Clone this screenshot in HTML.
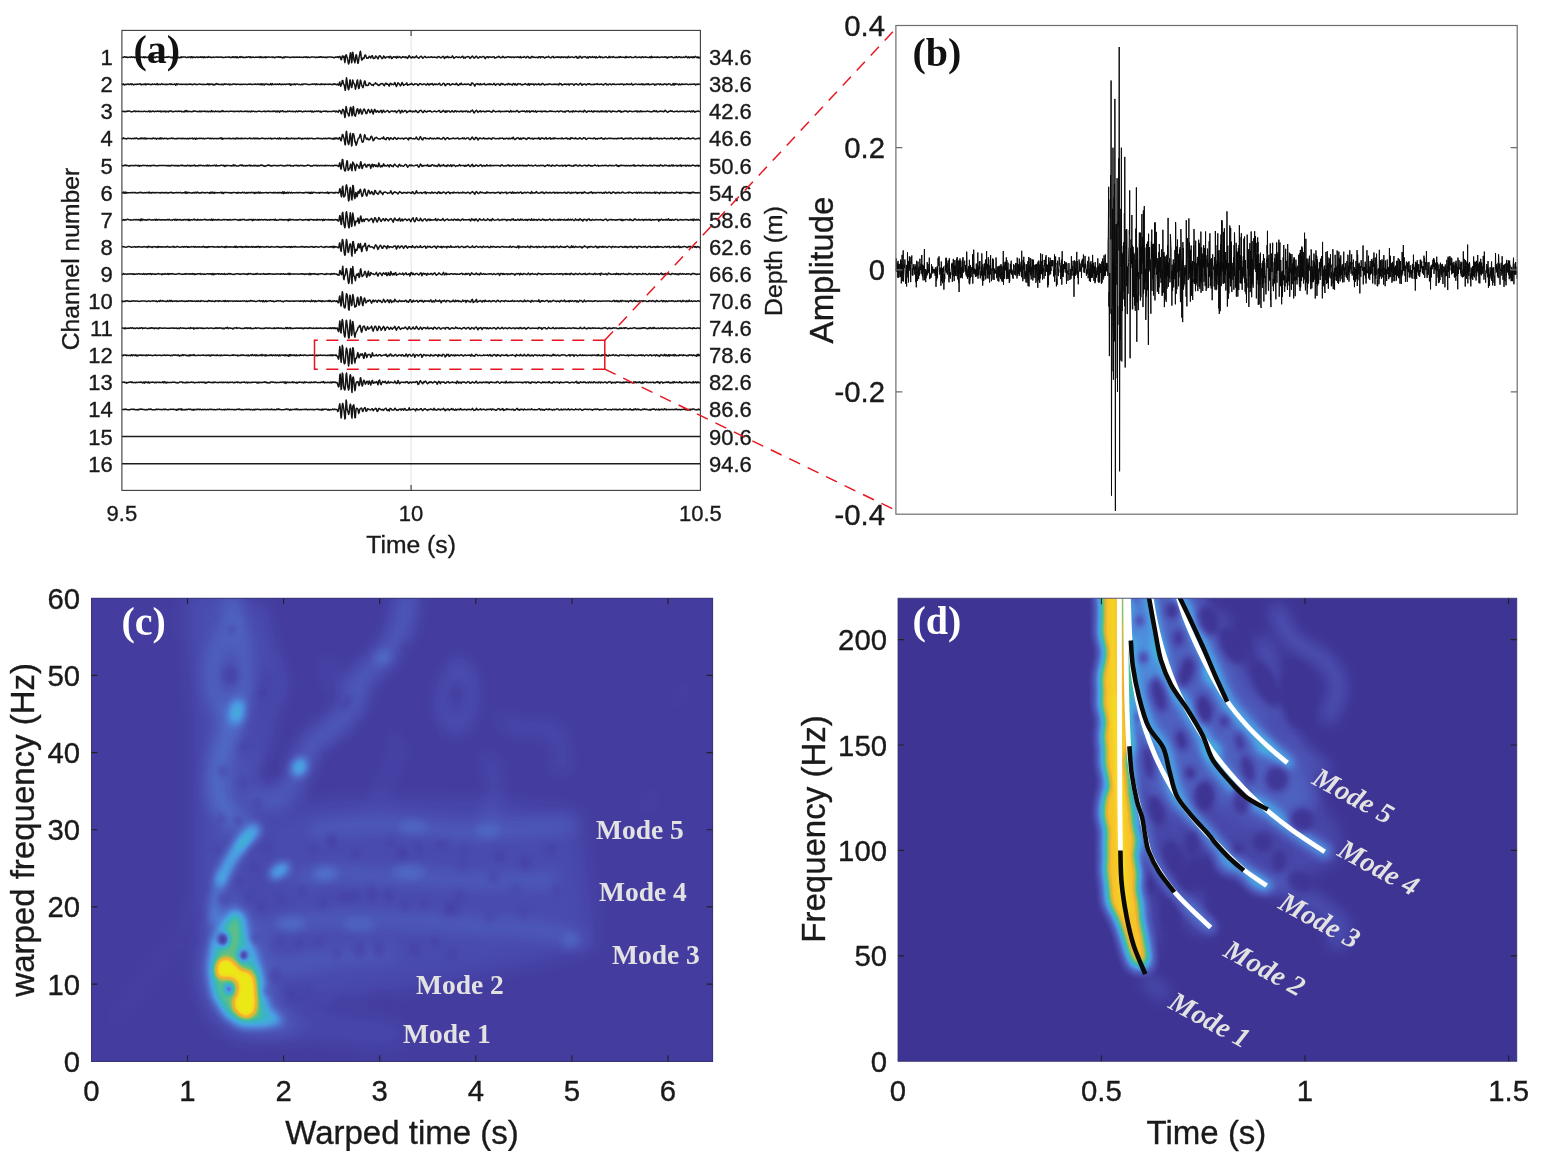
<!DOCTYPE html>
<html lang="en"><head><meta charset="utf-8"><title>Figure</title>
<style>html,body{margin:0;padding:0;background:#fff}body{width:1543px;height:1166px;overflow:hidden}svg{display:block}</style>
</head><body>
<svg width="1543" height="1166" viewBox="0 0 1543 1166">
<rect width="1543" height="1166" fill="#fff"/>
<defs>
<filter id="cmC" filterUnits="userSpaceOnUse" x="60" y="570" width="700" height="520" color-interpolation-filters="sRGB"><feComponentTransfer><feFuncR type="table" tableValues="0.267 0.29 0.306 0.31 0.302 0.29 0.259 0.227 0.243 0.333 0.451 0.627 0.804 0.941 0.973 0.961 0.925"/><feFuncG type="table" tableValues="0.239 0.302 0.376 0.463 0.553 0.627 0.675 0.706 0.729 0.745 0.753 0.753 0.737 0.686 0.706 0.843 0.914"/><feFuncB type="table" tableValues="0.627 0.686 0.745 0.808 0.859 0.882 0.843 0.776 0.686 0.569 0.451 0.333 0.235 0.196 0.176 0.137 0.086"/></feComponentTransfer></filter>
<filter id="bC2" filterUnits="userSpaceOnUse" x="30" y="540" width="760" height="580" color-interpolation-filters="sRGB"><feGaussianBlur stdDeviation="2.6"/></filter>
<filter id="bC3" filterUnits="userSpaceOnUse" x="30" y="540" width="760" height="580" color-interpolation-filters="sRGB"><feGaussianBlur stdDeviation="3"/></filter>
<filter id="bC5" filterUnits="userSpaceOnUse" x="30" y="540" width="760" height="580" color-interpolation-filters="sRGB"><feGaussianBlur stdDeviation="5"/></filter>
<filter id="bC8" filterUnits="userSpaceOnUse" x="30" y="540" width="760" height="580" color-interpolation-filters="sRGB"><feGaussianBlur stdDeviation="8"/></filter>
<filter id="bC12" filterUnits="userSpaceOnUse" x="30" y="540" width="760" height="580" color-interpolation-filters="sRGB"><feGaussianBlur stdDeviation="12"/></filter>
<clipPath id="clipC"><rect x="91.4" y="598.2" width="621.3" height="463.1"/></clipPath>
</defs>
<g id="panelC">
<g clip-path="url(#clipC)"><g filter="url(#cmC)">
<rect x="60" y="570" width="700" height="520" fill="#000"/>
<g filter="url(#bC12)">
<path d="M263.6 807.9 372.6 799.9 493.7 803.9 578.5 812 586.6 880.6 594.6 945.2 534.1 961.3 413 985.6 316.1 1001.7 267.6 985.6 259.6 921 251.5 860.4Z" fill="#fff" fill-opacity="0.055"/>
<path d="M267.6 1019.9C278.4 1021.2 310.7 1025.6 332.2 1028C353.8 1030.3 386.1 1033 396.8 1034" fill="none" stroke="#fff" stroke-width="16" stroke-opacity="0.07" stroke-linecap="round" stroke-linejoin="round"/>
<path d="M114.2 1021.9C121.6 1011.8 145.2 979.5 158.6 961.3C172.1 943.2 188.9 921 195 912.9" fill="none" stroke="#fff" stroke-width="10" stroke-opacity="0.035" stroke-linecap="round" stroke-linejoin="round"/>
<path d="M211.1 610.1C213.1 628.3 221.2 683.5 223.2 719.1C225.2 754.8 223.2 793.1 223.2 824.1C223.2 855 223.2 891.4 223.2 904.8" fill="none" stroke="#fff" stroke-width="50" stroke-opacity="0.07" stroke-linecap="round" stroke-linejoin="round"/>
<path d="M229.7 905.6 211.8 929.5 203.9 969.2 213.8 1009 239.7 1030.9 269.5 1028.9 303.3 1026.9 271.5 1009 265.5 969.2 251.6 919.5Z" fill="#fff" fill-opacity="0.2"/>
</g>
<g filter="url(#bC8)">
<path d="M233.7 600C234.7 604.6 237.5 618.9 239.7 627.8C241.8 636.8 245.5 643.8 246.6 653.7C247.8 663.6 248.1 677.9 246.6 687.5C245.1 697.1 240.5 703.8 237.7 711.4C234.9 719 232.4 726.3 229.7 733.3C227.1 740.2 223.9 745.9 221.8 753.2C219.6 760.5 217.1 769.1 216.8 777C216.5 785 217.3 794.3 219.8 800.9C222.3 807.5 226.7 812.2 231.7 816.8C236.7 821.5 246.6 826.8 249.6 828.8" fill="none" stroke="#fff" stroke-width="21" stroke-opacity="0.1" stroke-linecap="round" stroke-linejoin="round"/>
<path d="M229.7 627.8C227.1 632.8 216.8 647.7 213.8 657.7C210.8 667.6 210.8 679.6 211.8 687.5C212.8 695.5 216.1 700.4 219.8 705.4C223.4 710.4 231.4 715.4 233.7 717.4" fill="none" stroke="#fff" stroke-width="17" stroke-opacity="0.07" stroke-linecap="round" stroke-linejoin="round"/>
<path d="M259.6 609.9C260.4 614.6 262.2 628.8 264.5 637.8C266.9 646.7 271 655.4 273.5 663.6C276 671.9 280.1 679.9 279.5 687.5C278.8 695.1 272.2 701.1 269.5 709.4C266.9 717.7 265.7 728.6 263.5 737.2C261.4 745.9 259.6 754.5 256.6 761.1C253.6 767.8 247.5 774.4 245.6 777" fill="none" stroke="#fff" stroke-width="17" stroke-opacity="0.055" stroke-linecap="round" stroke-linejoin="round"/>
<path d="M406.8 600C405.8 604.6 404.8 618.2 400.8 627.8C396.8 637.5 389.9 648.7 382.9 657.7C375.9 666.6 363.7 674.3 359 681.5C354.4 688.8 359 694.1 355.1 701.4C351.1 708.7 341.8 718.7 335.2 725.3C328.5 731.9 321.2 734.3 315.3 741.2C309.3 748.2 303.3 759.5 299.4 767.1C295.4 774.7 295.7 781.7 291.4 787C287.1 792.3 279.1 797.3 273.5 798.9C267.9 800.6 260.2 797.3 257.6 796.9" fill="none" stroke="#fff" stroke-width="23" stroke-opacity="0.1" stroke-linecap="round" stroke-linejoin="round"/>
<path d="M458.5 663.6C456.2 667.6 446.9 678.6 444.6 687.5C442.3 696.5 442.3 710.7 444.6 717.4C446.9 724 454.4 728.6 458.5 727.3C462.6 726 467.6 717.7 469.4 709.4C471.3 701.1 471.3 685.2 469.4 677.6C467.6 669.9 460.3 666 458.5 663.6" fill="none" stroke="#fff" stroke-width="13" stroke-opacity="0.07" stroke-linecap="round" stroke-linejoin="round"/>
<path d="M398.8 737.2C398.2 741.2 398.2 751.2 394.8 761.1C391.5 771.1 381.6 791 378.9 796.9" fill="none" stroke="#fff" stroke-width="18" stroke-opacity="0.028" stroke-linecap="round" stroke-linejoin="round"/>
<path d="M327.2 663.6C327.9 666.6 327.9 677.6 331.2 681.5C334.5 685.5 344.4 686.5 347.1 687.5" fill="none" stroke="#fff" stroke-width="18" stroke-opacity="0.028" stroke-linecap="round" stroke-linejoin="round"/>
<path d="M505.6 721.3C508.6 722.7 517.2 728.3 523.5 729.3C529.8 730.3 537.5 726 543.4 727.3C549.4 728.6 556.4 730.6 559.4 737.2C562.3 743.9 561 762.1 561.3 767.1" fill="none" stroke="#fff" stroke-width="20" stroke-opacity="0.035" stroke-linecap="round" stroke-linejoin="round"/>
<path d="M489.7 761.1C490.7 765.4 495.7 777.7 495.7 787C495.7 796.3 490.7 811.8 489.7 816.8" fill="none" stroke="#fff" stroke-width="20" stroke-opacity="0.035" stroke-linecap="round" stroke-linejoin="round"/>
<ellipse cx="680.7" cy="695.5" rx="5" ry="13" fill="#fff" fill-opacity="0.03" transform="rotate(20 680.7 695.5)"/>
<ellipse cx="648.9" cy="800.9" rx="6" ry="12" fill="#fff" fill-opacity="0.03" transform="rotate(20 648.9 800.9)"/>
<path d="M316.1 830.1C325.5 829.1 356.5 824.8 372.6 824.1C388.7 823.4 399.5 824.8 413 826.1C426.4 827.4 439.9 831.5 453.3 832.2C466.8 832.8 474.2 831.5 493.7 830.1C513.2 828.8 557.6 825.1 570.4 824.1" fill="none" stroke="#fff" stroke-width="19" stroke-opacity="0.055" stroke-linecap="round" stroke-linejoin="round"/>
<path d="M299.9 880.6C305.3 879.3 320.1 873.2 332.2 872.5C344.3 871.9 359.1 875.9 372.6 876.6C386.1 877.2 396.1 875.9 413 876.6C429.8 877.2 450.7 879.9 473.5 880.6C496.4 881.3 537.4 880.6 550.2 880.6" fill="none" stroke="#fff" stroke-width="19" stroke-opacity="0.055" stroke-linecap="round" stroke-linejoin="round"/>
<path d="M271.7 925C283.1 924 316.8 919.6 340.3 919C363.9 918.3 390.8 920 413 921C435.2 922 453.3 923.7 473.5 925C493.7 926.4 515.9 926.4 534.1 929C552.3 931.7 574.5 939.1 582.5 941.2" fill="none" stroke="#fff" stroke-width="19" stroke-opacity="0.055" stroke-linecap="round" stroke-linejoin="round"/>
<path d="M279.7 967.4C288.5 965.7 314.1 959.7 332.2 957.3C350.4 955 379.3 953.9 388.7 953.3" fill="none" stroke="#fff" stroke-width="19" stroke-opacity="0.05" stroke-linecap="round" stroke-linejoin="round"/>
</g>
<g filter="url(#bC5)">
<ellipse cx="237.3" cy="711.4" rx="5.5" ry="12" fill="#fff" fill-opacity="0.32" transform="rotate(10 237.3 711.4)"/>
<ellipse cx="299.4" cy="767.1" rx="6.5" ry="9" fill="#fff" fill-opacity="0.36" transform="rotate(25 299.4 767.1)"/>
<ellipse cx="382.9" cy="657.7" rx="9" ry="8" fill="#fff" fill-opacity="0.08"/>
<path d="M254.6 830C252.4 832.3 246 838.3 241.7 843.9C237.4 849.6 232.2 857.8 228.7 863.8C225.3 869.8 222.1 877.1 220.8 879.7" fill="none" stroke="#fff" stroke-width="10" stroke-opacity="0.34" stroke-linecap="round" stroke-linejoin="round"/>
<path d="M220.8 879.7C219.9 883 216.6 893 215.4 899.6C214.2 906.3 214.1 916.2 213.8 919.5" fill="none" stroke="#fff" stroke-width="10" stroke-opacity="0.14" stroke-linecap="round" stroke-linejoin="round"/>
<ellipse cx="242.7" cy="842.9" rx="4" ry="11" fill="#fff" fill-opacity="0.25" transform="rotate(40 242.7 842.9)"/>
<ellipse cx="279.5" cy="870.8" rx="11" ry="5.5" fill="#fff" fill-opacity="0.36" transform="rotate(-35 279.5 870.8)"/>
<ellipse cx="325.2" cy="873.8" rx="12" ry="7" fill="#fff" fill-opacity="0.1"/>
<ellipse cx="408.8" cy="871.8" rx="16" ry="8" fill="#fff" fill-opacity="0.07"/>
<ellipse cx="291.4" cy="923.5" rx="14" ry="7" fill="#fff" fill-opacity="0.07"/>
<ellipse cx="359" cy="925.5" rx="16" ry="7" fill="#fff" fill-opacity="0.06"/>
<ellipse cx="487.7" cy="831.3" rx="12" ry="7" fill="#fff" fill-opacity="0.06"/>
<ellipse cx="413" cy="826.9" rx="14" ry="7" fill="#fff" fill-opacity="0.06"/>
<ellipse cx="570.4" cy="941.2" rx="9" ry="9" fill="#fff" fill-opacity="0.06"/>
<path d="M233.7 909.6 222.8 923.5 212.8 941.4 208.8 969.2 212.8 995.1 224.8 1015 239.7 1025.9 259.6 1025.9 283.4 1022 267.5 1009 262.6 981.2 255.6 957.3 245.6 933.4 243.7 915.5Z" fill="#fff" fill-opacity="0.34"/>
</g>
<g filter="url(#bC3)">
<path d="M233.7 914.5 226.7 925.5 227.7 941.4 216.8 953.3 212.8 973.2 217.8 997.1 229.7 1015 245.6 1022 261.6 1018 259.6 989.1 257.6 967.3 247.6 965.3 237.7 949.4 241.7 933.4 239.7 917.5Z" fill="#fff" fill-opacity="0.22"/>
<ellipse cx="230.7" cy="675.6" rx="8" ry="10" fill="#000" fill-opacity="0.6"/>
<ellipse cx="261.6" cy="693.5" rx="4" ry="5" fill="#000" fill-opacity="0.6"/>
<ellipse cx="231.7" cy="629.8" rx="4" ry="5" fill="#000" fill-opacity="0.6"/>
<ellipse cx="243.7" cy="746.2" rx="4" ry="5" fill="#000" fill-opacity="0.6"/>
<ellipse cx="222.8" cy="771.1" rx="4" ry="5" fill="#000" fill-opacity="0.6"/>
<ellipse cx="242.7" cy="782" rx="4" ry="5" fill="#000" fill-opacity="0.6"/>
<ellipse cx="257.6" cy="802.9" rx="4" ry="5" fill="#000" fill-opacity="0.6"/>
<ellipse cx="220.8" cy="818.8" rx="4" ry="5" fill="#000" fill-opacity="0.6"/>
<ellipse cx="237.7" cy="820.8" rx="4" ry="5" fill="#000" fill-opacity="0.6"/>
<ellipse cx="273.5" cy="769.1" rx="7" ry="8.8" fill="#000" fill-opacity="0.6"/>
<ellipse cx="345.1" cy="705.4" rx="4" ry="5" fill="#000" fill-opacity="0.6"/>
<ellipse cx="404.8" cy="647.7" rx="4" ry="5" fill="#000" fill-opacity="0.6"/>
<ellipse cx="455.5" cy="693.5" rx="5" ry="6.2" fill="#000" fill-opacity="0.6"/>
<ellipse cx="406.8" cy="735.3" rx="5" ry="6.2" fill="#000" fill-opacity="0.6"/>
<ellipse cx="426.7" cy="735.3" rx="5" ry="6.2" fill="#000" fill-opacity="0.6"/>
<ellipse cx="325.2" cy="753.2" rx="3" ry="3.8" fill="#000" fill-opacity="0.6"/>
<ellipse cx="222.8" cy="899.6" rx="4.5" ry="5.9" fill="#000" fill-opacity="0.55"/>
<ellipse cx="248.6" cy="898.6" rx="4" ry="5.2" fill="#000" fill-opacity="0.55"/>
<ellipse cx="260.6" cy="906.6" rx="4" ry="5.2" fill="#000" fill-opacity="0.55"/>
<ellipse cx="239.7" cy="881.7" rx="4" ry="5.2" fill="#000" fill-opacity="0.55"/>
<ellipse cx="254.6" cy="867.8" rx="4" ry="5.2" fill="#000" fill-opacity="0.55"/>
<ellipse cx="216.8" cy="848.9" rx="3.5" ry="4.5" fill="#000" fill-opacity="0.55"/>
<ellipse cx="268.5" cy="848.9" rx="4" ry="5.2" fill="#000" fill-opacity="0.55"/>
<ellipse cx="199.9" cy="916.5" rx="3.5" ry="4.5" fill="#000" fill-opacity="0.55"/>
<ellipse cx="194.9" cy="938.4" rx="3.5" ry="4.5" fill="#000" fill-opacity="0.55"/>
<ellipse cx="254.6" cy="938.4" rx="4" ry="5.2" fill="#000" fill-opacity="0.55"/>
<ellipse cx="281.5" cy="899.6" rx="4" ry="5.2" fill="#000" fill-opacity="0.55"/>
<ellipse cx="280.5" cy="941.4" rx="4" ry="5.2" fill="#000" fill-opacity="0.55"/>
<ellipse cx="265.5" cy="991.1" rx="4" ry="5.2" fill="#000" fill-opacity="0.55"/>
<ellipse cx="302.3" cy="889.7" rx="5" ry="6.5" fill="#000" fill-opacity="0.55"/>
<ellipse cx="314.3" cy="848.9" rx="4" ry="5.2" fill="#000" fill-opacity="0.55"/>
<ellipse cx="323.2" cy="903.6" rx="4" ry="5.2" fill="#000" fill-opacity="0.55"/>
<ellipse cx="342.1" cy="897.6" rx="4.5" ry="5.9" fill="#000" fill-opacity="0.55"/>
<ellipse cx="354.1" cy="895.6" rx="4.5" ry="5.9" fill="#000" fill-opacity="0.55"/>
<ellipse cx="299.4" cy="943.4" rx="4" ry="5.2" fill="#000" fill-opacity="0.55"/>
<ellipse cx="307.3" cy="989.1" rx="4" ry="5.2" fill="#000" fill-opacity="0.55"/>
<ellipse cx="275.5" cy="975.2" rx="6" ry="7.8" fill="#000" fill-opacity="0.55"/>
<ellipse cx="291.4" cy="995.1" rx="4" ry="5.2" fill="#000" fill-opacity="0.55"/>
<ellipse cx="319.2" cy="941.4" rx="4" ry="5.2" fill="#000" fill-opacity="0.55"/>
<ellipse cx="337.2" cy="953.3" rx="4" ry="5.2" fill="#000" fill-opacity="0.55"/>
<ellipse cx="359" cy="949.4" rx="6" ry="7.8" fill="#000" fill-opacity="0.55"/>
<ellipse cx="378.9" cy="949.4" rx="6" ry="7.8" fill="#000" fill-opacity="0.55"/>
<ellipse cx="390.9" cy="841.9" rx="4" ry="5.2" fill="#000" fill-opacity="0.55"/>
<ellipse cx="404.8" cy="853.9" rx="4" ry="5.2" fill="#000" fill-opacity="0.55"/>
<ellipse cx="418.7" cy="847.9" rx="4" ry="5.2" fill="#000" fill-opacity="0.55"/>
<ellipse cx="438.6" cy="843.9" rx="4" ry="5.2" fill="#000" fill-opacity="0.55"/>
<ellipse cx="388.9" cy="895.6" rx="5" ry="6.5" fill="#000" fill-opacity="0.55"/>
<ellipse cx="404.8" cy="905.6" rx="4" ry="5.2" fill="#000" fill-opacity="0.55"/>
<ellipse cx="424.7" cy="903.6" rx="4" ry="5.2" fill="#000" fill-opacity="0.55"/>
<ellipse cx="448.5" cy="909.6" rx="5" ry="6.5" fill="#000" fill-opacity="0.55"/>
<ellipse cx="371" cy="889.7" rx="4" ry="5.2" fill="#000" fill-opacity="0.55"/>
<ellipse cx="414.7" cy="949.4" rx="5" ry="6.5" fill="#000" fill-opacity="0.55"/>
<ellipse cx="434.6" cy="941.4" rx="4" ry="5.2" fill="#000" fill-opacity="0.55"/>
<ellipse cx="331.2" cy="841.9" rx="4" ry="5.2" fill="#000" fill-opacity="0.55"/>
<ellipse cx="355.1" cy="853.9" rx="4" ry="5.2" fill="#000" fill-opacity="0.55"/>
<ellipse cx="462.5" cy="865.8" rx="4" ry="5.2" fill="#000" fill-opacity="0.55"/>
<ellipse cx="452.5" cy="953.3" rx="5" ry="6.5" fill="#000" fill-opacity="0.55"/>
<ellipse cx="378.9" cy="999.1" rx="5" ry="6.5" fill="#000" fill-opacity="0.55"/>
<ellipse cx="343.1" cy="1001.1" rx="4" ry="5.2" fill="#000" fill-opacity="0.55"/>
<ellipse cx="463.9" cy="849.9" rx="4" ry="5.2" fill="#000" fill-opacity="0.5"/>
<ellipse cx="499.7" cy="855.9" rx="5" ry="6.5" fill="#000" fill-opacity="0.5"/>
<ellipse cx="523.5" cy="861.8" rx="4" ry="5.2" fill="#000" fill-opacity="0.5"/>
<ellipse cx="551.4" cy="849.9" rx="5" ry="6.5" fill="#000" fill-opacity="0.5"/>
<ellipse cx="459.9" cy="895.6" rx="5" ry="6.5" fill="#000" fill-opacity="0.5"/>
<ellipse cx="489.7" cy="917.5" rx="4" ry="5.2" fill="#000" fill-opacity="0.5"/>
<ellipse cx="523.5" cy="913.5" rx="4" ry="5.2" fill="#000" fill-opacity="0.5"/>
<ellipse cx="557.4" cy="889.7" rx="4" ry="5.2" fill="#000" fill-opacity="0.5"/>
<ellipse cx="515.6" cy="889.7" rx="4" ry="5.2" fill="#000" fill-opacity="0.5"/>
<ellipse cx="332.2" cy="840.2" rx="6" ry="7.5" fill="#000" fill-opacity="0.5"/>
<ellipse cx="400.9" cy="852.3" rx="5" ry="6.2" fill="#000" fill-opacity="0.5"/>
<ellipse cx="445.3" cy="844.3" rx="4" ry="5" fill="#000" fill-opacity="0.5"/>
<ellipse cx="493.7" cy="876.6" rx="5" ry="6.2" fill="#000" fill-opacity="0.5"/>
<ellipse cx="526" cy="864.5" rx="5" ry="6.2" fill="#000" fill-opacity="0.5"/>
<ellipse cx="348.4" cy="896.7" rx="4" ry="5" fill="#000" fill-opacity="0.5"/>
<ellipse cx="372.6" cy="896.7" rx="5" ry="6.2" fill="#000" fill-opacity="0.5"/>
<ellipse cx="453.3" cy="908.9" rx="6" ry="7.5" fill="#000" fill-opacity="0.5"/>
<ellipse cx="348.4" cy="698.9" rx="4" ry="5" fill="#000" fill-opacity="0.5"/>
<ellipse cx="455.4" cy="692.9" rx="5" ry="6.2" fill="#000" fill-opacity="0.5"/>
</g>
<g filter="url(#bC2)">
<path d="M215.8 965.3 219.8 959.3 227.7 957.3 234.7 962.3 240.7 969.2 249.6 971.2 254.6 977.2 256 989.1 256.8 1005.1 254.6 1014 247.6 1018 239.7 1016 233.7 1009 232.7 1001.1 236.7 993.1 237.7 985.2 233.7 979.2 226.7 978.2 219.8 979.2 215.8 973.2Z" fill="#fff" fill-opacity="1.0"/>
<ellipse cx="222.8" cy="939.4" rx="5.8" ry="6.8" fill="#000" fill-opacity="1"/>
<ellipse cx="243.7" cy="955.3" rx="4.8" ry="5.8" fill="#000" fill-opacity="1"/>
<ellipse cx="228.7" cy="989.1" rx="3.4" ry="4.4" fill="#000" fill-opacity="0.95"/>
</g>
</g></g>
<rect x="91.4" y="598.2" width="621.3" height="463.1" fill="none" stroke="#35326e" stroke-width="0.8"/>
<path d="M187.5 1061.3 v-6 M187.5 598.2 v6 M283.6 1061.3 v-6 M283.6 598.2 v6 M379.7 1061.3 v-6 M379.7 598.2 v6 M475.8 1061.3 v-6 M475.8 598.2 v6 M571.9 1061.3 v-6 M571.9 598.2 v6 M668 1061.3 v-6 M668 598.2 v6 M91.4 984.1 h6 M712.7 984.1 h-6 M91.4 906.9 h6 M712.7 906.9 h-6 M91.4 829.8 h6 M712.7 829.8 h-6 M91.4 752.6 h6 M712.7 752.6 h-6 M91.4 675.4 h6 M712.7 675.4 h-6" stroke="#222" stroke-width="1.1"/>
<text x="91.4" y="1100.6" font-size="29.3" text-anchor="middle" font-family='"Liberation Sans", Arial, sans-serif' fill="#1a1a1a"  stroke="#1a1a1a" stroke-width="0.35">0</text>
<text x="187.5" y="1100.6" font-size="29.3" text-anchor="middle" font-family='"Liberation Sans", Arial, sans-serif' fill="#1a1a1a"  stroke="#1a1a1a" stroke-width="0.35">1</text>
<text x="283.6" y="1100.6" font-size="29.3" text-anchor="middle" font-family='"Liberation Sans", Arial, sans-serif' fill="#1a1a1a"  stroke="#1a1a1a" stroke-width="0.35">2</text>
<text x="379.7" y="1100.6" font-size="29.3" text-anchor="middle" font-family='"Liberation Sans", Arial, sans-serif' fill="#1a1a1a"  stroke="#1a1a1a" stroke-width="0.35">3</text>
<text x="475.8" y="1100.6" font-size="29.3" text-anchor="middle" font-family='"Liberation Sans", Arial, sans-serif' fill="#1a1a1a"  stroke="#1a1a1a" stroke-width="0.35">4</text>
<text x="571.9" y="1100.6" font-size="29.3" text-anchor="middle" font-family='"Liberation Sans", Arial, sans-serif' fill="#1a1a1a"  stroke="#1a1a1a" stroke-width="0.35">5</text>
<text x="668" y="1100.6" font-size="29.3" text-anchor="middle" font-family='"Liberation Sans", Arial, sans-serif' fill="#1a1a1a"  stroke="#1a1a1a" stroke-width="0.35">6</text>
<text x="80" y="1071.8" font-size="29.3" text-anchor="end" font-family='"Liberation Sans", Arial, sans-serif' fill="#1a1a1a"  stroke="#1a1a1a" stroke-width="0.35">0</text>
<text x="80" y="994.6" font-size="29.3" text-anchor="end" font-family='"Liberation Sans", Arial, sans-serif' fill="#1a1a1a"  stroke="#1a1a1a" stroke-width="0.35">10</text>
<text x="80" y="917.4" font-size="29.3" text-anchor="end" font-family='"Liberation Sans", Arial, sans-serif' fill="#1a1a1a"  stroke="#1a1a1a" stroke-width="0.35">20</text>
<text x="80" y="840.3" font-size="29.3" text-anchor="end" font-family='"Liberation Sans", Arial, sans-serif' fill="#1a1a1a"  stroke="#1a1a1a" stroke-width="0.35">30</text>
<text x="80" y="763.1" font-size="29.3" text-anchor="end" font-family='"Liberation Sans", Arial, sans-serif' fill="#1a1a1a"  stroke="#1a1a1a" stroke-width="0.35">40</text>
<text x="80" y="685.9" font-size="29.3" text-anchor="end" font-family='"Liberation Sans", Arial, sans-serif' fill="#1a1a1a"  stroke="#1a1a1a" stroke-width="0.35">50</text>
<text x="80" y="608.7" font-size="29.3" text-anchor="end" font-family='"Liberation Sans", Arial, sans-serif' fill="#1a1a1a"  stroke="#1a1a1a" stroke-width="0.35">60</text>
<text x="402" y="1143.5" font-size="33.0" text-anchor="middle" font-family='"Liberation Sans", Arial, sans-serif' fill="#1a1a1a"  stroke="#1a1a1a" stroke-width="0.35">Warped time (s)</text>
<text transform="translate(34.2,829.8) rotate(-90)" font-size="33.0" text-anchor="middle" font-family='"Liberation Sans", Arial, sans-serif' fill="#1a1a1a" stroke="#1a1a1a" stroke-width="0.35">warped frequency (Hz)</text>
<text x="121.5" y="635" font-size="40" text-anchor="start" font-family='"Liberation Serif", "Times New Roman", serif' fill="#fff" font-weight="bold">(c)</text>
<text x="596" y="838.5" font-size="27.5" text-anchor="start" font-family='"Liberation Serif", "Times New Roman", serif' fill="#e2e2e2" font-weight="bold">Mode 5</text>
<text x="599" y="901" font-size="27.5" text-anchor="start" font-family='"Liberation Serif", "Times New Roman", serif' fill="#e2e2e2" font-weight="bold">Mode 4</text>
<text x="612" y="964" font-size="27.5" text-anchor="start" font-family='"Liberation Serif", "Times New Roman", serif' fill="#e2e2e2" font-weight="bold">Mode 3</text>
<text x="416" y="994" font-size="27.5" text-anchor="start" font-family='"Liberation Serif", "Times New Roman", serif' fill="#e2e2e2" font-weight="bold">Mode 2</text>
<text x="403" y="1042.5" font-size="27.5" text-anchor="start" font-family='"Liberation Serif", "Times New Roman", serif' fill="#e2e2e2" font-weight="bold">Mode 1</text>
</g>
<defs>
<filter id="cmD" filterUnits="userSpaceOnUse" x="870" y="570" width="680" height="520" color-interpolation-filters="sRGB"><feComponentTransfer><feFuncR type="table" tableValues="0.243 0.29 0.306 0.31 0.302 0.29 0.259 0.227 0.243 0.333 0.451 0.627 0.804 0.941 0.973 0.961 0.925"/><feFuncG type="table" tableValues="0.204 0.302 0.376 0.463 0.553 0.627 0.675 0.706 0.729 0.745 0.753 0.753 0.737 0.686 0.706 0.843 0.914"/><feFuncB type="table" tableValues="0.58 0.686 0.745 0.808 0.859 0.882 0.843 0.776 0.686 0.569 0.451 0.333 0.235 0.196 0.176 0.137 0.086"/></feComponentTransfer></filter>
<filter id="bD2" filterUnits="userSpaceOnUse" x="840" y="540" width="740" height="580" color-interpolation-filters="sRGB"><feGaussianBlur stdDeviation="2"/></filter>
<filter id="bD3" filterUnits="userSpaceOnUse" x="840" y="540" width="740" height="580" color-interpolation-filters="sRGB"><feGaussianBlur stdDeviation="3"/></filter>
<filter id="bD5" filterUnits="userSpaceOnUse" x="840" y="540" width="740" height="580" color-interpolation-filters="sRGB"><feGaussianBlur stdDeviation="5"/></filter>
<filter id="bD8" filterUnits="userSpaceOnUse" x="840" y="540" width="740" height="580" color-interpolation-filters="sRGB"><feGaussianBlur stdDeviation="8"/></filter>
<filter id="bD12" filterUnits="userSpaceOnUse" x="840" y="540" width="740" height="580" color-interpolation-filters="sRGB"><feGaussianBlur stdDeviation="12"/></filter>
<filter id="hotD" filterUnits="userSpaceOnUse" x="840" y="540" width="740" height="580" color-interpolation-filters="sRGB"><feGaussianBlur stdDeviation="6.5"/><feComponentTransfer><feFuncA type="linear" slope="1.4"/></feComponentTransfer></filter>
<clipPath id="clipD"><rect x="898.0" y="598.2" width="618.8" height="463.1"/></clipPath>
</defs>
<g id="panelD">
<g clip-path="url(#clipD)"><g filter="url(#cmD)">
<rect x="870" y="570" width="680" height="520" fill="#000"/>
<g filter="url(#bD8)">
<path d="M1122 590 1200 590 1218 640 1242 690 1275 735 1308 772 1318 800 1290 822 1255 822 1225 805 1200 800 1172 815 1150 800 1136 770 1128 700Z" fill="#fff" fill-opacity="0.13"/>
<path d="M1150 800 1172 815 1200 800 1225 805 1255 822 1290 822 1318 800 1340 830 1340 860 1300 880 1270 895 1240 880 1215 860 1190 850 1170 880 1150 860 1140 820Z" fill="#fff" fill-opacity="0.05"/>
<path d="M1276.7 610.3C1279.1 615.2 1285.3 632.3 1291.1 639.2C1297 646 1305.2 647 1311.7 651.5C1318.2 656 1325.8 659.7 1330.2 665.9C1334.7 672.1 1338.8 680 1338.5 688.6C1338.1 697.1 1329.9 712.6 1328.2 717.4" fill="none" stroke="#fff" stroke-width="12" stroke-opacity="0.1" stroke-linecap="round" stroke-linejoin="round"/>
<path d="M1262.3 643.3C1263.7 647 1268.8 657 1270.6 665.9C1272.3 674.8 1269.9 686.2 1272.6 696.8C1275.4 707.4 1281.9 720.1 1287 729.7C1292.2 739.3 1297.3 747.9 1303.5 754.4C1309.7 760.9 1320.6 766.4 1324.1 768.8" fill="none" stroke="#fff" stroke-width="12" stroke-opacity="0.1" stroke-linecap="round" stroke-linejoin="round"/>
<path d="M1221.2 616.5C1222.2 622 1222.9 638.1 1227.3 649.5C1231.8 660.8 1241.4 673.8 1247.9 684.4C1254.4 695.1 1263.4 708.4 1266.4 713.3" fill="none" stroke="#fff" stroke-width="12" stroke-opacity="0.08" stroke-linecap="round" stroke-linejoin="round"/>
<path d="M1277 881.8C1282.2 884.6 1297.8 891.5 1308.1 898.4C1318.5 905.3 1334.4 916.1 1339.2 923.3C1344.1 930.6 1337.5 938.9 1337.2 942" fill="none" stroke="#fff" stroke-width="16" stroke-opacity="0.08" stroke-linecap="round" stroke-linejoin="round"/>
<path d="M1196.1 898.4C1195.4 901.5 1190.6 912.3 1192 917.1C1193.4 921.9 1202.4 925.7 1204.4 927.5" fill="none" stroke="#fff" stroke-width="12" stroke-opacity="0.1" stroke-linecap="round" stroke-linejoin="round"/>
<path d="M1148.4 898.4C1148.8 902.2 1150.5 913.3 1150.5 921.2C1150.5 929.2 1148.8 942 1148.4 946.1" fill="none" stroke="#fff" stroke-width="12" stroke-opacity="0.08" stroke-linecap="round" stroke-linejoin="round"/>
<path d="M1148.4 981.4C1150.9 983.5 1160.5 991.8 1163 993.8" fill="none" stroke="#fff" stroke-width="12" stroke-opacity="0.08" stroke-linecap="round" stroke-linejoin="round"/>
</g>
<g filter="url(#bD5)">
<path d="M1130.8 640.5C1131.2 644.8 1131.5 656.9 1132.9 666.4C1134.3 675.9 1136.5 687.5 1139.1 697.5C1141.7 707.5 1144.4 718.3 1148.4 726.6C1152.4 734.9 1159.5 740 1163 747.3C1166.5 754.5 1167 762.1 1169.2 770.1C1171.4 778.1 1173 787.7 1176.4 795C1179.9 802.3 1184.5 807.1 1189.9 813.7C1195.3 820.3 1204.4 829.6 1208.6 834.4C1212.8 839.2 1211.3 838.5 1214.8 842.4C1218.2 846.3 1224.5 853.3 1229.3 858C1234.1 862.7 1237.6 865.8 1243.8 870.4C1250 875 1262.8 883.1 1266.6 885.6" fill="none" stroke="#fff" stroke-width="12" stroke-opacity="0.27" stroke-linecap="round" stroke-linejoin="round"/>
<path d="M1148.3 594C1149.4 599.9 1152.6 618.1 1154.7 629.1C1156.8 640.1 1158.2 650.9 1160.9 660.2C1163.7 669.5 1166.7 676.8 1171.2 685.1C1175.7 693.4 1182.6 701.7 1187.8 710C1193 718.3 1198.2 726.6 1202.4 734.9C1206.6 743.2 1208.2 752.2 1212.7 759.8C1217.2 767.4 1223.8 774.3 1229.3 780.5C1234.8 786.7 1239.5 792.3 1245.9 797.1C1252.3 801.9 1260 804 1267.7 809.5C1275.4 815 1282.5 823 1292 830C1301.5 837 1319.2 848.2 1324.7 851.8" fill="none" stroke="#fff" stroke-width="12" stroke-opacity="0.27" stroke-linecap="round" stroke-linejoin="round"/>
<path d="M1177 592C1179.2 596.5 1185.7 609.8 1189.9 618.7C1194.1 627.7 1198.2 636.4 1202.4 645.7C1206.6 655 1210.7 665.4 1214.8 674.7C1218.9 684 1222 693.4 1227.2 701.7C1232.4 710 1239.3 717.2 1245.9 724.5C1252.5 731.8 1259.7 738.8 1266.6 745.2C1273.5 751.6 1283.9 760 1287.4 762.9" fill="none" stroke="#fff" stroke-width="12" stroke-opacity="0.27" stroke-linecap="round" stroke-linejoin="round"/>
<path d="M1129.4 746.3C1129.8 751 1130.5 765.1 1131.8 774.3C1133.1 783.4 1135.3 794 1137 801.2C1138.7 808.5 1140.8 811.9 1142.2 817.8C1143.6 823.7 1144.3 831 1145.3 836.5C1146.3 842 1146.2 844.9 1148.4 850.7C1150.7 856.5 1154.5 864.6 1158.8 871.5C1163.1 878.4 1168.9 885.8 1174.4 892.2C1179.9 898.6 1186 904.1 1192 910C1198 915.9 1207.6 924.6 1210.7 927.5" fill="none" stroke="#fff" stroke-width="10" stroke-opacity="0.18" stroke-linecap="round" stroke-linejoin="round"/>
<path d="M1132.1 604.2C1133.8 610 1139.6 628.9 1142.4 639.2C1145.1 649.5 1147.2 659.1 1148.6 666C1149.9 672.8 1150.3 678 1150.6 680.4" fill="none" stroke="#fff" stroke-width="8" stroke-opacity="0.2" stroke-linecap="round" stroke-linejoin="round"/>
<ellipse cx="1212.9" cy="750.3" rx="9" ry="8" fill="#fff" fill-opacity="0.25" transform="rotate(30 1212.9 750.3)"/>
<ellipse cx="1208.8" cy="676.2" rx="6" ry="10" fill="#fff" fill-opacity="0.22" transform="rotate(-20 1208.8 676.2)"/>
<ellipse cx="1262.3" cy="748.2" rx="8" ry="6" fill="#fff" fill-opacity="0.2" transform="rotate(35 1262.3 748.2)"/>
<ellipse cx="1158.8" cy="649.5" rx="6" ry="12" fill="#fff" fill-opacity="0.2" transform="rotate(-15 1158.8 649.5)"/>
<ellipse cx="1128" cy="684.5" rx="5" ry="14" fill="#fff" fill-opacity="0.25"/>
<ellipse cx="1225.2" cy="865.3" rx="12" ry="7" fill="#fff" fill-opacity="0.15" transform="rotate(35 1225.2 865.3)"/>
<ellipse cx="1256.3" cy="883.9" rx="12" ry="7" fill="#fff" fill-opacity="0.15" transform="rotate(30 1256.3 883.9)"/>
</g>
<g filter="url(#bD3)">
<ellipse cx="1139.3" cy="620.7" rx="3.9" ry="5.2" fill="#000" fill-opacity="0.92"/>
<ellipse cx="1143.4" cy="657.7" rx="4.5" ry="5.9" fill="#000" fill-opacity="0.92"/>
<ellipse cx="1178.4" cy="638.2" rx="5.9" ry="9.1" fill="#000" fill-opacity="0.92"/>
<ellipse cx="1185.6" cy="674.2" rx="8.5" ry="14.3" fill="#000" fill-opacity="0.92" transform="rotate(20 1185.6 674.2)"/>
<ellipse cx="1158.8" cy="694.8" rx="7.8" ry="18.2" fill="#000" fill-opacity="0.92" transform="rotate(-15 1158.8 694.8)"/>
<ellipse cx="1204.2" cy="709.2" rx="8.5" ry="15.6" fill="#000" fill-opacity="0.92" transform="rotate(-10 1204.2 709.2)"/>
<ellipse cx="1135.2" cy="717.4" rx="3.9" ry="5.2" fill="#000" fill-opacity="0.92"/>
<ellipse cx="1181.5" cy="740.1" rx="6.5" ry="11.7" fill="#000" fill-opacity="0.92" transform="rotate(-15 1181.5 740.1)"/>
<ellipse cx="1148.6" cy="762.7" rx="5.9" ry="18.2" fill="#000" fill-opacity="0.92" transform="rotate(-8 1148.6 762.7)"/>
<ellipse cx="1189.7" cy="773" rx="5.2" ry="6.5" fill="#000" fill-opacity="0.92"/>
<ellipse cx="1106.3" cy="787.5" rx="3.2" ry="4.5" fill="#000" fill-opacity="0.92"/>
<ellipse cx="1204.2" cy="795.7" rx="10.4" ry="13" fill="#000" fill-opacity="0.92"/>
<ellipse cx="1156.8" cy="810.1" rx="8.5" ry="15.6" fill="#000" fill-opacity="0.92" transform="rotate(-15 1156.8 810.1)"/>
<ellipse cx="1138.3" cy="830.7" rx="3.2" ry="5.2" fill="#000" fill-opacity="0.92"/>
<ellipse cx="1172.2" cy="610.4" rx="7.8" ry="9.1" fill="#000" fill-opacity="0.92"/>
<ellipse cx="1208.3" cy="620.7" rx="10.4" ry="15.6" fill="#000" fill-opacity="0.92" transform="rotate(-20 1208.3 620.7)"/>
<ellipse cx="1188.2" cy="665.9" rx="7.5" ry="10" fill="#000" fill-opacity="0.9"/>
<ellipse cx="1204.7" cy="709.1" rx="8.8" ry="11.2" fill="#000" fill-opacity="0.9" transform="rotate(-20 1204.7 709.1)"/>
<ellipse cx="1224.2" cy="721.5" rx="5.6" ry="6.2" fill="#000" fill-opacity="0.9"/>
<ellipse cx="1239.7" cy="742.1" rx="5" ry="10" fill="#000" fill-opacity="0.9" transform="rotate(-10 1239.7 742.1)"/>
<ellipse cx="1247.9" cy="768.8" rx="7.5" ry="15" fill="#000" fill-opacity="0.9" transform="rotate(-15 1247.9 768.8)"/>
<ellipse cx="1276.7" cy="779.1" rx="12.5" ry="13.8" fill="#000" fill-opacity="0.9"/>
<ellipse cx="1190.3" cy="772.9" rx="6.2" ry="7.5" fill="#000" fill-opacity="0.9"/>
<ellipse cx="1204.7" cy="795.6" rx="11.2" ry="16.2" fill="#000" fill-opacity="0.9"/>
<ellipse cx="1241.7" cy="799.7" rx="10" ry="15" fill="#000" fill-opacity="0.9"/>
<ellipse cx="1231.5" cy="645.3" rx="11.2" ry="20" fill="#000" fill-opacity="0.9" transform="rotate(-25 1231.5 645.3)"/>
<ellipse cx="1266.4" cy="684.4" rx="11.2" ry="25" fill="#000" fill-opacity="0.9" transform="rotate(-25 1266.4 684.4)"/>
<ellipse cx="1295.3" cy="696.8" rx="13.8" ry="31.2" fill="#000" fill-opacity="0.9" transform="rotate(-5 1295.3 696.8)"/>
<ellipse cx="1301.4" cy="820.3" rx="12.5" ry="12.5" fill="#000" fill-opacity="0.9"/>
<ellipse cx="1180" cy="740" rx="3.8" ry="7.5" fill="#000" fill-opacity="0.9"/>
<ellipse cx="1140.1" cy="867.3" rx="3.9" ry="5.2" fill="#000" fill-opacity="0.85"/>
<ellipse cx="1145.3" cy="881.8" rx="3.9" ry="5.2" fill="#000" fill-opacity="0.85"/>
<ellipse cx="1206.5" cy="869.4" rx="6.5" ry="10.4" fill="#000" fill-opacity="0.85"/>
<ellipse cx="1187.8" cy="881.8" rx="6.5" ry="6.5" fill="#000" fill-opacity="0.85"/>
<ellipse cx="1279.1" cy="861.1" rx="7.8" ry="11.7" fill="#000" fill-opacity="0.85"/>
<ellipse cx="1237.6" cy="848.7" rx="6.5" ry="6.5" fill="#000" fill-opacity="0.85"/>
<ellipse cx="1173.3" cy="857" rx="10.4" ry="18.2" fill="#000" fill-opacity="0.85" transform="rotate(-20 1173.3 857)"/>
<ellipse cx="1192" cy="842.4" rx="7.8" ry="13" fill="#000" fill-opacity="0.85"/>
<ellipse cx="1262.5" cy="842.4" rx="10.4" ry="10.4" fill="#000" fill-opacity="0.85"/>
<ellipse cx="1225.2" cy="898.4" rx="13" ry="10.4" fill="#000" fill-opacity="0.85"/>
<ellipse cx="1167.1" cy="913" rx="7.8" ry="13" fill="#000" fill-opacity="0.85"/>
<ellipse cx="1299.8" cy="881.8" rx="13" ry="10.4" fill="#000" fill-opacity="0.85" transform="rotate(30 1299.8 881.8)"/>
</g>
<g filter="url(#hotD)" opacity="0.9">
<path d="M1103.5 580C1103.2 581.2 1101.9 584.7 1101.8 587C1101.6 589.3 1102.2 591.7 1102.6 594C1102.9 596.3 1103.5 598.7 1103.7 601C1103.9 603.3 1103.7 605.7 1103.7 608C1103.6 610.3 1103.5 612.7 1103.5 615C1103.5 617.3 1103.8 619.7 1103.7 622C1103.6 624.3 1103.1 626.7 1103 629C1102.9 631.3 1102.7 633.7 1103.1 636C1103.5 638.3 1104.7 640.7 1105.4 643C1106.1 645.3 1107.1 647.7 1107.4 650C1107.7 652.3 1107.5 654.7 1107.2 657C1106.8 659.3 1105.8 661.7 1105.2 664C1104.6 666.3 1103.9 668.7 1103.4 671C1103 673.3 1102.5 675.7 1102.4 678C1102.2 680.3 1102.4 682.7 1102.6 685C1102.9 687.3 1103.9 689.7 1104 692C1104 694.3 1103.1 696.7 1102.9 699C1102.6 701.3 1102 703.7 1102.3 706C1102.6 708.3 1104.1 710.7 1104.9 713C1105.7 715.3 1107 717.7 1107.2 720C1107.4 722.3 1106.6 724.7 1106.1 727C1105.6 729.3 1104.3 731.7 1104.1 734C1103.8 736.3 1104.4 738.7 1104.7 741C1105.1 743.3 1106.2 745.7 1106.4 748C1106.6 750.3 1106.2 752.7 1106.1 755C1105.9 757.3 1105.3 759.7 1105.3 762C1105.4 764.3 1105.9 766.7 1106.5 769C1107.1 771.3 1108.6 773.7 1109.1 776C1109.7 778.3 1110.1 780.7 1109.9 783C1109.7 785.3 1108.5 787.7 1107.9 790C1107.4 792.3 1106.8 794.7 1106.4 797C1106 799.3 1105.8 801.7 1105.4 804C1105 806.3 1104.2 808.7 1104.1 811C1103.9 813.3 1104.3 815.7 1104.8 818C1105.2 820.3 1106.2 822.7 1106.9 825C1107.6 827.3 1108.6 829.7 1108.8 832C1108.9 834.3 1108.2 836.7 1107.8 839C1107.5 841.3 1106.7 843.7 1106.8 846C1106.9 848.3 1108.2 850.7 1108.4 853C1108.6 855.3 1108.2 857.7 1107.9 860C1107.6 862.3 1106.6 864.7 1106.6 867C1106.5 869.3 1107.3 871.7 1107.6 874C1108 876.3 1108.4 878.7 1108.7 881C1109 883.3 1109.2 885.7 1109.4 888C1109.6 890.3 1109.7 892.7 1109.8 895C1109.9 897.3 1109.4 899.7 1110 902C1110.6 904.3 1112.1 906.7 1113.5 909C1114.8 911.3 1116.7 913.7 1117.9 916C1119.1 918.3 1119.9 920.7 1120.7 923C1121.6 925.3 1122.2 927.7 1123 930C1123.8 932.3 1124.8 934.7 1125.6 937C1126.3 939.3 1126.9 941.7 1127.5 944C1128.1 946.3 1128.5 948.7 1129.3 951C1130.1 953.3 1131.4 955.7 1132.3 958C1133.2 960.3 1132.4 963.8 1134.8 965C1137.2 966.2 1144.7 966.2 1146.7 965C1148.7 963.8 1147 960.3 1146.8 958C1146.5 955.7 1145.6 953.3 1145.1 951C1144.6 948.7 1144.1 946.3 1143.7 944C1143.4 941.7 1143.4 939.3 1143 937C1142.6 934.7 1141.9 932.3 1141.3 930C1140.8 927.7 1140.1 925.3 1139.6 923C1139.2 920.7 1138.8 918.3 1138.7 916C1138.6 913.7 1139 911.3 1138.9 909C1138.8 906.7 1138.7 904.3 1138.3 902C1137.8 899.7 1136.6 897.3 1136.1 895C1135.5 892.7 1135 890.3 1135 888C1134.9 885.7 1135.7 883.3 1135.9 881C1136.2 878.7 1136.7 876.3 1136.7 874C1136.6 871.7 1136.2 869.3 1135.7 867C1135.2 864.7 1134.1 862.3 1133.6 860C1133.2 857.7 1132.6 855.3 1132.9 853C1133.1 850.7 1134.5 848.3 1135 846C1135.6 843.7 1136.3 841.3 1136 839C1135.8 836.7 1134.2 834.3 1133.5 832C1132.7 829.7 1132 827.3 1131.7 825C1131.5 822.7 1132.1 820.3 1131.9 818C1131.8 815.7 1131.3 813.3 1130.9 811C1130.5 808.7 1130 806.3 1129.7 804C1129.4 801.7 1129.4 799.3 1129 797C1128.6 794.7 1127.8 792.3 1127.5 790C1127.3 787.7 1127.6 785.3 1127.6 783C1127.6 780.7 1127.9 778.3 1127.6 776C1127.3 773.7 1126.3 771.3 1125.8 769C1125.3 766.7 1124.4 764.3 1124.4 762C1124.4 759.7 1125.1 757.3 1125.8 755C1126.4 752.7 1127.7 750.3 1128.3 748C1128.9 745.7 1129.3 743.3 1129.3 741C1129.2 738.7 1128.4 736.3 1128.1 734C1127.7 731.7 1127.1 729.3 1127 727C1126.9 724.7 1127.6 722.3 1127.6 720C1127.6 717.7 1127.1 715.3 1126.8 713C1126.6 710.7 1126.1 708.3 1126.1 706C1126 703.7 1126.5 701.3 1126.4 699C1126.2 696.7 1125.4 694.3 1125.2 692C1125 689.7 1125 687.3 1125.1 685C1125.3 682.7 1125.9 680.3 1126 678C1126 675.7 1125.6 673.3 1125.6 671C1125.5 668.7 1125.6 666.3 1125.5 664C1125.5 661.7 1125.6 659.3 1125.4 657C1125.2 654.7 1124.6 652.3 1124.3 650C1123.9 647.7 1123.4 645.3 1123.3 643C1123.1 640.7 1123.1 638.3 1123.3 636C1123.6 633.7 1124.6 631.3 1124.7 629C1124.8 626.7 1124.3 624.3 1123.8 622C1123.4 619.7 1122.2 617.3 1122 615C1121.8 612.7 1122.4 610.3 1122.5 608C1122.6 605.7 1122.6 603.3 1122.7 601C1122.8 598.7 1122.8 596.3 1123.1 594C1123.3 591.7 1124 589.3 1124.2 587C1124.4 584.7 1124.2 581.2 1124.2 580Z" fill="#fff"/>
</g>
<g filter="url(#bD3)">
<path d="M1112.5 580C1112.6 593.3 1112.8 640 1113 660C1113.2 680 1113.8 693.3 1114 700" fill="none" stroke="#fff" stroke-width="4" stroke-opacity="0.6" stroke-linecap="round" stroke-linejoin="round"/>
<path d="M1114 700C1114.4 706.7 1115.8 726.7 1116.6 740C1117.3 753.3 1117.8 765 1118.5 780C1119.2 795 1120 816.7 1120.5 830C1121 843.3 1121.1 850 1121.5 860C1121.9 870 1122.2 881.7 1123 890C1123.8 898.3 1125.5 906.7 1126 910" fill="none" stroke="#fff" stroke-width="7" stroke-opacity="0.6" stroke-linecap="round" stroke-linejoin="round"/>
<ellipse cx="1106.3" cy="787.5" rx="2.5" ry="3.5" fill="#000" fill-opacity="0.5"/>
</g>
</g>
<path d="M1119.4 590C1119.4 608.3 1119.4 665 1119.5 700C1119.6 735 1119.6 774.8 1119.8 800C1120 825.2 1120.3 842.5 1120.4 851" fill="none" stroke="#fff" stroke-width="4.8" stroke-opacity="1" stroke-linecap="butt" stroke-linejoin="round"/>
<path d="M1125.6 590C1125.7 605 1125.9 654.2 1126.4 680C1126.9 705.8 1127.6 728.3 1128.6 745C1129.6 761.7 1130.4 768.3 1132.5 780C1134.6 791.7 1138.2 803.2 1141 815C1143.8 826.8 1145.8 841.5 1149 851C1152.2 860.5 1155.7 865.1 1160 872C1164.3 878.9 1169.7 886.2 1175 892.5C1180.3 898.8 1186 904.2 1192 910C1198 915.8 1207.6 924.6 1210.7 927.5" fill="none" stroke="#fff" stroke-width="4.8" stroke-opacity="1" stroke-linecap="butt" stroke-linejoin="round"/>
<path d="M1128.2 590C1128.5 598.3 1129 625 1130 640C1131 655 1132.2 667.5 1134 680C1135.8 692.5 1138 703.7 1141 715C1144 726.3 1148 737.8 1152 748C1156 758.2 1160.3 767.2 1165 776C1169.7 784.8 1174.5 793 1180 801C1185.5 809 1191.5 816.5 1198 824C1204.5 831.5 1211.5 838.5 1219 846C1226.5 853.5 1235.1 862.4 1243 869C1250.9 875.6 1262.7 882.8 1266.6 885.6" fill="none" stroke="#fff" stroke-width="4.8" stroke-opacity="1" stroke-linecap="butt" stroke-linejoin="round"/>
<path d="M1150 590C1150.8 595 1152.7 609.2 1155 620C1157.3 630.8 1160.3 643.3 1164 655C1167.7 666.7 1172 678.8 1177 690C1182 701.2 1188 711.7 1194 722C1200 732.3 1206 742.3 1213 752C1220 761.7 1227.8 771 1236 780C1244.2 789 1252.7 797.7 1262 806C1271.3 814.3 1281.5 822.4 1292 830C1302.5 837.6 1319.2 848.2 1324.7 851.8" fill="none" stroke="#fff" stroke-width="4.8" stroke-opacity="1" stroke-linecap="butt" stroke-linejoin="round"/>
<path d="M1176 590C1177.5 594.7 1181.5 608.7 1185 618C1188.5 627.3 1192.7 636.7 1197 646C1201.3 655.3 1206 664.8 1211 674C1216 683.2 1221.2 692.6 1227 701C1232.8 709.4 1239.3 717.1 1245.9 724.5C1252.5 731.9 1259.7 738.8 1266.6 745.2C1273.5 751.6 1283.9 760 1287.4 762.9" fill="none" stroke="#fff" stroke-width="4.8" stroke-opacity="1" stroke-linecap="butt" stroke-linejoin="round"/>
<path d="M1120.4 850.5C1120.6 855.7 1120.5 870.7 1121.5 881.8C1122.5 892.9 1124.6 906.4 1126.7 917.1C1128.8 927.8 1130.8 936.6 1133.9 946.1C1137 955.6 1143.4 969.4 1145.3 974.1" fill="none" stroke="#0a0a0a" stroke-width="4.6" stroke-opacity="1" stroke-linecap="butt" stroke-linejoin="round"/>
<path d="M1129.4 746.3C1129.8 751 1130.5 765.1 1131.8 774.3C1133.1 783.4 1135.3 794 1137 801.2C1138.7 808.5 1140.8 811.9 1142.2 817.8C1143.6 823.7 1144.3 831 1145.3 836.5C1146.3 842 1146.2 844.9 1148.4 850.7C1150.7 856.5 1154.5 864.6 1158.8 871.5C1163.1 878.4 1171.8 888.8 1174.4 892.2" fill="none" stroke="#0a0a0a" stroke-width="4.6" stroke-opacity="1" stroke-linecap="butt" stroke-linejoin="round"/>
<path d="M1130.8 640.5C1131.2 644.8 1131.5 656.9 1132.9 666.4C1134.3 675.9 1136.5 687.5 1139.1 697.5C1141.7 707.5 1144.4 718.3 1148.4 726.6C1152.4 734.9 1159.5 740 1163 747.3C1166.5 754.5 1167 762.1 1169.2 770.1C1171.4 778.1 1173 787.7 1176.4 795C1179.9 802.3 1184.5 807.1 1189.9 813.7C1195.3 820.3 1204.4 829.6 1208.6 834.4C1212.8 839.2 1211.3 838.5 1214.8 842.4C1218.2 846.3 1224.5 853.3 1229.3 858C1234.1 862.7 1241.4 868.3 1243.8 870.4" fill="none" stroke="#0a0a0a" stroke-width="4.6" stroke-opacity="1" stroke-linecap="butt" stroke-linejoin="round"/>
<path d="M1148.3 594C1149.4 599.9 1152.6 618.1 1154.7 629.1C1156.8 640.1 1158.2 650.9 1160.9 660.2C1163.7 669.5 1166.7 676.8 1171.2 685.1C1175.7 693.4 1182.6 701.7 1187.8 710C1193 718.3 1198.2 726.6 1202.4 734.9C1206.6 743.2 1208.2 752.2 1212.7 759.8C1217.2 767.4 1223.8 774.3 1229.3 780.5C1234.8 786.7 1239.5 792.3 1245.9 797.1C1252.3 801.9 1264.1 807.4 1267.7 809.5" fill="none" stroke="#0a0a0a" stroke-width="4.6" stroke-opacity="1" stroke-linecap="butt" stroke-linejoin="round"/>
<path d="M1177 592C1179.2 596.5 1185.7 609.8 1189.9 618.7C1194.1 627.7 1198.2 636.4 1202.4 645.7C1206.6 655 1210.7 665.4 1214.8 674.7C1218.9 684 1225.1 697.2 1227.2 701.7" fill="none" stroke="#0a0a0a" stroke-width="4.6" stroke-opacity="1" stroke-linecap="butt" stroke-linejoin="round"/>
</g>
<rect x="898.0" y="598.2" width="618.8" height="463.1" fill="none" stroke="#35326e" stroke-width="0.8"/>
<path d="M1101.4 1061.3 v-6 M1101.4 598.2 v6 M1305 1061.3 v-6 M1305 598.2 v6 M1508.6 1061.3 v-6 M1508.6 598.2 v6 M898.0 955.9 h6 M1516.8 955.9 h-6 M898.0 850.4 h6 M1516.8 850.4 h-6 M898.0 745 h6 M1516.8 745 h-6 M898.0 639.6 h6 M1516.8 639.6 h-6" stroke="#222" stroke-width="1.1"/>
<text x="897.8" y="1101.2" font-size="29.3" text-anchor="middle" font-family='"Liberation Sans", Arial, sans-serif' fill="#1a1a1a"  stroke="#1a1a1a" stroke-width="0.35">0</text>
<text x="1101.4" y="1101.2" font-size="29.3" text-anchor="middle" font-family='"Liberation Sans", Arial, sans-serif' fill="#1a1a1a"  stroke="#1a1a1a" stroke-width="0.35">0.5</text>
<text x="1305" y="1101.2" font-size="29.3" text-anchor="middle" font-family='"Liberation Sans", Arial, sans-serif' fill="#1a1a1a"  stroke="#1a1a1a" stroke-width="0.35">1</text>
<text x="1508.6" y="1101.2" font-size="29.3" text-anchor="middle" font-family='"Liberation Sans", Arial, sans-serif' fill="#1a1a1a"  stroke="#1a1a1a" stroke-width="0.35">1.5</text>
<text x="887" y="1071.8" font-size="29.3" text-anchor="end" font-family='"Liberation Sans", Arial, sans-serif' fill="#1a1a1a"  stroke="#1a1a1a" stroke-width="0.35">0</text>
<text x="887" y="966.4" font-size="29.3" text-anchor="end" font-family='"Liberation Sans", Arial, sans-serif' fill="#1a1a1a"  stroke="#1a1a1a" stroke-width="0.35">50</text>
<text x="887" y="860.9" font-size="29.3" text-anchor="end" font-family='"Liberation Sans", Arial, sans-serif' fill="#1a1a1a"  stroke="#1a1a1a" stroke-width="0.35">100</text>
<text x="887" y="755.5" font-size="29.3" text-anchor="end" font-family='"Liberation Sans", Arial, sans-serif' fill="#1a1a1a"  stroke="#1a1a1a" stroke-width="0.35">150</text>
<text x="887" y="650.1" font-size="29.3" text-anchor="end" font-family='"Liberation Sans", Arial, sans-serif' fill="#1a1a1a"  stroke="#1a1a1a" stroke-width="0.35">200</text>
<text x="1206.5" y="1143.5" font-size="33.0" text-anchor="middle" font-family='"Liberation Sans", Arial, sans-serif' fill="#1a1a1a"  stroke="#1a1a1a" stroke-width="0.35">Time (s)</text>
<text transform="translate(824.8,829) rotate(-90)" font-size="33.0" text-anchor="middle" font-family='"Liberation Sans", Arial, sans-serif' fill="#1a1a1a" stroke="#1a1a1a" stroke-width="0.35">Frequency (Hz)</text>
<text x="912.5" y="634.3" font-size="40" text-anchor="start" font-family='"Liberation Serif", "Times New Roman", serif' fill="#fff" font-weight="bold">(d)</text>
<text transform="translate(1167.1,1007.3) rotate(28.5)" font-size="28.2" font-family='"Liberation Serif", "Times New Roman", serif' font-weight="bold" font-style="italic" fill="#e2e2e2">Mode 1</text>
<text transform="translate(1222.1,955.5) rotate(28.5)" font-size="28.2" font-family='"Liberation Serif", "Times New Roman", serif' font-weight="bold" font-style="italic" fill="#e2e2e2">Mode 2</text>
<text transform="translate(1277,907.8) rotate(28.5)" font-size="28.2" font-family='"Liberation Serif", "Times New Roman", serif' font-weight="bold" font-style="italic" fill="#e2e2e2">Mode 3</text>
<text transform="translate(1336,855) rotate(28.5)" font-size="28.2" font-family='"Liberation Serif", "Times New Roman", serif' font-weight="bold" font-style="italic" fill="#e2e2e2">Mode 4</text>
<text transform="translate(1310.7,783.2) rotate(28.5)" font-size="28.2" font-family='"Liberation Serif", "Times New Roman", serif' font-weight="bold" font-style="italic" fill="#e2e2e2">Mode 5</text>
</g>
<g id="panelA">
<line x1="411.1" y1="30.4" x2="411.1" y2="490.4" stroke="#e2e2e2" stroke-width="1"/>
<path d="M121.9 57.3l.8 .2 .8-.2 .8-.5 .8 0 .8 .5 .8-.3 .8 .5 .8-.1 .8-.3 .8 0 .8 .4 .8-.8 .8 .5 .8 .1 .8-.4 .8 .8 .8-.4 .8-.3 .8 .1 .8 .1 .8-.3 .8 .5 .8-.1 .8-.4 .8 .4 .8 .3 .8-.9 .8 1.1 .8-1.1 .8 .8 .8-.2 .8 .1 .8-.5 .8 .1 .8 .1 .8-.3 .8 .9 .8-.6 .8 .2 .8 .5 .8-.8 .8 .6 .8-.8 .8 .3 .8-.2 .8 .4 .8-.1 .8-.1 .8 .4 .8-.6 .8 .8 .8-.5 .8 .1 .8 0 .8-.1 .8-.1 .8 .2 .8-.7 .8 .5 .8-.2 .8 .7 .8-.4 .8 .8 .8-1.1 .8 .8 .8-.9 .8 .2 .8-.4 .8 .5 .8-.2 .8 .8 .8 .1 .8-.7 .8 .6 .8-.9 .8 .4 .8-.3 .8 .2 .8-.2 .8 .6 .8 .1 .8-.5 .8 .4 .8-.6 .8 0 .8 .8 .8-1 .8 .9 .8-.7 .8 .6 .8-.4 .8 .4 .8-.4 .8-.2 .8 .7 .8-.6 .8 .3 .8 0 .8-.6 .8 .8 .8-.6 .8 .7 .8-.7 .8 .7 .8-.5 .8 .2 .8 .1 .8-.8 .8 .7 .8-.4 .8 .6 .8-.3 .8 .2 .8-.3 .8 .1 .8 .2 .8-.3 .8 0 .8 .2 .8-.2 .8 .2 .8-.1 .8-.3 .8 .1 .8 .4 .8-.2 .8 .3 .8-.1 .8-.3 .8 .1 .8 0 .8-.3 .8 0 .8 .5 .8-.4 .8 .6 .8 0 .8-.8 .8 .7 .8-.8 .8 .7 .8-.6 .8 .8 .8-.7 .8 .8 .8-.2 .8-.7 .8 .6 .8-.8 .8 .4 .8 .5 .8-.3 .8 .3 .8-.2 .8 .2 .8-.5 .8 .3 .8-.5 .8-.1 .8 .9 .8-.8 .8 .8 .8-.4 .8-.1 .8 .2 .8 .1 .8-.3 .8 .1 .8 0 .8-.1 .8 .1 .8 .2 .8-.9 .8 1.1 .8-.7 .8 .6 .8-.2 .8 .1 .8-.6 .8 .9 .8-.8 .8 .4 .8-.3 .8 .1 .8 0 .8 .3 .8-.3 .8-.2 .8 .7 .8-.6 .8 .8 .8-.5 .8-.2 .8 0 .8 .1 .8-.5 .8 .6 .8-.5 .8 .6 .8-.1 .8 .7 .8-1 .8 .6 .8-.8 .8 .2 .8 .2 .8-.3 .8 .2 .8 .3 .8-.1 .8 .2 .8-.3 .8 0 .8-.3 .8 .6 .8-.4 .8 .2 .8 0 .8-.3 .8 .3 .8-.1 .8-.2 .8 .2 .8 0 .8 .1 .8 .3 .8-.5 .8 .1 .8-.4 .8 .6 .8-.7 .8 .9 .8-.6 .8 .4 .8 .1 .8-.2 .8-.2 .8-.2 .8 .1 .8 .1 .8 .1 .8 .3 .8-.4 .8 .4 .8-.2 .8-.2 .8 .2 .8-.6 .8 .5 .8-.2 .8 .4 .8-.3 .8 .1 .8 .4 .8-.6 .8 .8 .8-.9 .8 .2 .8-.1 .8 .1 .8-.2 .3 .1 .4 .2 .4 .1 .5-.1 .4 0 .4 0 .4 .3 .4 .3 .5-.1 .4-.4 .4-.2 .4 0 .4 .1 .5 0 .4-.1 .4-.3 .4 0 .4 .5 .5 .3 .4-.5 .4-.6 .4-.1 .4 .8 .5 1.4 .4 1.2 .4-.3 .4-2 .4-1.6 .5 .5 .4 .9 .4-1.1 .4 0 .4 3.9 .5 2.5 .4-3.2 .4-3.8 .4-.9 .4 .8 .5 1.5 .4 1.1 .4 2.2 .4 2.2 .4 1.5 .5-1.2 .4-3 .4-3.7 .4-2.9 .4-.5 .5 4.2 .4 5.8 .4-1.4 .4-6.3 .4-2.8 .5 3 .4 2.8 .4 2.2 .4 1.2 .4 1.3 .5-3.2 .4-3.6 .4-1.3 .4 1 .4 2.9 .5 2.9 .4 1.9 .4-.4 .4-2.9 .4-2.8 .5-2.3 .4-2.4 .4-1.3 .4 2 .4 4.1 .5 2.8 .4-.1 .4-1.4 .4-.6 .4 .5 .5 .1 .4-1 .4-1.4 .4-1 .4-.2 .5 .8 .1 .4 .8 2.1 .8-.3 .8 .1 .8-1.8 .8 .6 .8 1.1 .8-2 .8-.2 .8 2.6 .8-.2 .8 0 .8-2.3 .8 .6 .8 1.1 .8 1.3 .8-1.9 .8-1.3 .8 .4 .8 1.3 .8 1.3 .8-.5 .8-2.2 .8 .6 .8 1.5 .8-.7 .8-.4 .8 .1 .8-.4 .8 1.2 .8-1.7 .8 .2 .8 2.1 .8-.5 .8-1.1 .8-.2 .8 .5 .8-.3 .8 1.3 .8-1.8 .8 1.2 .8-.5 .8-.6 .8 .9 .8 .6 .8-.6 .8-.8 .8 .4 .8 .4 .8-.7 .8 1 .8-.6 .8 1.3 .8-1.2 .8-1.6 .8 1.2 .8 1 .8 .1 .8-1.2 .8 .8 .8-.4 .8 .7 .8-.9 .8-1 .8 1.6 .8 0 .8 .8 .8-.9 .8-1 .8-.1 .8 .8 .8 1.1 .8-.6 .8-1 .8 0 .8 .9 .8 0 .8-.1 .8-.5 .8 .4 .8 .2 .8-.6 .8-.2 .8 .7 .8-.1 .8 0 .8-.2 .8 .3 .8-.1 .8 .5 .8-1.1 .8-.1 .8 .4 .8 .8 .8-.1 .8-.6 .8-.7 .8 .1 .8 2 .8-.8 .8-1 .8 .7 .8-1 .8 1.3 .8-.6 .8 .4 .8-.1 .8-.1 .8-1.4 .8 1 .8 1.5 .8-1 .8-.2 .8-.5 .8 .4 .8 .4 .8-.4 .8-.1 .8 .7 .8-.4 .8-.7 .8-.4 .8 1.9 .8-.9 .8 .9 .8-1.1 .8 .1 .8-.5 .8 .1 .8 .3 .8 1.5 .8-.7 .8-1.2 .8-.5 .8 .9 .8 1.1 .8-.2 .8-1.4 .8-.2 .8 1 .8 .8 .8-.2 .8-1.2 .8 0 .8 .8 .8-.4 .8-.5 .8-.1 .8 .8 .8 1.4 .8-1.4 .8-.3 .8-.3 .8 1 .8-.9 .8 .3 .8 0 .8 .3 .8-.4 .8-.1 .8-.3 .8 1.6 .8-.5 .8-.2 .8-.5 .8 0 .8-.8 .8 .9 .8 .7 .8-.5 .8 .3 .8-1.2 .8 .5 .8 .8 .8-.1 .8-.5 .8 .4 .8-.7 .8 0 .8 .2 .8 .4 .8-.4 .8 .5 .8-.4 .8-.1 .8 .8 .8-.7 .8 0 .8 .3 .8-.4 .8-.2 .8 .6 .8 0 .8-.8 .8 1.3 .8-.7 .8 0 .8 .1 .8-.8 .8 .8 .8 .6 .8-1 .8-.4 .8 .5 .8 .9 .8-.4 .8 .5 .8-1.6 .8 .1 .8 .9 .8-.4 .8 .4 .8 0 .8-.2 .8 .1 .8 .6 .8-1.2 .8 .1 .8 1.1 .8-1.1 .8 .1 .8-.1 .8 .2 .8 .9 .8 0 .8-1 .8 .3 .8-.1 .8-.7 .8 .8 .8 .4 .8 .3 .8-.9 .8-.1 .8-.5 .8 1.4 .8-.2 .8-.3 .8-.2 .8 .2 .8-.6 .8 .7 .8-.4 .8 .7 .8-.9 .8 .6 .8-.5 .8 .6 .8-.6 .8 .1 .8 .8 .8-.8 .8 .8 .8-1.4 .8 .9 .8 .3 .8-.6 .8 .1 .8-.1 .8 .4 .8 .2 .8-.3 .8-.8 .8 0 .8 1.8 .8-1 .8 .7 .8-1.7 .8 .2 .8 1 .8 .5 .8-1 .8 0 .8-.1 .8-.3 .8 .7 .8 .7 .8-1 .8 1 .8-1.3 .8 0 .8 .8 .8-.2 .8-.8 .8 .9 .8-.1 .8-.6 .8 1.2 .8-1 .8 .9 .8-.4 .8-.3 .8-.8 .8 1.4 .8-.8 .8 0 .8 .9 .8-.4 .8-.2 .8-.3 .8-.2 .8 .7 .8 .4 .8-.3 .8-1.1 .8 1.3 .8-.8 .8 .2 .8 .3 .8-.9 .8 .8 .8 0 .8 .4 .8-.5 .8 .2 .8 0 .8-.7 .8 .8 .8-1 .8 .8 .8 0 .8 0 .8-.1 .8 .1 .8 .5 .8-1.3 .8 1 .8-.4 .8 .2 .8 .2 .8-.8 .8 0 .8 .8 .8 .1 .8-.2 .8 .1 .8-.6 .8-.4 .8 1 .8-.1 .8-.2 .8 0 .8-.1 .8 .1 .8 .6 .8-.8 .8-.3 .8 .7 .8-.2 .8-.4 .8 .6 .8-.3 .8 .3 .8 0 .8 0 .8-.7 .8 1.1 .8-1.4 .8 1.1 .8-.3 .8 0 .8-.1 .8 .1 .8 .3 .8-.7 .8 .6 .8-.3 .8 .6 .8-.4 .8-.4 .8 0 .8 .4 .8 0 .8-.3 .8-.3 .8 .9 .8-.6 .8 1.1 .8-1 .8 .2 .8-.4 .8 .1 .8-.2 .8 .2 .8 .7 .8-.2 .8-.3 .8 .2 .8-.9 .8 1.2 .8-.3 .8-.6 .8 0 .8 .8 .8-.5 .8 .4 .8-.1 .8-.5 .8 .6 .8-.4 .8-.7 .8 .8 .8 .6 .8-1 .8 1.1 .8-.9 .8 .2 .8-.3 .8 .8 .8-.9 .8 .9 .8-.8 .8-.5 .8 .9 .8 .4 .8-.8 .8 1.1 .8-.5 .8-.3" fill="none" stroke="#141414" stroke-width="1.5" stroke-linejoin="round"/>
<path d="M121.9 83.7l.8 .8 .8-.6 .8 1.1 .8-.4 .8-.4 .8 .3 .8-.4 .8-.1 .8 .7 .8-.5 .8-.4 .8 .8 .8-.7 .8 .6 .8 .4 .8-.7 .8 .1 .8 .2 .8-.4 .8 .1 .8 .1 .8-.2 .8-.3 .8 1.1 .8-.6 .8 .3 .8-.3 .8 .2 .8-.8 .8 1.2 .8-.9 .8 .2 .8-.1 .8 .2 .8-.1 .8 .6 .8-.2 .8-.7 .8 .5 .8-.1 .8-.2 .8 .4 .8 0 .8-.9 .8 1.2 .8-.5 .8-.1 .8 .5 .8-.6 .8-.3 .8 .7 .8-.3 .8 .1 .8 .4 .8-.5 .8 .3 .8-.3 .8 .2 .8-.3 .8-.1 .8 .5 .8-.5 .8 .4 .8 0 .8-.1 .8-.2 .8 1 .8-1.4 .8 1.2 .8-1 .8 .2 .8 .1 .8 .2 .8-.3 .8 .5 .8-.3 .8 0 .8 .1 .8-.3 .8 .4 .8-.3 .8 .3 .8-.3 .8 0 .8-.2 .8 .3 .8-.1 .8 .6 .8-.5 .8 0 .8-.4 .8 .5 .8-.1 .8 .4 .8-.3 .8-.3 .8-.1 .8 .2 .8 0 .8 .2 .8 .1 .8-.3 .8 .4 .8-.2 .8 0 .8-.1 .8-.5 .8 .8 .8-.7 .8 .8 .8-.6 .8 .1 .8-.1 .8 .9 .8-.8 .8 .8 .8-.9 .8-.5 .8 .7 .8-.5 .8 .7 .8-.1 .8 0 .8-.2 .8 .5 .8-.5 .8 .6 .8-.9 .8 .5 .8-.4 .8 .1 .8 .3 .8-.2 .8-.1 .8 .8 .8-.7 .8 .4 .8-.2 .8-.5 .8 .2 .8 .2 .8-.2 .8 .5 .8-.3 .8-.1 .8 0 .8 .2 .8-.2 .8 .2 .8-.1 .8 .1 .8-.3 .8 .3 .8-.2 .8 .1 .8 .2 .8-.1 .8-.2 .8-.1 .8 .2 .8-.2 .8 .4 .8 .1 .8-.4 .8 .1 .8 .1 .8-.4 .8 .4 .8-.1 .8-.3 .8 .3 .8 .3 .8-.7 .8 1 .8-1.2 .8 1 .8-.7 .8 .9 .8-.9 .8 .2 .8-.3 .8 .5 .8-.2 .8 .6 .8-.2 .8-1.1 .8 1.4 .8-1.3 .8 1 .8 0 .8-.4 .8-.2 .8 .6 .8-.6 .8 .3 .8 .3 .8-.9 .8 .8 .8-.3 .8 .5 .8-.6 .8 .4 .8-.2 .8-.2 .8 .6 .8-.5 .8-.2 .8-.1 .8 .6 .8-.8 .8 1.6 .8-1.1 .8 .3 .8-.3 .8 .4 .8-.8 .8 .9 .8-.7 .8-.1 .8 .4 .8 .1 .8-.1 .8 .4 .8 0 .8-.7 .8 .8 .8-.8 .8 .1 .8 0 .8 0 .8 0 .8 .4 .8-.1 .8 0 .8 .1 .8-.1 .8-.1 .8-.2 .8 .2 .8-.2 .8 0 .8 .7 .8-1 .8 .8 .8-.3 .8 0 .8 .2 .8 .1 .8-.8 .8 .8 .8-.5 .8 .1 .8 .5 .8-.7 .8 .4 .8-.1 .8-.1 .8 .4 .8-.6 .8 .3 .8 0 .3 .2 .4 .2 .4-.3 .5-.1 .4 .3 .4 0 .4-.6 .4-.3 .5 .4 .4 .3 .4-.2 .4-.2 .4 .3 .5 .4 .4 .1 .4-.5 .4-.2 .4 .4 .5 .6 .4-.5 .4-1.7 .4-.9 .4 2.5 .5 1.7 .4-1 .4-.7 .4-1.6 .4-2.3 .5-.1 .4 2.1 .4 1.5 .4 .4 .4 1.4 .5 2.8 .4 1.6 .4-2.8 .4-6.3 .4-3.4 .5 2.7 .4 3.5 .4 2.9 .4 1.8 .4 1 .5-1.4 .4-4.2 .4-4 .4-.1 .4 3.6 .5 2.6 .4 1.4 .4-.6 .4-4.2 .4-2.7 .5 1.8 .4 1.3 .4 .6 .4 .4 .4 1.7 .5 3.3 .4-1.5 .4-1.9 .4-2.4 .4-2.6 .5-.8 .4 3.1 .4 3.6 .4 1.9 .4-.4 .5-2.3 .4-3.4 .4-2.4 .4 .5 .4 2.4 .5 1.9 .4 1.1 .4 1 .4 .6 .4-1 .5-2.1 .4-2.1 .4-1.5 .4 0 .4 1.9 .5 2.2 .1 .5 .8-.4 .8 .4 .8-.2 .8-2.5 .8 .4 .8 .8 .8 .9 .8-.2 .8 .9 .8-1.4 .8-.3 .8-1.1 .8 1.3 .8-.2 .8 1.1 .8 .5 .8-.5 .8-1 .8-.3 .8-.2 .8 .2 .8 1.4 .8 .6 .8-2 .8-.5 .8 1.1 .8-.3 .8 .8 .8 1.3 .8-2.5 .8-.3 .8 1.3 .8-.4 .8 .5 .8-.3 .8-1.9 .8 1.9 .8 2.1 .8-1.8 .8-1.8 .8 .7 .8 .6 .8 1.7 .8-1 .8-2.5 .8 1.2 .8 1.9 .8-.7 .8-.5 .8-.1 .8-1.3 .8 2.3 .8-.4 .8-.1 .8-.6 .8 .3 .8-1.1 .8 1.1 .8 .5 .8-.1 .8-1 .8 .1 .8 .1 .8 .2 .8 1.3 .8-.7 .8-1.2 .8 .1 .8 .5 .8 .5 .8-.1 .8-.7 .8 0 .8 .3 .8 .8 .8-.4 .8-1.1 .8 1 .8 .5 .8-1.1 .8 .6 .8-.8 .8-.1 .8 1.5 .8-.4 .8-.8 .8 .7 .8-.5 .8 .5 .8 0 .8-1 .8-.3 .8 1.8 .8 .1 .8-.4 .8-1.2 .8-.3 .8 .4 .8 2 .8-.8 .8-.8 .8-.3 .8 .1 .8-.2 .8 1.5 .8-.2 .8-.7 .8-.6 .8 .5 .8 0 .8 .4 .8-.1 .8-1.3 .8 1.1 .8 .9 .8 0 .8-1.3 .8 .6 .8-1.4 .8 1.4 .8-.1 .8 .2 .8-.6 .8 .2 .8 .5 .8-.5 .8 0 .8-.3 .8 .6 .8 .5 .8 .4 .8-2.3 .8 0 .8 .8 .8 .6 .8 1.6 .8-1.8 .8-.2 .8-.4 .8 .8 .8-.5 .8 .8 .8-1.2 .8 1.1 .8-.1 .8-.3 .8-.3 .8-.5 .8 1.3 .8-.1 .8 0 .8-.6 .8 .4 .8-.8 .8 .9 .8-.7 .8 .5 .8 .3 .8-.3 .8-1.1 .8 1.1 .8 .8 .8-.8 .8-.5 .8 .1 .8-.1 .8 1.3 .8-.1 .8-1.7 .8 .1 .8 .9 .8-.4 .8 .8 .8 .2 .8-.6 .8-.3 .8 .6 .8-1.2 .8 .4 .8 .7 .8-.5 .8 .5 .8 .5 .8-1.5 .8 .1 .8 1.2 .8-1.1 .8 1.3 .8-.1 .8-1.5 .8 .6 .8-.1 .8-.3 .8 1 .8 .4 .8-.7 .8 0 .8-.2 .8-.6 .8 .5 .8 .4 .8 .4 .8-1.3 .8 1.7 .8-1.4 .8 .5 .8-.4 .8 .2 .8-.2 .8 1.1 .8-1 .8-.2 .8 .8 .8-.5 .8 .4 .8-1 .8 1.1 .8-.1 .8 .1 .8-1.1 .8 0 .8 .5 .8 .8 .8-.1 .8-.5 .8 .3 .8-.4 .8 .2 .8-.6 .8 .3 .8 .1 .8 .4 .8-.2 .8-.2 .8 .4 .8-.6 .8 .4 .8-.2 .8 .4 .8-.3 .8 .6 .8-1.5 .8 .7 .8-.3 .8 1.2 .8-.3 .8-.2 .8-.5 .8 .2 .8-.2 .8 .7 .8-.5 .8-.2 .8 1.2 .8-1.3 .8 .1 .8 .1 .8-.2 .8 .5 .8 .9 .8-1 .8-.3 .8-.2 .8 .6 .8 .5 .8-.2 .8-.9 .8-.5 .8 .8 .8 1.2 .8-1 .8 .1 .8-.5 .8 .3 .8 .8 .8-.5 .8-.7 .8 .5 .8-.5 .8 .2 .8 .7 .8-.3 .8 0 .8 .3 .8-.7 .8 .5 .8-.2 .8 0 .8-.7 .8 1 .8-.4 .8 .4 .8-.4 .8-.2 .8 .3 .8 .5 .8 .1 .8-.9 .8-.2 .8-.3 .8 1.4 .8-.5 .8 .5 .8-1 .8 .1 .8 .4 .8 .4 .8-.8 .8 .4 .8-.4 .8 .4 .8 0 .8 0 .8-.2 .8 0 .8 .1 .8 .3 .8-.5 .8 .2 .8-.3 .8 0 .8 .9 .8-.6 .8 .2 .8 .1 .8-.9 .8 .6 .8 .3 .8-.5 .8 .4 .8-.4 .8-.7 .8 1.6 .8-.2 .8-.3 .8-.3 .8-.3 .8 .2 .8 .3 .8 0 .8-.3 .8 .4 .8-.2 .8 .1 .8-.6 .8 1 .8-.8 .8 .8 .8-.5 .8 .1 .8-.7 .8 .7 .8-.6 .8 .9 .8-.2 .8 0 .8-.3 .8-.1 .8-.2 .8 .2 .8 1.1 .8-.9 .8 .4 .8-.8 .8 0 .8 .1 .8 .6 .8-.8 .8 .7 .8 .3 .8-.5 .8 .4 .8-.9 .8 .4 .8-.1 .8 .9 .8-.6 .8-.7 .8 .2 .8 .1 .8 .8 .8 .1 .8-.2 .8-1.2 .8 1.7 .8-1.6 .8 .8 .8-.4 .8-.1 .8 .4 .8 .6 .8-1 .8 .9 .8-.2 .8-.8 .8 .6 .8-.2 .8 .1 .8 .1 .8-.4 .8 0 .8 .4 .8 .3 .8-.4 .8-.1 .8 .4 .8-.4 .8 .1 .8-.1 .8-.2 .8 .1 .8 .8 .8-.7 .8 .4 .8-.6 .8 .2 .8 0 .8 .3" fill="none" stroke="#141414" stroke-width="1.5" stroke-linejoin="round"/>
<path d="M121.9 111l.8 .5 .8 .1 .8-.3 .8 .5 .8-.5 .8 .3 .8-.5 .8 .2 .8-.2 .8-.1 .8 .7 .8 .1 .8-.1 .8-.1 .8-.5 .8-.2 .8 .8 .8-.5 .8 .4 .8-.1 .8-.4 .8 .5 .8-.2 .8 .1 .8 0 .8-.1 .8 .1 .8-.4 .8 .3 .8 .1 .8-.1 .8 .3 .8-.4 .8-.3 .8 1 .8-1 .8 .7 .8-.4 .8-.3 .8 .6 .8 .1 .8-.5 .8 .4 .8-.3 .8-.2 .8 .5 .8-.3 .8-.2 .8 .8 .8-.7 .8 .3 .8-.3 .8 .3 .8-.4 .8 .8 .8-.7 .8 .2 .8 .5 .8-.8 .8 .2 .8-.2 .8-.2 .8 .8 .8 .1 .8-.3 .8 .1 .8-.3 .8-.1 .8 .3 .8-.1 .8-.4 .8 .6 .8-.4 .8 0 .8 .6 .8-.3 .8 .3 .8 .1 .8-1.3 .8 1 .8-1 .8 1.1 .8-.4 .8 .1 .8 .2 .8 0 .8 .2 .8-.1 .8-.7 .8 .4 .8-.5 .8 .4 .8 .1 .8 0 .8 .2 .8 .2 .8-.7 .8 .7 .8-.8 .8 .7 .8-.4 .8-.1 .8 .2 .8-.4 .8 .8 .8-.4 .8-.2 .8 .6 .8-.5 .8 .3 .8 .1 .8-1.1 .8 1.1 .8-.5 .8 .2 .8 .4 .8-.8 .8 .4 .8 0 .8-.2 .8 .5 .8-.2 .8 .3 .8-.7 .8 .4 .8-1 .8 1.1 .8-.1 .8 .1 .8 0 .8-.3 .8 0 .8 .4 .8-.3 .8-.2 .8 .1 .8-.1 .8 .1 .8 .4 .8-.5 .8 .5 .8-.2 .8-.2 .8 0 .8 .2 .8-.3 .8 .5 .8-.4 .8-.3 .8 .6 .8-.2 .8 .2 .8 0 .8-.5 .8 .2 .8 .4 .8-.6 .8 .6 .8-.3 .8-.1 .8 .6 .8-.9 .8 .4 .8-.2 .8 .1 .8 .4 .8-.3 .8 .3 .8-.3 .8 0 .8-.3 .8 .1 .8 .1 .8 .4 .8-.1 .8-.2 .8-.1 .8-.2 .8 .7 .8-.5 .8 .2 .8-.2 .8-.2 .8 .5 .8-.3 .8 .3 .8-.1 .8-.2 .8 .2 .8-.5 .8 .2 .8 .6 .8-.8 .8 1 .8-.9 .8 .2 .8 .8 .8-1.1 .8 .5 .8-.4 .8-.4 .8 1 .8-.3 .8 .3 .8-.2 .8 .3 .8-.7 .8 .5 .8-.6 .8 .2 .8 .2 .8 .2 .8-.5 .8 .6 .8-.3 .8 0 .8 .5 .8-.8 .8 .2 .8 .5 .8-.9 .8 .5 .8-.3 .8 .1 .8 .5 .8 .2 .8-.6 .8 .2 .8-.2 .8-.2 .8 .5 .8-.2 .8-.3 .8 .4 .8-.2 .8-.4 .8 1 .8-.8 .8 1 .8-.6 .8-.3 .8 .2 .8-.3 .8 .5 .8-.5 .8-.1 .8 .7 .8-.6 .8 1.3 .8-1 .8 .1 .8-.2 .8-.1 .8-.2 .8 .6 .8-.6 .8 .8 .8-.3 .8 0 .8-.1 .8 .2 .3-.2 .4 .1 .4 .2 .5-.3 .4-.2 .4 .1 .4 0 .4-.2 .5-.1 .4 0 .4 .5 .4 .4 .4-.3 .5-.6 .4 .3 .4 .4 .4 .3 .4 .2 .5-.6 .4-1.1 .4-.3 .4 .4 .4 .3 .5 .9 .4 1.5 .4 .5 .4-1.6 .4-2.1 .5-.7 .4 .3 .4 .5 .4 1.3 .4 3.2 .5 2.9 .4-1.9 .4-5.9 .4-3.3 .4 1.6 .5 3.3 .4 1.2 .4 .6 .4 .7 .4 1.9 .5 .2 .4-2.5 .4-3.7 .4-1.9 .4-.7 .5 1.1 .4 4.4 .4 3.1 .4-1.8 .4-4.8 .5-2.8 .4 1.8 .4 5.5 .4 1.7 .4 0 .5 .7 .4-1.5 .4-1.8 .4-2.3 .4-1.1 .5-.6 .4 .4 .4 2.4 .4 2.1 .4-.4 .5-2 .4-1.6 .4-.6 .4 .8 .4 2.2 .5 1.9 .4 .1 .4-1.2 .4-1.4 .4-1.4 .5-.9 .4-.1 .4 .6 .4 .9 .4 1 .5 1.4 .1 .5 .8 .1 .8-2.7 .8-1.5 .8 1.4 .8 1.9 .8-1 .8-2.2 .8 2.4 .8 2.2 .8-3.5 .8-1.3 .8 2.5 .8 .4 .8-1.5 .8 .5 .8 1 .8-.1 .8-1.4 .8-.4 .8 2.5 .8-1.5 .8-1 .8 1.6 .8 .2 .8-.6 .8-.6 .8-.4 .8 .7 .8 1.3 .8-.6 .8-.6 .8-.4 .8 0 .8 .7 .8-.1 .8-.5 .8 .1 .8 1.6 .8-.9 .8-.8 .8-.7 .8 .3 .8 2.5 .8-1.3 .8-1.5 .8 1.7 .8-.3 .8-.7 .8-.5 .8 .4 .8 1.8 .8-.7 .8-.7 .8 .1 .8-.9 .8 1 .8-.3 .8 .7 .8-.8 .8 .4 .8 .3 .8-1.3 .8 .4 .8 1.3 .8 .3 .8-.5 .8-1.3 .8-.3 .8 0 .8 1.2 .8 .9 .8-.3 .8-1.6 .8 .5 .8 .5 .8 .5 .8-1 .8 .1 .8 .1 .8-.6 .8 .5 .8 .7 .8 0 .8-.3 .8-.4 .8-.2 .8 .6 .8 .2 .8-.3 .8-.4 .8-.5 .8 .2 .8 1.5 .8-.1 .8-.7 .8-.5 .8-.5 .8 1.1 .8 .6 .8-1.4 .8 1.3 .8-1.2 .8 0 .8 .1 .8 1.1 .8 0 .8-1.1 .8-.2 .8 1.1 .8 0 .8-.9 .8-.3 .8 1.2 .8-.7 .8 .1 .8 .4 .8 0 .8-.7 .8 .5 .8-.4 .8 .8 .8-.6 .8-.1 .8 .5 .8-.8 .8 .1 .8 .9 .8-.6 .8 .5 .8 .4 .8-1.2 .8-.1 .8-.9 .8 1.4 .8 1.6 .8-.8 .8-1.2 .8-.8 .8 .9 .8 1.2 .8-.6 .8-.6 .8-.3 .8 1.2 .8-.7 .8-.1 .8 0 .8 .6 .8-.3 .8 .4 .8-1 .8 .3 .8 .1 .8-.3 .8 .5 .8 .2 .8 .5 .8-.3 .8-1.6 .8 .6 .8 .5 .8 .5 .8-.3 .8-.2 .8 .1 .8-.4 .8 0 .8 .8 .8-.6 .8 .1 .8 0 .8 0 .8 .1 .8-.3 .8 .4 .8-.5 .8 .2 .8-.1 .8 .9 .8-.5 .8-1.1 .8 1.4 .8-.5 .8-.1 .8 .4 .8-.4 .8 .4 .8-.7 .8-.5 .8 .8 .8 1 .8-.5 .8-.2 .8-.3 .8-.1 .8-.1 .8 .2 .8-.2 .8 .6 .8 .2 .8-1.2 .8 1.1 .8-.4 .8-.5 .8 1.4 .8-.9 .8-.4 .8 .4 .8-.5 .8 .8 .8-.2 .8-.7 .8 1.5 .8-.8 .8-.2 .8 0 .8 .1 .8 0 .8-.4 .8 .9 .8-.6 .8-.1 .8 .3 .8-.6 .8 .9 .8-.4 .8 .4 .8-.2 .8-.3 .8-.5 .8 .7 .8-.4 .8 .2 .8 .1 .8 .1 .8 .1 .8 .2 .8-.4 .8-.3 .8 .1 .8 .7 .8-.7 .8-.1 .8-.1 .8 .2 .8 .6 .8 0 .8-.5 .8 .8 .8-.9 .8-.3 .8 .2 .8-.3 .8 1 .8 .2 .8-.6 .8-.2 .8 .7 .8-1.1 .8 .9 .8-.1 .8-.7 .8 .4 .8 .1 .8 .1 .8 .3 .8-.8 .8 .3 .8 .3 .8 .1 .8-.5 .8 .8 .8-1.6 .8 .5 .8 1 .8 .4 .8-1.1 .8 .1 .8-.3 .8 .6 .8-.1 .8-.6 .8 .8 .8 .3 .8-1.1 .8 .7 .8-.4 .8 0 .8 .6 .8-.7 .8 .4 .8 .4 .8-.9 .8 .6 .8-.8 .8 .8 .8 .1 .8-.5 .8 .6 .8-1 .8 1.2 .8-.5 .8-.4 .8-.1 .8 .1 .8 .8 .8 .1 .8-1.1 .8 .4 .8 0 .8 .3 .8-.1 .8 .2 .8 0 .8-.6 .8-.6 .8 .9 .8-.4 .8 1.3 .8-.7 .8 .1 .8-.2 .8-.5 .8 .1 .8 .1 .8-.2 .8 1.1 .8-.3 .8-.8 .8 .3 .8 0 .8 .2 .8 .2 .8-.1 .8-.1 .8-.3 .8-.2 .8 0 .8 1 .8-.9 .8 .6 .8 0 .8-.8 .8 .9 .8-.6 .8 .3 .8-.1 .8 0 .8 .1 .8 0 .8-.2 .8-.4 .8 .5 .8 0 .8 0 .8 .5 .8-.2 .8-.2 .8-.1 .8-.9 .8 .8 .8 .3 .8-.8 .8 1.1 .8-.1 .8-.2 .8-.1 .8-.5 .8 .2 .8 .4 .8-.4 .8 .6 .8-.4 .8-1.1 .8 .9 .8 .5 .8 .6 .8-.5 .8-.6 .8 .1 .8-.7 .8 .7 .8-.2 .8 .7 .8 0 .8-.3 .8-.1 .8-.2 .8-.2 .8 .7 .8 0 .8-.4 .8 .2 .8-.3 .8 0 .8 .2 .8-.3 .8 .7 .8-.4 .8 .5 .8-.7 .8 0 .8 .2 .8-.3 .8 .2 .8 .7 .8-.9 .8 .6 .8-.9 .8 .3 .8 1.2 .8-.9 .8 .1 .8-.2 .8-.4 .8 .5 .8 .1 .8-.1" fill="none" stroke="#141414" stroke-width="1.5" stroke-linejoin="round"/>
<path d="M121.9 138.2l.8 .6 .8-.9 .8 .7 .8 0 .8 .1 .8 .2 .8-.6 .8-.1 .8 .2 .8 0 .8 .1 .8 .3 .8-.4 .8 .2 .8 .2 .8-.7 .8 .4 .8-.4 .8 .2 .8 .6 .8 0 .8-.4 .8 .3 .8-.9 .8 .8 .8-.5 .8 .6 .8-.8 .8 1 .8-.9 .8 .8 .8-.5 .8 0 .8 .1 .8 0 .8 .3 .8-.4 .8 .4 .8-.9 .8 .5 .8 .3 .8-.5 .8 .9 .8-.8 .8 .4 .8-.2 .8 .4 .8-1.1 .8 1.2 .8-1 .8 .6 .8 .2 .8-.6 .8 .2 .8 .2 .8-.4 .8 .8 .8-.3 .8-.3 .8 .2 .8-.2 .8-.4 .8 .6 .8-.4 .8 .2 .8 .4 .8-.1 .8-.1 .8 .2 .8-.6 .8 .2 .8 .1 .8 0 .8-.2 .8 .5 .8-.6 .8 .2 .8 .4 .8-.5 .8 .3 .8 .3 .8-.7 .8 .7 .8-.4 .8-.3 .8 .2 .8 0 .8-.3 .8 .9 .8-.5 .8-.2 .8 .8 .8-1 .8 .8 .8-.4 .8-.1 .8-.1 .8 .3 .8-.4 .8 .4 .8 .1 .8-.5 .8 .7 .8-.3 .8 0 .8 0 .8-.3 .8 0 .8 0 .8 .5 .8-.6 .8 .5 .8-.3 .8-.1 .8 .5 .8-.3 .8-.1 .8 .4 .8-.5 .8 .4 .8-.2 .8-.1 .8-.5 .8 1 .8-1 .8 1.4 .8-.9 .8 .1 .8 .1 .8-.2 .8 .1 .8 0 .8 0 .8-.4 .8 .7 .8-.4 .8 .3 .8-.2 .8-.3 .8 .6 .8-.4 .8 .6 .8-1 .8 .7 .8-.7 .8 .8 .8-.4 .8 .4 .8-.7 .8 .7 .8-.5 .8 .4 .8-.1 .8-.4 .8 .4 .8 0 .8 .1 .8-.3 .8 .1 .8-.6 .8 .9 .8-.2 .8 0 .8 .2 .8-.7 .8 .7 .8-.6 .8 .6 .8-.8 .8 .8 .8-.5 .8 .6 .8-.3 .8-.1 .8-.4 .8 .2 .8 .3 .8-.1 .8 .4 .8-.5 .8 0 .8 .3 .8-.4 .8 .1 .8 .2 .8-.5 .8 .8 .8-.2 .8-.2 .8 0 .8-.2 .8 0 .8 .5 .8-.1 .8-.5 .8 .7 .8-1 .8 1 .8-.6 .8 .2 .8-.1 .8 .2 .8 .2 .8-.4 .8 .5 .8-1.1 .8 1 .8-.5 .8 .6 .8-.5 .8 .3 .8-.6 .8 .3 .8 .3 .8-.5 .8 .7 .8-.4 .8 0 .8 .3 .8-.5 .8-.3 .8 .5 .8-.2 .8 .3 .8 .6 .8-.9 .8 .4 .8-.3 .8-.2 .8 .3 .8 .2 .8-.6 .8 .9 .8-.7 .8 .3 .8-.2 .8-.1 .8 0 .8 .5 .8-.1 .8 .1 .8-.1 .8-.3 .8-.3 .8 .4 .8-.3 .8 .4 .8-.1 .8 .2 .8-.2 .8 .4 .8-.6 .8 .1 .8 .3 .8-.5 .8 .6 .8-.3 .8-.4 .8 .5 .8-.5 .8 .5 .3 .1 .4-.1 .4 .2 .5 .1 .4-.4 .4-.2 .4 .4 .4 .4 .5-.5 .4-.7 .4 .3 .4 .6 .4 0 .5-.7 .4-.1 .4 .4 .4 .5 .4 .2 .5-.2 .4-.7 .4-.6 .4 0 .4 1.1 .5 1.6 .4 .5 .4-1.2 .4-2.7 .4-2.4 .5 0 .4 1.6 .4 1.2 .4 .8 .4 2.3 .5 3.8 .4 .7 .4-5.4 .4-6.6 .4-1.6 .5 3.7 .4 4 .4 2.9 .4 1.5 .4 1.1 .5-1.3 .4-3.6 .4-4.6 .4-1.7 .4 2.5 .5 4.9 .4 5.2 .4-.6 .4-6.4 .4-5.1 .5-.1 .4 .6 .4 1.9 .4 2.5 .4 3.3 .5-.7 .4 2.8 .4 1.1 .4-1.1 .4-1.4 .5-1.5 .4-1.8 .4-1.1 .4-.2 .4-.2 .5-1.2 .4-1.7 .4-.8 .4 1.2 .4 2.5 .5 2.5 .4 1.4 .4 .4 .4-.1 .4-.7 .5-2 .4-2.9 .4-1.8 .4 .4 .4 1.6 .5 1.3 .1 .4 .8 .9 .8-1.1 .8 1.6 .8 0 .8-.6 .8-2.4 .8-.6 .8 2.1 .8 2.4 .8-.8 .8-1.8 .8-.2 .8-.6 .8 .7 .8 .7 .8 .4 .8 0 .8-.1 .8-.8 .8 0 .8 .4 .8-1.7 .8 2.1 .8 .1 .8 .6 .8-1.9 .8-.1 .8 .1 .8 2 .8-1.1 .8-1 .8 .8 .8 .6 .8 .2 .8-1.5 .8-.4 .8 .9 .8 1.1 .8-.3 .8-1.2 .8 .6 .8 0 .8 .2 .8-.3 .8-.2 .8 .1 .8 1 .8-.9 .8-.1 .8-.4 .8 .4 .8 .5 .8 1.1 .8-2 .8 .6 .8-.7 .8 .6 .8 .4 .8-.2 .8 .2 .8 .1 .8-.7 .8-1.2 .8 1.8 .8 .6 .8 .3 .8-1.7 .8-1.4 .8 1.6 .8 1.4 .8 .3 .8-2 .8 .2 .8-.4 .8 1.1 .8-.2 .8 0 .8 .2 .8 .2 .8-1.2 .8 .3 .8 .7 .8-.3 .8 .4 .8-.7 .8 .2 .8 .5 .8-.3 .8-.8 .8 .8 .8-.6 .8 .5 .8 .6 .8-.2 .8 .1 .8-1.1 .8-.4 .8 1 .8 1.1 .8-.8 .8-.8 .8-.3 .8 .5 .8 1 .8-.5 .8 .1 .8-.4 .8 .2 .8-.6 .8 .3 .8 .5 .8-.2 .8-.1 .8-.4 .8 0 .8 .9 .8-.3 .8 .1 .8-.4 .8 .2 .8-.7 .8 .9 .8-.7 .8 .9 .8-.2 .8-.7 .8-.1 .8-.1 .8 1.2 .8 .6 .8-.6 .8-1.4 .8-.6 .8 1.5 .8 .9 .8-.2 .8-1.9 .8 .2 .8 .8 .8 1.6 .8-1 .8-1 .8 .1 .8 .4 .8 .3 .8-.3 .8-.8 .8 1.1 .8-.3 .8 .2 .8-.1 .8 .3 .8-.8 .8 .4 .8-.3 .8 .7 .8 .4 .8-1.3 .8-.1 .8 .1 .8 .6 .8 .2 .8-.1 .8-.1 .8 0 .8 .3 .8-.8 .8 .4 .8-.2 .8 0 .8-.2 .8 1 .8-.6 .8 .4 .8-.7 .8 0 .8 .5 .8 .3 .8-.9 .8 .7 .8 0 .8-.8 .8 .6 .8-1.4 .8 1.6 .8 .7 .8-.2 .8-1 .8-.2 .8-.4 .8 .7 .8 .9 .8-1.2 .8 1.1 .8-1 .8 .3 .8-.5 .8 .2 .8 .2 .8 .9 .8 .1 .8-1.4 .8 .3 .8-.6 .8 .8 .8 .3 .8-.2 .8-.4 .8 1 .8-.8 .8-.1 .8 .3 .8-.2 .8 0 .8 .3 .8-1.1 .8 1.4 .8 .3 .8-1.3 .8 .3 .8-.2 .8 .7 .8 .3 .8-.8 .8-.7 .8 1.5 .8-.3 .8-.5 .8 .3 .8-.9 .8 1.5 .8-.6 .8 .2 .8-.8 .8 .9 .8-1 .8 .6 .8 0 .8 0 .8 .2 .8-.1 .8-.2 .8 .1 .8 .2 .8-.8 .8 .9 .8 0 .8-.4 .8 .1 .8-.4 .8 0 .8 .8 .8-.2 .8-.3 .8 1 .8-1.5 .8 .5 .8-.5 .8 .6 .8 .1 .8 .3 .8-1.1 .8 .8 .8 .4 .8-.2 .8-.1 .8-1 .8 .4 .8 .7 .8 .4 .8-.6 .8-.9 .8 .2 .8 .2 .8 1.4 .8-.4 .8-.6 .8-.2 .8 0 .8-.1 .8 .3 .8 .1 .8-.2 .8 .4 .8-.9 .8 .1 .8 1.2 .8-.5 .8 .4 .8-.8 .8 .1 .8 .2 .8-.2 .8-.7 .8 .5 .8 .9 .8-.3 .8 .1 .8-.9 .8 .6 .8 .2 .8 0 .8-.6 .8 0 .8 .4 .8-.4 .8 .3 .8 0 .8-.1 .8 .5 .8-.4 .8-.1 .8 .5 .8-.4 .8-.3 .8 .5 .8-.4 .8-.1 .8 .3 .8-.6 .8 1 .8 .3 .8-.7 .8 .3 .8-.6 .8 0 .8 .3 .8 .3 .8-.6 .8 .5 .8-.8 .8 .5 .8 .5 .8 .2 .8-.6 .8 0 .8-.4 .8 .4 .8 .3 .8-.5 .8-.2 .8 .3 .8 .2 .8 0 .8 .7 .8-1.3 .8 .5 .8 .1 .8-.4 .8 .7 .8-.6 .8 .1 .8 0 .8 .5 .8-1.4 .8 1.7 .8-.9 .8 .7 .8-.2 .8-.8 .8 .6 .8 0 .8-.2 .8-.5 .8 1 .8-.5 .8 .6 .8-.6 .8-.2 .8 .8 .8-.3 .8-.4 .8-.4 .8 .7 .8-.2 .8 .6 .8-.6 .8 0 .8 .3 .8 .1 .8-.9 .8 .7 .8-.5 .8 .7 .8 .2 .8-.5 .8-.4 .8 .2 .8-.2 .8 .7 .8 .7 .8-1.4 .8 .6 .8-.8 .8 .4 .8 .3 .8-.2 .8 .1 .8 .3 .8 .1 .8-.6 .8 .3 .8-.8 .8 1 .8-.2 .8 .3 .8-.5 .8-.1 .8-.3 .8 .4 .8 .6 .8-.1 .8-.2 .8-.3 .8 .1 .8-.3 .8 .6 .8-1" fill="none" stroke="#141414" stroke-width="1.5" stroke-linejoin="round"/>
<path d="M121.9 166.2l.8-.8 .8 .4 .8-.5 .8 .2 .8-.5 .8 .7 .8-.3 .8 .5 .8 .1 .8-.5 .8 .3 .8-.4 .8 .2 .8 .2 .8-.4 .8 .3 .8-.4 .8 .2 .8-.1 .8 .6 .8-.7 .8 1 .8-.9 .8 .3 .8 0 .8-.4 .8 .2 .8 .1 .8-.2 .8 .2 .8 .3 .8-.6 .8 .5 .8-.1 .8-.2 .8 .5 .8-.4 .8-.2 .8 .1 .8-.3 .8 .2 .8 .3 .8 .1 .8 0 .8 .1 .8-.4 .8 .1 .8-.1 .8 .1 .8 0 .8 0 .8-.1 .8 .1 .8-.2 .8 .4 .8-.4 .8 .5 .8-.4 .8 .5 .8-.6 .8 .5 .8-.7 .8 .4 .8-.1 .8 0 .8 .3 .8-.3 .8 .2 .8-.2 .8 .5 .8-.5 .8 .4 .8-.3 .8-.5 .8 .6 .8-.5 .8 .6 .8-.1 .8 .3 .8-.6 .8 .5 .8-.6 .8 .1 .8 .5 .8-.7 .8 .9 .8-.6 .8 .3 .8-.5 .8 .4 .8-.7 .8 .9 .8-.2 .8 .1 .8 .3 .8-.8 .8 .4 .8-.5 .8 .3 .8 .1 .8 .1 .8-.1 .8 .1 .8 0 .8-.3 .8 .6 .8-1 .8 1 .8-.8 .8 .6 .8-.1 .8 0 .8-.3 .8 .4 .8-.5 .8 0 .8 .7 .8-1 .8 1.1 .8-.4 .8 .1 .8 0 .8-.2 .8-.5 .8 .3 .8 0 .8-.1 .8 1.1 .8-1 .8 .7 .8-.7 .8 0 .8 0 .8 .2 .8 .1 .8 0 .8 .3 .8-.8 .8 .7 .8-1.1 .8 1 .8-.6 .8 .7 .8 .1 .8-.1 .8 0 .8-.6 .8 .2 .8-.6 .8 .9 .8-.7 .8 1 .8-.4 .8-.1 .8 .5 .8-.7 .8 .4 .8-.5 .8 .4 .8-.7 .8 1 .8-.6 .8 .4 .8 .1 .8-.7 .8 .6 .8-.5 .8 .6 .8-.4 .8 .7 .8-.8 .8 .3 .8-.2 .8-.5 .8 .5 .8-.3 .8 .7 .8-.1 .8 .6 .8-.7 .8 .1 .8-.6 .8-.2 .8 .5 .8-.2 .8 .7 .8-.3 .8 .2 .8-.4 .8 0 .8 0 .8 .1 .8 .1 .8-.1 .8 .3 .8-.5 .8 .3 .8-.4 .8 0 .8 .4 .8-.2 .8 .4 .8 .1 .8-.3 .8-.1 .8 .1 .8-.6 .8 .4 .8 0 .8-.4 .8 .9 .8-.3 .8 .1 .8 .4 .8-.7 .8-.1 .8 .1 .8-.3 .8 .3 .8 .5 .8-.6 .8 .5 .8-.4 .8-.2 .8 .4 .8-.2 .8 .2 .8 .3 .8-.3 .8 0 .8-.2 .8-.4 .8 .2 .8 0 .8 .3 .8 .6 .8-.4 .8 .2 .8-.4 .8-.4 .8 .2 .8 .2 .8-.3 .8 .7 .8-.5 .8 0 .8 .4 .8-.4 .8 .1 .8 .2 .8-.4 .8 .2 .8 .3 .8-.7 .8 .6 .8-.3 .8-.1 .8 .3 .8-.1 .8 0 .8 .1 .3-.1 .4 .1 .4 .1 .5-.2 .4 0 .4 .3 .4 0 .4-.5 .5-.1 .4 .3 .4 0 .4-.3 .4-.1 .5 .1 .4 .3 .4 .1 .4 0 .4 .4 .5 .4 .4-.8 .4-2 .4-.9 .4 2.3 .5 3.4 .4 .6 .4-2.4 .4-3.9 .4-3.4 .5 .2 .4 3.4 .4 3.3 .4 1.8 .4 1.6 .5 1.2 .4 0 .4-1.6 .4-3.1 .4-2.9 .5-2.6 .4 .4 .4 5.8 .4 3.5 .4-.5 .5-1.2 .4-.2 .4-1 .4-2.1 .4-1.3 .5 1.4 .4 4.3 .4 .9 .4-4.8 .4-3.8 .5 1 .4 .3 .4 1.1 .4 1.2 .4 2.9 .5 1.9 .4-2.1 .4-2.1 .4-2.1 .4 .3 .5 1 .4 .2 .4 .2 .4 1.1 .4 1.2 .5-.4 .4-2.2 .4-2.7 .4-1.1 .4 1.6 .5 3.2 .4 2 .4-.6 .4-1.8 .4-.9 .5-.1 .4-.5 .4-.6 .4 0 .4 .9 .5 1.5 .1 .4 .8 .1 .8-2.3 .8 .7 .8-1 .8 .8 .8 3.2 .8-3.2 .8-1 .8 2.7 .8-2.2 .8 .1 .8 1.6 .8-1.2 .8 1.4 .8 .1 .8-3.7 .8 2.2 .8 1.7 .8-1.3 .8 1.2 .8-1.1 .8-1.8 .8 2 .8-.4 .8 .4 .8 .2 .8-1.3 .8 .7 .8 1.4 .8-2.2 .8 .2 .8 1.3 .8-.2 .8 .7 .8-1.9 .8-.6 .8 1.1 .8 .7 .8 .2 .8 .8 .8-2 .8-.8 .8 1.8 .8-.4 .8 .2 .8 .3 .8 .3 .8-1 .8-1 .8 .1 .8 1.1 .8 1.7 .8-1.3 .8-.4 .8-.7 .8 1 .8-.9 .8 .6 .8 .2 .8 .1 .8-.3 .8-.4 .8 .1 .8-.4 .8 1.4 .8 .9 .8-1.1 .8-2.2 .8 1 .8 1.5 .8-.9 .8 .5 .8-.6 .8 .1 .8 .1 .8 .2 .8-1.2 .8 1.7 .8 0 .8-.9 .8 .8 .8-1 .8-.5 .8 .5 .8 .8 .8-.7 .8 .8 .8-.4 .8 .8 .8-1 .8-1.3 .8 1.6 .8 .6 .8-1.2 .8 .5 .8 0 .8-1.2 .8 1.5 .8 0 .8-.4 .8 .8 .8-1.5 .8 .3 .8 .8 .8-.1 .8-1.1 .8 1.7 .8-1.3 .8 .3 .8-.5 .8 .7 .8 .7 .8-.7 .8 0 .8 .2 .8-.4 .8-.9 .8 1.3 .8-.3 .8 0 .8 0 .8-.2 .8 .7 .8-.7 .8 .8 .8-.6 .8-.2 .8-.8 .8 1 .8 1 .8-.5 .8-1.3 .8-.5 .8 2.2 .8-.7 .8 .5 .8-1.2 .8 0 .8 .4 .8 .8 .8-.3 .8-.6 .8-.7 .8 .3 .8 1.5 .8-.7 .8-.5 .8 .6 .8-.1 .8 .1 .8-1.2 .8 1 .8 .1 .8 0 .8-.8 .8 1 .8-.5 .8 .1 .8 .2 .8-.3 .8 .1 .8 0 .8 0 .8 0 .8-.2 .8 0 .8 .5 .8 .3 .8-1.2 .8 0 .8 .5 .8 .6 .8-.2 .8-.3 .8 .5 .8-.6 .8-.4 .8-.1 .8 1.1 .8-.8 .8 .7 .8 .1 .8-.7 .8-.4 .8 .6 .8 .1 .8 .3 .8-.3 .8-.6 .8 .5 .8 .5 .8-1 .8 .6 .8-.3 .8 .4 .8-.6 .8 .7 .8-.4 .8 .4 .8-.5 .8 .7 .8-.4 .8-.8 .8 .5 .8 .4 .8-.4 .8-.1 .8 .7 .8 .1 .8-.4 .8-.4 .8-.2 .8 .6 .8 .2 .8-.2 .8-.3 .8 .5 .8-.4 .8-.2 .8 .4 .8-.4 .8 .1 .8 .8 .8 .2 .8-1 .8 .1 .8-.6 .8 .9 .8-.7 .8 .6 .8 .2 .8 .3 .8-1.2 .8 .6 .8 .2 .8 .3 .8-.3 .8-.8 .8 .2 .8 .2 .8 .3 .8 .3 .8-.3 .8-.3 .8-.1 .8 .9 .8-.7 .8 .1 .8-.5 .8 1.3 .8-.8 .8-.1 .8-.4 .8 .1 .8 .6 .8-.3 .8 .4 .8 .1 .8 .2 .8-1 .8 .5 .8-.8 .8 0 .8 .9 .8 .3 .8-.1 .8-.9 .8 .2 .8 .6 .8 .2 .8-.3 .8-.4 .8-.1 .8-.1 .8 .8 .8-.4 .8 .4 .8-.9 .8 .2 .8 .2 .8 .5 .8-.2 .8 .3 .8-.4 .8-.2 .8-.6 .8 .5 .8 .5 .8-.3 .8-.4 .8 1 .8-.4 .8-.1 .8 .1 .8-.5 .8 .3 .8 .2 .8-.4 .8-.2 .8 .3 .8 .1 .8 .4 .8 0 .8-.7 .8 .2 .8-.1 .8 .5 .8-.4 .8 .1 .8 .3 .8-.3 .8-.4 .8-.4 .8 1.3 .8-.5 .8 .8 .8-.8 .8 .2 .8-.7 .8 .5 .8-.1 .8-.1 .8 .4 .8-.3 .8 .4 .8-.4 .8 .2 .8-.3 .8 .3 .8 .3 .8-.6 .8 .4 .8-.5 .8 .4 .8-.9 .8 1.4 .8-.6 .8 .3 .8-.3 .8-.3 .8 .2 .8 0 .8 .5 .8-.4 .8 .3 .8-1 .8 .9 .8-.4 .8 .1 .8 .3 .8-.2 .8 .4 .8-.3 .8-.2 .8-.4 .8 .8 .8-.4 .8 .6 .8-.4 .8-.6 .8 .5 .8-.2 .8 .5 .8-.4 .8 .5 .8-.5 .8 .5 .8-1.1 .8 .6 .8-.1 .8 .7 .8 0 .8-1 .8 .4 .8-.2 .8 .3 .8 .2 .8 .1 .8-.7 .8 1 .8-.5 .8-.6 .8 .8 .8-.8 .8 .8 .8-.3 .8 0 .8-.2 .8 .8 .8-.8 .8 .4 .8-.3 .8-.5 .8 1.4 .8-1.1 .8 .4 .8-.3 .8 .2 .8-.3 .8 .9 .8-.8 .8-.1 .8 .6 .8-.7 .8 .9 .8-.4 .8 .1 .8-.8 .8 .3 .8 .2 .8 .2 .8 .3 .8-.5 .8 .3 .8-.6 .8 1 .8-.6 .8-.1" fill="none" stroke="#141414" stroke-width="1.5" stroke-linejoin="round"/>
<path d="M121.9 192.5l.8 .4 .8-.8 .8 1.1 .8-1.2 .8 1.3 .8-.9 .8 .6 .8-.2 .8 0 .8-.1 .8 .1 .8-.4 .8 .5 .8-.5 .8 .1 .8 .3 .8-.3 .8 .6 .8 0 .8-.5 .8 .3 .8-.5 .8-.2 .8 .6 .8-.2 .8 .2 .8 .2 .8-.2 .8-.2 .8 .4 .8-.6 .8 .1 .8 .4 .8-.9 .8 1.2 .8-.7 .8 .5 .8-.4 .8 .2 .8-.3 .8 .4 .8-.3 .8 .1 .8-.1 .8 0 .8 .3 .8-.3 .8 .5 .8-.7 .8 .4 .8-.3 .8 .2 .8 .2 .8-.4 .8 .4 .8-.5 .8 .7 .8-.3 .8 .1 .8-.4 .8 0 .8-.3 .8 .8 .8-.3 .8 .4 .8-.3 .8-.1 .8-.3 .8 .6 .8-.6 .8 .3 .8 0 .8-.4 .8 .6 .8 0 .8-.2 .8 .1 .8 .1 .8-1 .8 1.6 .8-1.5 .8 1.1 .8-.7 .8 .1 .8 .2 .8 .2 .8 0 .8-.1 .8 .1 .8-.6 .8 .7 .8-.7 .8 .7 .8-.9 .8 .7 .8-.3 .8 .7 .8-.4 .8 .3 .8-.8 .8 .1 .8 .3 .8-.1 .8 .4 .8-.2 .8-.4 .8 .2 .8 .3 .8-.3 .8 .8 .8-1.2 .8 .7 .8-.8 .8 1.1 .8-.9 .8 1 .8-.9 .8 .3 .8 .1 .8 0 .8-.1 .8 .1 .8-.3 .8-.3 .8 1.1 .8-1 .8 1.2 .8-1 .8 .1 .8 0 .8 0 .8 0 .8 .1 .8 0 .8-.1 .8 .6 .8-.5 .8 .3 .8-.6 .8 0 .8 0 .8 .4 .8-.1 .8 .6 .8-1 .8 .6 .8-.3 .8 .1 .8 .3 .8-.4 .8-.4 .8 .6 .8-.5 .8 .6 .8 .4 .8-.9 .8 .7 .8-.6 .8 .3 .8-.2 .8 .2 .8-.5 .8 .2 .8 .4 .8-.5 .8 1.1 .8-1 .8 .5 .8-.8 .8 .8 .8-.9 .8 1.1 .8-1 .8 .8 .8-.4 .8 .3 .8-.2 .8 0 .8-.1 .8-.2 .8 .6 .8-.4 .8 .4 .8-.4 .8 0 .8 0 .8 .2 .8-.1 .8 .4 .8-.9 .8 .8 .8-.6 .8 .3 .8 .4 .8-.7 .8 .6 .8-.5 .8 .2 .8-.2 .8 .7 .8-1.4 .8 1.8 .8-1.7 .8 1.4 .8-.8 .8 .7 .8-1 .8 .9 .8-.9 .8 .4 .8 .4 .8-.7 .8 .8 .8-.4 .8 .1 .8-.1 .8 .1 .8-.4 .8 .5 .8-.4 .8 .4 .8-.4 .8 .1 .8 .1 .8 0 .8 .4 .8-.3 .8 .1 .8-.4 .8 .1 .8-.3 .8 .5 .8-.5 .8 .9 .8-.8 .8 1.1 .8-1.3 .8 1.1 .8-1 .8 .3 .8 0 .8 0 .8 .1 .8 .2 .8-.1 .8-.2 .8 .6 .8-.8 .8 .4 .8-.2 .8-.2 .8 .4 .8 .1 .8-.3 .8 .1 .8 .3 .8-1 .8 1.5 .8-1.2 .8 .6 .8-.3 .3-.2 .4 0 .4 .1 .5 .1 .4 .2 .4 .2 .4-.1 .4-.3 .5 .3 .4 .3 .4-.4 .4-.5 .4 .2 .5 .1 .4-.2 .4 .2 .4 .3 .4-.1 .5 .1 .4-.4 .4-1.9 .4-1.9 .4 .6 .5 3 .4 3.3 .4 1.2 .4-3.5 .4-5.9 .5-1.1 .4 4.7 .4 4.7 .4 1.2 .4-.5 .5-.7 .4-1.7 .4-4.1 .4-4.1 .4-.9 .5 2.2 .4 2.3 .4 3.6 .4 4.5 .4 3.5 .5-1.1 .4-4.9 .4-5.7 .4-1.7 .4 2 .5 4 .4 5.7 .4 .7 .4-7.2 .4-7.4 .5 .4 .4 4.2 .4 5.1 .4 2.6 .4 .9 .5-3.8 .4-2.4 .4 1 .4 2.2 .4 1.3 .5-1.7 .4-3.1 .4-.8 .4 1.6 .4 .4 .5-1.9 .4-1.8 .4-.2 .4 1.2 .4 2.3 .5 2.4 .4 1.1 .4-.3 .4-1.3 .4-2 .5-1.9 .4-1.2 .4-.7 .4 .7 .4 2.3 .5 2.3 .1 .4 .8 1.3 .8-2.5 .8-3.2 .8 .8 .8 2.6 .8-.2 .8-2.1 .8 1 .8 2.2 .8-.2 .8-3.9 .8 .5 .8 2.2 .8 0 .8 1.2 .8-1.1 .8-2 .8-.2 .8 1.8 .8 .1 .8 1.6 .8-2.1 .8-.2 .8-.4 .8 .5 .8 .3 .8 .7 .8-.5 .8 .2 .8-.3 .8-2 .8 1.9 .8 1.4 .8-.7 .8-1.1 .8-.5 .8 .6 .8 .2 .8 .5 .8 .8 .8-1.1 .8-1.2 .8 .6 .8 .3 .8 .9 .8-.4 .8-.5 .8 .2 .8-.3 .8 .6 .8 .2 .8-1 .8 .4 .8-.2 .8 .1 .8 .8 .8 0 .8-1.6 .8 .4 .8 1.5 .8 .2 .8-.8 .8-2.3 .8 1.9 .8 .5 .8-.2 .8 .1 .8-.6 .8 .1 .8 1 .8-.7 .8-.4 .8 .3 .8-1 .8 2 .8-1.3 .8 .2 .8 .3 .8-.3 .8 .3 .8 .5 .8-1.3 .8 .1 .8 1 .8-.7 .8 .1 .8-.1 .8 .6 .8 .4 .8-1.2 .8-.6 .8 1.4 .8-.6 .8 .9 .8-.4 .8-.6 .8-.5 .8 .7 .8 .3 .8 .9 .8-1.3 .8-.2 .8-.3 .8 .5 .8 1.2 .8-.9 .8-.1 .8-.2 .8 .6 .8-1.1 .8 .7 .8 .1 .8 0 .8-.2 .8-.3 .8 .8 .8-.1 .8-.4 .8 .2 .8 .1 .8-.9 .8 .8 .8-.3 .8 .4 .8 .3 .8-.6 .8-.4 .8 .2 .8 .4 .8 .9 .8-.7 .8-.7 .8-.7 .8 .8 .8 .6 .8 1.3 .8-1.9 .8-.9 .8 1.1 .8 .7 .8 .3 .8-1 .8-.7 .8 .9 .8-.5 .8 .3 .8 .4 .8-.1 .8-.1 .8 .5 .8-1.4 .8 .8 .8-.3 .8 .5 .8-.3 .8 .4 .8-.2 .8-.4 .8 .3 .8-.2 .8 .8 .8-.5 .8 0 .8-.3 .8-.3 .8 .1 .8 .9 .8 .3 .8-1.3 .8 .3 .8 .3 .8 0 .8-.3 .8 .1 .8-.6 .8 1.7 .8-.7 .8-.2 .8-.3 .8-.2 .8 .3 .8 .7 .8-1.3 .8 1.2 .8-.9 .8 .8 .8-.3 .8 .3 .8-.8 .8 .2 .8 .5 .8-.3 .8-.6 .8 .1 .8 1.3 .8-.4 .8 0 .8-.9 .8 .2 .8 .6 .8-.3 .8-.5 .8 .4 .8 .2 .8 .1 .8 .6 .8-2 .8 1.4 .8 .2 .8-.4 .8 .4 .8-.5 .8-1.1 .8 1.3 .8 .1 .8 .4 .8-.2 .8-.3 .8-.7 .8 .6 .8-.7 .8 1.1 .8 .4 .8-.9 .8-.5 .8 .7 .8-.2 .8 .5 .8-.3 .8-.6 .8 .8 .8 .1 .8-.5 .8-.1 .8-.3 .8 1.1 .8-.7 .8 .2 .8-.5 .8 .8 .8-.6 .8 .3 .8-.2 .8 .1 .8 .3 .8-.2 .8 0 .8-.6 .8 .2 .8 .8 .8 0 .8-1 .8 .3 .8-.3 .8 .7 .8 .6 .8-1.2 .8 .6 .8-.4 .8 .2 .8-.1 .8-.4 .8 .3 .8 1 .8-.9 .8 .4 .8-.5 .8 0 .8-.1 .8 1.1 .8-1.1 .8 .6 .8-1.2 .8 .7 .8 .3 .8 .1 .8 .1 .8 .4 .8-.8 .8-.3 .8 .2 .8-.6 .8 1.5 .8-.8 .8 .3 .8-.5 .8 .7 .8-.2 .8-.4 .8 .1 .8-.1 .8 .4 .8-.5 .8 .1 .8 .5 .8 .2 .8-.7 .8 .6 .8-1.1 .8 .4 .8 .7 .8 0 .8-.8 .8 .2 .8-.3 .8 1.2 .8-.1 .8-.7 .8-.7 .8 .6 .8 .1 .8 .8 .8-.4 .8-.8 .8 .8 .8-.8 .8 .7 .8 0 .8 .1 .8-.7 .8-.2 .8 .7 .8 .2 .8 0 .8-.1 .8-.2 .8-.3 .8 .6 .8-.9 .8 .5 .8 0 .8 .1 .8 .6 .8-.4 .8-.3 .8-.2 .8 .4 .8-.5 .8 1 .8-.6 .8-.5 .8 .8 .8-.5 .8-.2 .8 .8 .8-.2 .8 .1 .8-.2 .8-.6 .8 .4 .8 .4 .8-.5 .8 .2 .8 .2 .8-.7 .8 .8 .8 0 .8-.3 .8-.1 .8 .3 .8-.8 .8 1.2 .8-1 .8 .1 .8 .4 .8-.1 .8 1 .8-1.4 .8 .2 .8-.1 .8 .7 .8-.6 .8 .6 .8-1 .8 .9 .8-.5 .8 .4 .8 0 .8-.2 .8-.1 .8 .4 .8-.7 .8 .1 .8 .5 .8-.2 .8 .5 .8-.2 .8-.9 .8 .5 .8 0 .8-.2 .8 .7 .8-.8 .8 1.1 .8-.5 .8-.4 .8 .1 .8 0 .8 0 .8-.1 .8 .3 .8-.3 .8 .5 .8-.5 .8 .9 .8-.8 .8 .4 .8-.9 .8 .5 .8-.3 .8 .7 .8-.2 .8-.1 .8 .2 .8-.2 .8-.1 .8 .3 .8-.2" fill="none" stroke="#141414" stroke-width="1.5" stroke-linejoin="round"/>
<path d="M121.9 219.9l.8 .3 .8-.6 .8 .6 .8-.6 .8 .4 .8-.3 .8-.5 .8 .4 .8 .2 .8-.1 .8 .5 .8-.3 .8 .1 .8 0 .8-.3 .8-.3 .8 .5 .8-.1 .8-.3 .8 .6 .8-.6 .8 .4 .8 .7 .8-1.7 .8 1.6 .8-1.3 .8 .5 .8 .3 .8-.3 .8 .3 .8 .3 .8-.9 .8 .3 .8-.2 .8 .1 .8 .5 .8-.1 .8-.2 .8 .2 .8-.1 .8-.5 .8 .7 .8-.8 .8 .9 .8-.6 .8 .2 .8-.2 .8 .4 .8-.2 .8 .2 .8-.3 .8 0 .8 .3 .8-.3 .8 .2 .8-.2 .8-.2 .8 .5 .8-.7 .8 .7 .8 0 .8 0 .8 .2 .8-.7 .8-.1 .8 .7 .8-.8 .8 1 .8-.9 .8 .6 .8-.4 .8 .3 .8-.4 .8 .5 .8 .2 .8-.5 .8 .3 .8-.5 .8 0 .8 .6 .8-.6 .8 0 .8 .9 .8-1.1 .8 1.2 .8-.8 .8 .1 .8 .2 .8-.2 .8-.7 .8 .9 .8-.4 .8 .3 .8 .4 .8-1 .8 .6 .8 .1 .8-.4 .8 .6 .8-.4 .8 0 .8 0 .8-.2 .8-.4 .8 .9 .8-.3 .8 .2 .8 .1 .8-.5 .8 .2 .8 .4 .8-1.1 .8 1.3 .8-1.1 .8 .9 .8-.5 .8-.1 .8 .5 .8-.6 .8 .6 .8-.7 .8 .4 .8 .1 .8 .2 .8-.1 .8-.1 .8-.5 .8 .5 .8-.5 .8 .4 .8-.1 .8 .5 .8-.5 .8 .3 .8-.5 .8 .4 .8 .2 .8-.3 .8 0 .8-.2 .8 0 .8 0 .8 .2 .8 0 .8 .3 .8 .3 .8-.9 .8 .7 .8-.8 .8 .5 .8-.4 .8 0 .8 0 .8 .5 .8 0 .8 .2 .8-.4 .8 .3 .8-.7 .8 .4 .8-.4 .8 .1 .8 1.1 .8-1.2 .8 .8 .8-.6 .8 0 .8 .4 .8-.1 .8-.4 .8 .8 .8-.8 .8 .4 .8-.3 .8 .2 .8 0 .8 .3 .8-.6 .8 .1 .8 .4 .8-.4 .8 .6 .8-.3 .8-.3 .8 .6 .8-.6 .8 .1 .8 0 .8 .1 .8-.4 .8 .8 .8-1 .8 1 .8 0 .8-.3 .8 .1 .8-.4 .8-.2 .8 .5 .8-.4 .8 .4 .8-.1 .8 .2 .8-.4 .8 .1 .8 .2 .8-.3 .8 1.2 .8-1.7 .8 1.2 .8-1 .8 .4 .8 .1 .8-.4 .8 .6 .8 .1 .8-.3 .8 .4 .8-.5 .8 .3 .8-.2 .8-.4 .8 .1 .8 .2 .8 .1 .8 .5 .8-.5 .8 0 .8 .2 .8-.6 .8 .3 .8 .3 .8-.5 .8 1 .8-1.1 .8 .2 .8-.1 .8 .4 .8-.3 .8 .7 .8-.7 .8 .3 .8 .4 .8-1.1 .8 .9 .8-.4 .8-.2 .8 .6 .8-.6 .8-.1 .8 1.3 .8-1.4 .8 1 .8-.7 .8 0 .8 .3 .8-.1 .8-.3 .8 .5 .8-.3 .8 0 .3 .4 .4-.3 .4-.3 .5 .3 .4 .1 .4-.1 .4 .3 .4 .1 .5-.4 .4-.2 .4 0 .4-.1 .4 .3 .5 .2 .4-.2 .4-.2 .4 .7 .4 .7 .5 .1 .4-1 .4-2.5 .4-2.2 .4 1.2 .5 4.3 .4 3.6 .4-.4 .4-5.3 .4-5.7 .5-.8 .4 4 .4 4.7 .4 3.2 .4 2 .5 1.5 .4-1.8 .4-6.6 .4-6.5 .4-1.1 .5 3.3 .4 2.6 .4 3 .4 3.2 .4 3.2 .5 .9 .4-4 .4-7.6 .4-3.6 .4 2.7 .5 6.5 .4 4.6 .4-.9 .4-7.7 .4-4.8 .5 3 .4 2.8 .4 1.9 .4 2.2 .4 2.7 .5-2.1 .4-2.4 .4 .3 .4 0 .4-.1 .5-1.5 .4-1.8 .4 1 .4 3.3 .4 1 .5-1.7 .4-2.3 .4-2.4 .4-1.1 .4 2 .5 3 .4 .8 .4-.9 .4-1.1 .4-.4 .5 1.1 .4 1.1 .4-.8 .4-1.4 .4-.2 .5 .1 .1-.1 .8 .2 .8-.3 .8 1.9 .8-.1 .8-1 .8-.8 .8-.6 .8 1.7 .8 2.4 .8-2.5 .8-2.3 .8 .5 .8 2.6 .8 1.2 .8-1.6 .8-2.9 .8 1 .8 1.9 .8 1.1 .8-1.5 .8-1 .8-.2 .8 2 .8-.2 .8-2 .8 .8 .8 .6 .8 .9 .8-1 .8-.8 .8-.5 .8 .9 .8 1.1 .8 1.6 .8-3 .8-1.1 .8 1.5 .8 .7 .8-.5 .8 .9 .8-1.6 .8-1 .8 3 .8-.7 .8-1.4 .8 1.9 .8-.9 .8-.6 .8-.4 .8 .4 .8 1.1 .8-.3 .8-1 .8-.1 .8 1.2 .8 1.4 .8-1.9 .8-1.4 .8-.5 .8 3 .8 .9 .8-1.5 .8-2.6 .8 1.3 .8 1.5 .8 .1 .8 0 .8-2.4 .8 1.2 .8 1.4 .8 .2 .8-1.6 .8-.3 .8-.3 .8 1.3 .8 .8 .8-1.4 .8-.2 .8 1.1 .8-1.3 .8 1.3 .8-.7 .8 .2 .8 0 .8-.1 .8-.1 .8-1.1 .8 2 .8-.1 .8-1.4 .8 .5 .8 .5 .8 .2 .8-.5 .8 .2 .8-1.5 .8 1.3 .8 1 .8-.5 .8-.9 .8-.1 .8-.2 .8 1.1 .8-.1 .8-.1 .8 .1 .8-.8 .8 .6 .8 .5 .8-1.1 .8 0 .8 .8 .8-.5 .8 .7 .8-1.2 .8 .9 .8-.1 .8 .8 .8-.6 .8-.9 .8-.2 .8 1.2 .8-.5 .8 .1 .8 .3 .8-.4 .8 .1 .8 0 .8-.5 .8 1.1 .8 .5 .8-2.1 .8 .4 .8 1 .8-.9 .8 1.4 .8-1.6 .8-.1 .8 1.5 .8 .6 .8-1.2 .8-1.1 .8 .6 .8 .7 .8-.1 .8 .1 .8-1.2 .8 .9 .8 .5 .8 .1 .8-.4 .8-1.1 .8 .6 .8 .4 .8 .7 .8-1 .8 1 .8-1.9 .8 .6 .8 .7 .8 .2 .8-.1 .8-.2 .8-.3 .8-.6 .8 .9 .8 .6 .8-.6 .8 .2 .8-.8 .8 .6 .8-.5 .8 .1 .8 .3 .8-.2 .8 1.1 .8-.9 .8-.2 .8 .3 .8-.2 .8 .7 .8-1.2 .8 .5 .8-.9 .8 1.4 .8 .1 .8-.6 .8 .6 .8-.5 .8-.6 .8 .9 .8 .2 .8-1.2 .8 1 .8-.9 .8 .6 .8 .5 .8-.4 .8-.5 .8 .8 .8-.7 .8 .9 .8-.8 .8-.2 .8 .4 .8 .5 .8-1.4 .8 1.1 .8 .3 .8-1 .8 .8 .8-.3 .8-.3 .8 .9 .8-.6 .8-.6 .8 .4 .8 .6 .8 .1 .8-.7 .8-.5 .8 .8 .8-.3 .8 .8 .8-.7 .8 .5 .8-.4 .8 .2 .8-.6 .8-.4 .8 1.2 .8-.3 .8 .6 .8-.8 .8-.5 .8 .7 .8 0 .8 0 .8 .2 .8-.7 .8 .9 .8-1 .8 .9 .8-.8 .8 .4 .8 0 .8 .3 .8-.7 .8 .7 .8 .1 .8-.6 .8 .5 .8-1.1 .8 1.1 .8 0 .8-.9 .8 .8 .8-.8 .8 .8 .8 .6 .8-.6 .8-1.1 .8 1.2 .8 0 .8-.4 .8 .7 .8-1.5 .8 0 .8 1.3 .8-.4 .8 1.3 .8-1.6 .8-.2 .8 .5 .8-.2 .8 1.2 .8-1.1 .8-.5 .8-.3 .8 1.5 .8-.5 .8 .5 .8-1 .8 .5 .8 0 .8 .1 .8-.4 .8 .2 .8-.2 .8 .3 .8-.1 .8-.1 .8-.2 .8 .4 .8-.1 .8 .6 .8-.2 .8-.7 .8-.1 .8-.3 .8 .9 .8 .7 .8-.8 .8-.1 .8-.4 .8 .3 .8-.2 .8 .6 .8-.3 .8 0 .8 .1 .8 .3 .8-.5 .8 .3 .8-.3 .8-.3 .8 .1 .8 0 .8 1 .8-1.1 .8 1.3 .8-.9 .8 .2 .8-.3 .8-.2 .8 0 .8 .2 .8 .3 .8 .2 .8-1.2 .8 .9 .8-.1 .8 .8 .8-.2 .8-.9 .8-.5 .8 .3 .8 .8 .8-.1 .8 .1 .8-.8 .8 .8 .8 0 .8-.5 .8 .3 .8-.4 .8 .9 .8-.9 .8 .4 .8-.6 .8 .8 .8 0 .8-.7 .8 .6 .8-.7 .8 .9 .8 .1 .8-.9 .8 .4 .8 .2 .8-.2 .8-.1 .8-.3 .8 .3 .8-.3 .8 1.7 .8-1.6 .8 .6 .8-1 .8 .5 .8 .7 .8-.6 .8 .1 .8 .3 .8-.8 .8 .8 .8 0 .8-1.4 .8 1.3 .8 .3 .8-.6 .8 .6 .8-.8 .8 .3 .8 .5 .8-.7 .8-.3 .8 .1 .8 .2 .8 .9 .8-.3 .8-.4 .8-.3 .8 .4 .8-.2 .8 .4 .8-.2 .8-.3 .8 .2 .8-.4 .8 .5 .8-.3 .8 .6 .8-.2 .8 0 .8-.5 .8 .5 .8-.7 .8 1.4 .8-1.7 .8 .9 .8 .1 .8-.5 .8 .5 .8-.5 .8 .1 .8 .7 .8 0" fill="none" stroke="#141414" stroke-width="1.5" stroke-linejoin="round"/>
<path d="M121.9 247.1l.8-.5 .8 .1 .8 .1 .8 .3 .8 .3 .8-.3 .8-.3 .8-.3 .8 .1 .8 .1 .8 .4 .8 .1 .8-.2 .8-.1 .8 0 .8-.3 .8 .6 .8-.2 .8-.2 .8 .2 .8-.4 .8 .1 .8 .3 .8 .1 .8-.1 .8 .2 .8-.5 .8-.1 .8 .3 .8 .1 .8-.2 .8 .7 .8-1.3 .8 .7 .8-.4 .8 .6 .8-.1 .8 .5 .8-.9 .8 .3 .8-.3 .8 .4 .8-.2 .8 .7 .8-1.1 .8 .8 .8-.7 .8 .6 .8-.3 .8 .2 .8-.2 .8 .1 .8 .2 .8 0 .8-.3 .8 .1 .8-.6 .8 .6 .8 .1 .8 .3 .8-.2 .8-.2 .8-.1 .8-.5 .8 1.1 .8-.6 .8 .4 .8-.2 .8-.7 .8 .5 .8 0 .8 .4 .8 0 .8-.1 .8-.3 .8-.2 .8 .6 .8-.7 .8 .6 .8-.3 .8-.3 .8 .8 .8-.6 .8 .6 .8-.4 .8 .2 .8-.5 .8 .2 .8 .1 .8-.4 .8 .7 .8-.6 .8 .5 .8-.1 .8-.2 .8 .3 .8-.3 .8 .3 .8-.2 .8-.1 .8 .1 .8-.6 .8 .9 .8-.5 .8 .7 .8-.6 .8 .6 .8-.9 .8 .6 .8-.3 .8-.1 .8 .1 .8 0 .8-.2 .8 .6 .8-.1 .8-.1 .8-.1 .8 .1 .8-.5 .8 .8 .8-.5 .8 .1 .8 0 .8-.4 .8 .4 .8 0 .8 .5 .8-.8 .8 .9 .8-1.1 .8 .6 .8-.1 .8-.2 .8 .2 .8-.1 .8 .1 .8 .2 .8-.1 .8 .2 .8-.9 .8 1 .8-1 .8 1.2 .8-.7 .8 .2 .8-.3 .8-.2 .8 .7 .8-.6 .8 .9 .8-.6 .8-.2 .8 .4 .8-.7 .8 .8 .8-.6 .8 .6 .8-.6 .8 .5 .8-.1 .8-.4 .8 .7 .8-.8 .8 .5 .8 .3 .8-.6 .8 .6 .8-.9 .8 .6 .8-.6 .8 1.1 .8-.9 .8 .6 .8-.4 .8-.1 .8 .4 .8 .1 .8-.4 .8 .3 .8-.7 .8 .3 .8 0 .8 .6 .8-.4 .8 .3 .8-.6 .8 .2 .8 .1 .8 .2 .8-.1 .8-.1 .8 0 .8-.5 .8 .5 .8-.2 .8 .6 .8-.4 .8 .6 .8-.7 .8 .1 .8-.2 .8-.2 .8 .3 .8 .3 .8-.3 .8 .5 .8-.6 .8 .3 .8-.4 .8 .8 .8-.8 .8 .7 .8-.5 .8-.4 .8 .7 .8-.6 .8 .5 .8 0 .8 .1 .8-.1 .8 .1 .8-.1 .8-.6 .8 .6 .8-.5 .8 .4 .8 .4 .8-.5 .8 .3 .8-.5 .8 .4 .8-.1 .8 .4 .8-.4 .8-.3 .8 .1 .8-.2 .8 .7 .8-.1 .8 .1 .8-.6 .8 .2 .8 0 .8 .3 .8 .2 .8-.4 .8-.3 .8-.1 .8 .3 .8 .1 .8 .6 .8-.3 .8-.5 .8 .2 .8-.4 .8 .4 .8 .3 .8-.4 .8 .2 .8-.4 .3 .2 .4 .3 .4-.2 .5-.5 .4 .5 .4 .9 .4-.6 .4-1 .5 .4 .4 .8 .4-.3 .4-.5 .4 .2 .5 .1 .4 .1 .4 .2 .4 .3 .4 .2 .5 0 .4-1.5 .4-2.6 .4-.8 .4 3.3 .5 3.9 .4 1.3 .4-2.9 .4-5 .4-3.8 .5 .3 .4 2.7 .4 3.7 .4 4.1 .4 3.3 .5 1.5 .4-1.2 .4-4.9 .4-7 .4-2.7 .5 2.6 .4 3.9 .4 4.2 .4 2.3 .4-.4 .5-3.4 .4-2.6 .4-1.7 .4-.5 .4 .8 .5 3.3 .4 6.7 .4 1.5 .4-7.3 .4-7 .5-.2 .4 2.4 .4 2.4 .4 2.7 .4 4.2 .5-2.1 .4-1.6 .4 0 .4 .8 .4-.3 .5-2.3 .4-2.8 .4-1.2 .4 1.6 .4 2.3 .5 .1 .4-2.6 .4-1.7 .4 1.8 .4 3.9 .5 2.4 .4-.9 .4-2.9 .4-1.6 .4 .1 .5 .2 .4-.6 .4-1.3 .4-1.4 .4 .4 .5 3.5 .1 1.5 .8 2.2 .8-3.6 .8-1.6 .8-.4 .8 1.8 .8 .1 .8-.4 .8 .5 .8 .5 .8 .9 .8-2.3 .8-1.5 .8 .7 .8 1.9 .8 2 .8-1.8 .8-1.4 .8-.9 .8 .9 .8 2.1 .8 0 .8-2.2 .8-.1 .8 .5 .8 .4 .8 1.8 .8-3 .8 .6 .8 1.4 .8-1 .8 .1 .8 .3 .8 .4 .8-.6 .8-.8 .8 .1 .8-.1 .8 3 .8-1.7 .8-1.7 .8 .8 .8 1.5 .8-.7 .8-1.3 .8 .1 .8 .7 .8 1.6 .8-1.2 .8-1.2 .8-.3 .8 1.8 .8 .6 .8-1.4 .8-.2 .8 .6 .8-.4 .8 .7 .8-1.7 .8 1.3 .8-.1 .8 1 .8-.8 .8-.8 .8 .1 .8 1.1 .8-.3 .8-.2 .8-1.3 .8 1.6 .8 .1 .8-.2 .8-.6 .8-.3 .8 0 .8 2 .8-.9 .8-1.2 .8 .6 .8 .1 .8-.7 .8 1 .8 .3 .8-.3 .8-.7 .8 .1 .8-.5 .8 1.3 .8 .8 .8-1.5 .8-.6 .8 .6 .8 .2 .8 .4 .8-1 .8 1.5 .8-1.1 .8-.3 .8 .7 .8-.2 .8-.3 .8 1.3 .8-1.5 .8 0 .8 .9 .8-.1 .8-1.4 .8 1.4 .8-.2 .8-.1 .8 .3 .8 .1 .8-.8 .8 .5 .8-.4 .8-.4 .8 1.2 .8 .2 .8-.7 .8-.3 .8-.3 .8 .4 .8 .8 .8-.4 .8 .4 .8-.9 .8 .1 .8-.6 .8 .5 .8 .7 .8 .2 .8-.3 .8-.3 .8-1 .8 1.3 .8 0 .8 .3 .8-.9 .8-.4 .8 .5 .8 .5 .8 0 .8-.4 .8-.2 .8 .4 .8 .6 .8-.9 .8-.5 .8 .8 .8 .2 .8-.4 .8-.1 .8-.3 .8 .8 .8 .2 .8 .1 .8-1.3 .8 .9 .8 0 .8-.8 .8 .5 .8 0 .8 .5 .8 0 .8-.9 .8 .4 .8 0 .8 .6 .8-.1 .8-.7 .8 0 .8-.1 .8 .5 .8 .1 .8 0 .8-.3 .8 .1 .8 .2 .8-.2 .8 .4 .8-1.2 .8 .8 .8 .5 .8-.5 .8-.5 .8 .4 .8 .1 .8 .3 .8 .2 .8-.4 .8-1.2 .8 2.1 .8-1.7 .8 .9 .8-.1 .8 .2 .8-.7 .8 .3 .8 0 .8 .5 .8-.3 .8 .1 .8-1 .8 .9 .8 0 .8 .8 .8-1.7 .8 .7 .8-.2 .8 .5 .8 .2 .8-.2 .8-.4 .8-.3 .8 1.2 .8-.8 .8-.5 .8 .9 .8-.2 .8 .1 .8-.2 .8-.5 .8 .1 .8 .9 .8 .1 .8-1 .8 .5 .8 0 .8-.1 .8-.3 .8 .2 .8-.2 .8 .9 .8-.5 .8-.8 .8 1.4 .8-.6 .8 .1 .8-.7 .8-.1 .8 .8 .8 .5 .8-.5 .8-1 .8 .8 .8-.2 .8 .4 .8 .2 .8-.3 .8 .4 .8-.8 .8 0 .8-.6 .8 .8 .8 .7 .8-.2 .8 .2 .8-1.6 .8 1.4 .8-1 .8 1.1 .8-.2 .8-.9 .8 .6 .8 0 .8 .3 .8-.3 .8-.5 .8 .6 .8-.2 .8 1.2 .8-1.1 .8 .2 .8-1.2 .8 .6 .8 .3 .8 .2 .8 .9 .8-1.2 .8 .5 .8-.7 .8 .3 .8-.2 .8 .3 .8 .5 .8-.3 .8-.3 .8-.6 .8 .2 .8 1.4 .8-.9 .8 .7 .8-1.1 .8 .2 .8 0 .8 .6 .8-1 .8 .9 .8-.3 .8-.4 .8 .4 .8 .6 .8-.3 .8-.6 .8 0 .8 0 .8 .3 .8 .8 .8-1.1 .8-.1 .8 .4 .8 .4 .8-.7 .8 .3 .8 0 .8 .1 .8 .4 .8-.7 .8-.1 .8-.2 .8 .6 .8 .4 .8-.5 .8 .3 .8-.9 .8 .8 .8-.6 .8 1.1 .8-.5 .8-.5 .8 .5 .8-.7 .8 .1 .8 1 .8-.4 .8-.2 .8-.4 .8 .2 .8 0 .8 1.4 .8-1.3 .8-.3 .8 .1 .8-.1 .8 .8 .8-.3 .8 .1 .8-.5 .8 .5 .8-.7 .8 .7 .8 .3 .8-.2 .8-.7 .8 .2 .8-.4 .8 1.1 .8-.2 .8 0 .8-.7 .8 .6 .8-.3 .8 .6 .8-.8 .8 .7 .8-1.1 .8 1 .8-.3 .8-.2 .8 .1 .8 .2 .8 .4 .8-.2 .8-.4 .8-.3 .8 .3 .8 .5 .8-.8 .8 .3 .8-.5 .8 1.3 .8-.2 .8-.5 .8-.1 .8-.5 .8 1 .8-.5 .8 .5 .8-.5 .8-.3 .8 .6 .8-1 .8 1.5 .8-.9 .8 .8 .8-.4 .8-.4 .8 .1 .8-.5 .8 .4 .8 .1 .8 .7 .8-.1 .8-.9 .8 .4 .8-.6 .8 1.1 .8-.5 .8 .6 .8-1.1 .8 0 .8 .9 .8-.8 .8 .9 .8-.6 .8-.2 .8 .3 .8 .9 .8-.8" fill="none" stroke="#141414" stroke-width="1.5" stroke-linejoin="round"/>
<path d="M121.9 273.8l.8 .6 .8-.8 .8 .6 .8-.1 .8-.2 .8 .4 .8-.3 .8-.1 .8 .1 .8-.2 .8 .2 .8 0 .8-.2 .8 .6 .8-.7 .8 .6 .8 0 .8-.5 .8 .4 .8-.3 .8-.3 .8 .4 .8 0 .8-.2 .8 .4 .8 .1 .8-.7 .8 .8 .8-.4 .8-.2 .8 .6 .8-.7 .8 .4 .8-.4 .8 .5 .8-.7 .8 .9 .8-.7 .8 .4 .8-.1 .8 .4 .8-.4 .8 .2 .8-.2 .8-.4 .8 .1 .8 .2 .8 .1 .8-.1 .8 .8 .8-1 .8 .5 .8 .1 .8-.8 .8 .8 .8-.3 .8-.4 .8 .9 .8-.9 .8 .6 .8-.5 .8 .4 .8-.5 .8 .5 .8 0 .8 .1 .8 .1 .8 0 .8-.4 .8-.1 .8-.2 .8 .1 .8 .2 .8 .2 .8 .3 .8-.3 .8 .2 .8-.1 .8-.5 .8 .6 .8-.7 .8 .3 .8 .2 .8-.4 .8 .6 .8-.5 .8 .4 .8-.6 .8 .7 .8-.6 .8 .9 .8-.7 .8 .4 .8-.3 .8-.3 .8 .1 .8 .1 .8-.4 .8 .9 .8-.5 .8 .1 .8 .4 .8-.4 .8 .2 .8 0 .8-.4 .8 0 .8 .1 .8-.2 .8 .3 .8-.2 .8 .6 .8-.9 .8 1.3 .8-1.2 .8 .9 .8-.7 .8 .3 .8-.3 .8-.1 .8 .5 .8-.5 .8 .5 .8 0 .8-.5 .8 .3 .8 .2 .8-.7 .8 1.1 .8-.4 .8-.3 .8 .4 .8-.6 .8-.2 .8 .5 .8-.3 .8 .2 .8 .3 .8 .2 .8-.3 .8 .4 .8-.6 .8-.1 .8-.1 .8 0 .8 .3 .8 0 .8 .5 .8-.6 .8 .1 .8 0 .8-.4 .8 .5 .8 0 .8 .2 .8-.3 .8 .5 .8-1 .8 .5 .8-.2 .8-.2 .8 .3 .8 .3 .8-.2 .8 .4 .8-.1 .8-.6 .8 .6 .8-.9 .8 .6 .8-.1 .8 .1 .8 .3 .8-.3 .8-.1 .8 .2 .8-.5 .8 .6 .8-.2 .8 .2 .8-.2 .8 .2 .8-.6 .8 .5 .8-.4 .8 .3 .8 0 .8 0 .8 .2 .8-.1 .8 .1 .8-.3 .8 .1 .8-.2 .8 .3 .8-.1 .8 .1 .8 .2 .8-.6 .8 .3 .8-.1 .8-.2 .8 .6 .8 0 .8-.4 .8 .4 .8-.2 .8-.7 .8 1.2 .8-1.2 .8 .8 .8-.3 .8 .1 .8-.1 .8 .3 .8-.3 .8 .1 .8 0 .8 .1 .8-.2 .8 .3 .8-.1 .8-.2 .8-.1 .8 .2 .8-.3 .8 .3 .8 .4 .8-.7 .8 .7 .8-.5 .8 0 .8-.1 .8 .8 .8-1.2 .8 1.3 .8-1 .8 .2 .8-.1 .8 .3 .8-.5 .8 .6 .8 0 .8-.3 .8 .8 .8-.8 .8 .2 .8-.3 .8-.1 .8 .1 .8 0 .8 .4 .8 .2 .8-.5 .8 .6 .8-1 .8 .4 .8 .1 .8 0 .8 .1 .8 .4 .3-.6 .4-.3 .4 .5 .5 .1 .4-.5 .4 0 .4 .2 .4-.3 .5-.1 .4 .4 .4 .1 .4-.1 .4 .2 .5 .1 .4-.1 .4 .4 .4 .6 .4 0 .5 0 .4 .1 .4-1.9 .4-2.8 .4 .3 .5 2.4 .4 .7 .4 .9 .4-.4 .4-5.1 .5-3 .4 5.2 .4 6.9 .4 1.2 .4-2.9 .5-1.3 .4-.7 .4-2.6 .4-3.1 .4-.5 .5 2.6 .4 3 .4 3.7 .4 3.3 .4 2.3 .5-.9 .4-3.6 .4-4.5 .4-3.1 .4-2.7 .5 .5 .4 9.4 .4 5.1 .4-10.1 .4-7 .5 4.5 .4 4.3 .4 1.3 .4 .1 .4 1.8 .5 2.2 .4-2.3 .4-2.9 .4-1.3 .4 .9 .5 .3 .4-1.4 .4-.6 .4 2 .4 2.2 .5-.7 .4-3.7 .4-3.6 .4-.8 .4 2.5 .5 3.5 .4 1.8 .4-.5 .4-.8 .4 .1 .5-.3 .4-1.8 .4-1.7 .4-.2 .4 .8 .5 1.4 .1 .7 .8 2.9 .8-3.2 .8-2.9 .8 4.6 .8-.2 .8-3 .8 1 .8 .4 .8-.1 .8 .7 .8 0 .8-.7 .8-1.4 .8 2.2 .8 1.5 .8-2.4 .8-.7 .8 0 .8 1.4 .8 1.2 .8-2.1 .8-.6 .8 1.1 .8 .2 .8-1.5 .8 2.8 .8-.5 .8-2.4 .8 2.2 .8 .7 .8-3.9 .8 2.2 .8 1.1 .8-1.4 .8 1.3 .8-1.3 .8-1 .8 2.7 .8-.6 .8-.2 .8-.3 .8-.8 .8 .6 .8 .3 .8-.1 .8-1.1 .8 2 .8-.6 .8-.9 .8-.6 .8 1.7 .8-.1 .8-.3 .8-.5 .8 2.2 .8-2.9 .8-.5 .8 2 .8-1.2 .8 1.2 .8 .2 .8-.9 .8-.2 .8 0 .8 .8 .8 .5 .8-.6 .8-1.3 .8-.1 .8 2.8 .8-2 .8-.5 .8 1 .8-.6 .8 .4 .8 1.3 .8-1.9 .8 .6 .8 .3 .8 0 .8-.8 .8 0 .8 1.3 .8-.7 .8-.8 .8-.4 .8 1.6 .8 .7 .8-.7 .8-.4 .8-1.1 .8 .5 .8 .6 .8 .4 .8 .3 .8-1.2 .8-1.2 .8 2.4 .8-.3 .8-1.4 .8 1.6 .8-.8 .8 .2 .8 .3 .8-.4 .8-.3 .8 .1 .8 0 .8 .6 .8-.5 .8-.2 .8 .3 .8 .4 .8-.5 .8 .3 .8 0 .8 .1 .8-.6 .8-.1 .8-.3 .8 1.2 .8-.6 .8 .3 .8 .4 .8-1.3 .8 1 .8-.3 .8-.6 .8 .4 .8 1.6 .8-1.1 .8-1.5 .8 .7 .8 .8 .8 0 .8 .3 .8-1 .8-.5 .8 1.4 .8-.4 .8 .2 .8 .6 .8-1.9 .8 .4 .8 .9 .8-.1 .8-.7 .8 .7 .8-.1 .8 .2 .8-.1 .8-.1 .8-.2 .8-.1 .8 .1 .8-.1 .8 0 .8 .8 .8-.5 .8-.6 .8 .6 .8 .5 .8-.6 .8-.1 .8-.5 .8 .3 .8 1.7 .8-1.9 .8 .3 .8-.2 .8 .8 .8-.8 .8 .8 .8-.5 .8 .1 .8-.3 .8 .9 .8-.7 .8-.1 .8 .6 .8-.6 .8-.2 .8 .1 .8 .3 .8 0 .8 1.2 .8-1.1 .8-.5 .8 .5 .8-.6 .8 0 .8 1.4 .8-1.6 .8 1 .8-.2 .8 .5 .8-1.1 .8 .3 .8 .1 .8 .3 .8 .4 .8-.6 .8-.9 .8 1 .8 .7 .8-1 .8 .1 .8-.5 .8 .7 .8 .2 .8-.1 .8-.4 .8 .6 .8 .4 .8-1.5 .8 .2 .8 .2 .8 .1 .8 .7 .8-.5 .8 .5 .8-.6 .8-.1 .8-.1 .8 .5 .8-.1 .8 .2 .8-.6 .8 .3 .8 .1 .8-.6 .8 .5 .8 .2 .8-.4 .8 .7 .8-.6 .8 .3 .8-.1 .8-.5 .8 .3 .8 .4 .8-.6 .8 .3 .8-.3 .8 .1 .8 1 .8-.9 .8 .2 .8-.5 .8 .9 .8-1 .8 .8 .8-.4 .8-.1 .8 .9 .8-1.4 .8 .2 .8 .8 .8-.2 .8 .7 .8-.7 .8-.7 .8 .5 .8 .2 .8 .4 .8-.7 .8-.5 .8 .7 .8 0 .8 .6 .8-.6 .8-.2 .8 .3 .8-.7 .8 1.2 .8-.1 .8-.5 .8-.1 .8-.6 .8 .7 .8 0 .8 .1 .8 0 .8 .5 .8-.7 .8-.6 .8 1.1 .8-.5 .8 .3 .8-.2 .8-.2 .8-.1 .8 1.4 .8-2 .8 .6 .8 .4 .8 .1 .8 .1 .8-.3 .8-.4 .8 1.1 .8-.1 .8-1.5 .8 .5 .8 .1 .8 .6 .8-.1 .8 0 .8 0 .8-.3 .8-.1 .8 .7 .8-1.2 .8 .9 .8-.7 .8 1 .8-.4 .8 .4 .8-.9 .8 .3 .8-.2 .8-.1 .8 .7 .8 0 .8-.3 .8 .4 .8 .2 .8-1.3 .8 .7 .8-.6 .8 .6 .8 .1 .8 .4 .8-.1 .8-.7 .8 .1 .8-.1 .8 .2 .8 .7 .8-.9 .8 .5 .8-.4 .8 .1 .8 .3 .8 .2 .8-1 .8 .6 .8 0 .8-.4 .8 .4 .8 .4 .8 .1 .8-.4 .8-.7 .8 .4 .8 .7 .8-.7 .8 .1 .8 .3 .8-.5 .8 .6 .8-.4 .8-.1 .8 .5 .8-.5 .8 .7 .8-.3 .8-.4 .8-.7 .8 1.4 .8-.8 .8 .9 .8-.5 .8-.6 .8 .2 .8 .7 .8-.3 .8-.5 .8 .4 .8 .3 .8 .3 .8-.8 .8-.3 .8 .2 .8 .4 .8-.2 .8-.2 .8 .6 .8 .2 .8-.7 .8 .8 .8-.9 .8-.2 .8 .7 .8-.1 .8-.6 .8 .7 .8-.4 .8 .4 .8 .1 .8-.6 .8 .3 .8-.2 .8 .3 .8-.1 .8 .7 .8-.6 .8-.7 .8 .4 .8-.3 .8 .5 .8-.1 .8 .7 .8-.6 .8 .3 .8-.1 .8-.2 .8-.2" fill="none" stroke="#141414" stroke-width="1.5" stroke-linejoin="round"/>
<path d="M121.9 300.4l.8 1.5 .8-.7 .8 0 .8 .2 .8-.7 .8 .3 .8-.2 .8 .4 .8-.1 .8 .4 .8-.2 .8-.2 .8 .1 .8-.4 .8 .2 .8-.1 .8 .3 .8-.1 .8 0 .8 .2 .8-.1 .8 .2 .8-.2 .8-.3 .8 0 .8 .2 .8-.2 .8 .1 .8 .1 .8 .1 .8 .2 .8-.2 .8-.2 .8-.1 .8 .6 .8-.3 .8-.1 .8-.2 .8-.2 .8 .4 .8-.2 .8 .3 .8-.3 .8 .8 .8-.2 .8-.7 .8 .7 .8-1.1 .8 .7 .8 .2 .8-.8 .8 .6 .8 .2 .8-.1 .8 .2 .8 .1 .8-.9 .8 .9 .8-.4 .8-.7 .8 1 .8-.8 .8 .8 .8-.1 .8-.4 .8 .3 .8-.3 .8 .6 .8-.5 .8 .2 .8 .2 .8-.5 .8 .3 .8-.3 .8-.2 .8 .3 .8 .2 .8-.2 .8 .6 .8-.3 .8-.3 .8 .4 .8-.6 .8 .3 .8-.1 .8-.3 .8 .5 .8-.2 .8 .2 .8 .1 .8-.4 .8 .5 .8-.1 .8-.5 .8 .6 .8-.6 .8 .4 .8 .3 .8-.9 .8 .4 .8 0 .8 .1 .8 .1 .8 .2 .8-.3 .8 .3 .8 .2 .8-1.1 .8 .5 .8-.2 .8 .1 .8 .5 .8-.4 .8 .2 .8 0 .8 .5 .8-.9 .8 .2 .8 .1 .8-.4 .8 .8 .8-.7 .8 .2 .8 .1 .8 .3 .8-.3 .8-.3 .8 .6 .8-.8 .8 .9 .8-.4 .8-.4 .8 .8 .8-.5 .8 .1 .8-.1 .8 0 .8-.1 .8 .6 .8-.4 .8-.1 .8 .3 .8-.5 .8 .4 .8-.2 .8 .3 .8 0 .8-.2 .8 .2 .8-.4 .8 0 .8 .1 .8-.2 .8 .4 .8 .4 .8-.7 .8 .7 .8-.5 .8-.1 .8 .4 .8-1 .8 .6 .8-.2 .8 .3 .8 .2 .8-.2 .8 .5 .8-.2 .8-.1 .8-.4 .8-.1 .8-.3 .8 .9 .8-.4 .8-.3 .8 1 .8-1.1 .8 1.1 .8-.3 .8-.8 .8 1.1 .8-.5 .8-.3 .8 0 .8-.2 .8 0 .8 .6 .8 0 .8-.4 .8 .8 .8-.3 .8-.2 .8 .1 .8-.6 .8 .1 .8 .2 .8-.1 .8-.3 .8 .7 .8 .1 .8-.1 .8 .5 .8-.9 .8 0 .8 .2 .8-.5 .8 .4 .8 .2 .8-.1 .8 .1 .8 0 .8-.3 .8 .2 .8 .1 .8-.1 .8 .2 .8-.2 .8-.2 .8 .1 .8-.1 .8 .2 .8 .3 .8-.6 .8 .5 .8-.2 .8-.2 .8 .8 .8-1.1 .8 .6 .8 .2 .8-.7 .8 .3 .8 .2 .8-.2 .8 .4 .8 .3 .8-1.5 .8 1.2 .8-.5 .8-.2 .8 1.1 .8-1.1 .8 .9 .8-.3 .8-.2 .8-.5 .8 .2 .8 .5 .8-.5 .8 .9 .8-.9 .8 .3 .8 .4 .8-.3 .8-.3 .8 .2 .8 .1 .8-.6 .8 .9 .8-1.1 .8 .7 .3 .3 .4 .3 .4-.2 .5-.6 .4 0 .4 .5 .4 0 .4-.5 .5-.2 .4 .2 .4 .2 .4 .4 .4 0 .5-.6 .4-.2 .4 .7 .4 .8 .4 .6 .5-.3 .4-2.2 .4-3.2 .4-1.1 .4 3.3 .5 5 .4 1.7 .4-3.3 .4-6.8 .4-4.2 .5 2.3 .4 6.2 .4 4.1 .4 2.2 .4 1.2 .5 .2 .4-1.4 .4-4.6 .4-5.5 .4-2.7 .5 .7 .4 2 .4 3 .4 4.3 .4 5.6 .5 .8 .4-6.3 .4-8.5 .4 .5 .4 5.2 .5 1.9 .4 2.7 .4-.9 .4-6 .4-4.2 .5 2 .4 2.7 .4 3.1 .4 2.5 .4 2.4 .5-1.3 .4 .2 .4 .1 .4-2.6 .4-3.7 .5-2.7 .4 .5 .4 3.2 .4 3.2 .4 1 .5-1.1 .4-2.3 .4-3 .4-2 .4 .5 .5 2.3 .4 2.9 .4 2.5 .4 .7 .4-2 .5-3 .4-2.1 .4-.4 .4 1 .4 2.1 .5 1.5 .1 .2 .8-1.1 .8-1.3 .8 .7 .8-1.1 .8-.1 .8 1.6 .8 1.6 .8-2 .8-1.2 .8 1.8 .8-1.1 .8-.4 .8 1 .8 1 .8-1.6 .8-.6 .8 1 .8-.6 .8 1.5 .8 .5 .8-1.2 .8-2 .8 1.3 .8 1.8 .8-1.2 .8-.1 .8-1.4 .8 1.5 .8 1.5 .8-2.6 .8 0 .8 2.5 .8-1.1 .8-.4 .8 .7 .8-2.5 .8 1.2 .8 1 .8-.2 .8 .7 .8-.9 .8-.8 .8 .9 .8 .3 .8-.8 .8 .7 .8-.3 .8 .3 .8-.9 .8-.2 .8 1.5 .8-.5 .8 1 .8-1.3 .8-1.4 .8 .6 .8 2 .8-.1 .8-1.9 .8 1.2 .8-.1 .8-.1 .8-.7 .8 0 .8 1.6 .8-.4 .8-1.1 .8 0 .8 .7 .8-.9 .8 1.2 .8 .5 .8-1.5 .8 .7 .8-.3 .8-.1 .8 .3 .8-.5 .8 .9 .8-.6 .8-1.1 .8 1.8 .8 .2 .8-1.2 .8 1.2 .8-.2 .8-1.8 .8 .9 .8 .5 .8-.4 .8 .5 .8-1.3 .8 1.3 .8 1.4 .8-1.9 .8-.1 .8 .4 .8-.8 .8 .8 .8 .7 .8-1.4 .8 .3 .8 0 .8 .2 .8 .9 .8-.7 .8 .3 .8-.3 .8-1.1 .8 1.4 .8 .3 .8-1.6 .8 1 .8-.2 .8-.5 .8 1.2 .8-.7 .8 .4 .8 .6 .8-.8 .8-1.1 .8 1.1 .8-.3 .8-.4 .8 2 .8-2 .8 0 .8 .9 .8-.2 .8 .7 .8 .1 .8-2.2 .8-.4 .8 3.2 .8-1.2 .8 .4 .8-1.2 .8-1.2 .8 2.8 .8-.7 .8-.3 .8-.2 .8-.5 .8 .7 .8 .9 .8-1.4 .8 .1 .8 .8 .8-1.4 .8 1 .8 .1 .8 0 .8 .1 .8-.8 .8 .3 .8 .8 .8-.2 .8-.8 .8 .3 .8-.4 .8 .5 .8 .7 .8-.1 .8-1.3 .8-.1 .8 1 .8 .1 .8 .5 .8-1.1 .8 0 .8 .2 .8 .2 .8 .5 .8-1.2 .8 .3 .8 .3 .8 .3 .8-.4 .8 .3 .8 .1 .8-.4 .8 .3 .8-.9 .8 .7 .8 .5 .8-.7 .8 .2 .8 .1 .8-.4 .8 .3 .8 .5 .8-.7 .8-.3 .8 .7 .8-.3 .8 .8 .8-.2 .8-1.5 .8 .9 .8 .5 .8-.3 .8-.7 .8 .4 .8 .4 .8 0 .8 .9 .8-1.8 .8 .2 .8 1 .8-.6 .8 0 .8 0 .8-.1 .8 .4 .8 0 .8-1.4 .8 2 .8 .2 .8-1.4 .8 .6 .8-.8 .8 .6 .8 .5 .8-.6 .8-.2 .8-.2 .8 0 .8 1.4 .8-.5 .8-.8 .8 1.1 .8-.5 .8-.2 .8-.8 .8 .4 .8 .2 .8 .3 .8 .5 .8-.8 .8 .4 .8-.2 .8 .8 .8-.8 .8-.7 .8 .6 .8 .3 .8-.2 .8-1.1 .8 1.7 .8-.6 .8 .4 .8-.2 .8-.6 .8 1.2 .8-1.4 .8 .8 .8 0 .8-.8 .8 .6 .8 .4 .8-.8 .8 0 .8 1.1 .8-1 .8 1.2 .8-.4 .8-1.3 .8 .4 .8-.2 .8 .6 .8 1 .8-.9 .8-1.1 .8 1.3 .8 .1 .8-.4 .8 0 .8-.3 .8 .1 .8 .4 .8-.2 .8-.1 .8 .5 .8-.3 .8 .1 .8-.6 .8 .1 .8 .3 .8-.1 .8 .6 .8-.6 .8 0 .8 .4 .8-.3 .8 .1 .8-.1 .8-.1 .8-.1 .8 .2 .8 .1 .8-.2 .8 .1 .8 0 .8-.1 .8 .3 .8 0 .8 .1 .8-.1 .8-.6 .8-.4 .8 1.2 .8-.3 .8-.7 .8 1.2 .8-.9 .8 1 .8-.3 .8-.9 .8 1 .8-1.1 .8 .3 .8 .3 .8-.2 .8 0 .8 .7 .8-.5 .8-.1 .8 1 .8-1.1 .8 0 .8-.5 .8 .7 .8 .5 .8-.5 .8 0 .8-.7 .8 1 .8-.3 .8 .1 .8 .5 .8-.6 .8-.3 .8 .5 .8-.4 .8-.2 .8 .9 .8-.9 .8 .4 .8 0 .8 0 .8 .4 .8-.1 .8 0 .8-.8 .8 .4 .8 0 .8 .4 .8-.8 .8 .2 .8 .6 .8-.1 .8 .5 .8-1.5 .8 .4 .8 .6 .8 .2 .8 0 .8-.6 .8-.1 .8-.2 .8 1.1 .8-1.1 .8 .4 .8 .7 .8-1 .8 .9 .8-.1 .8-.5 .8-.2 .8 .4 .8-.1 .8-.3 .8 .3 .8-.4 .8 .7 .8 .1 .8-.6 .8 .6 .8-.2 .8-.6 .8 .4 .8-.1 .8-.4 .8 1.1 .8-.2 .8-1.1 .8 .9 .8-.4 .8 .1 .8 .8 .8-1.2 .8 .9 .8 0 .8-1.4 .8 1.2 .8 0 .8-.5 .8 .7 .8-.3 .8-.4 .8 .4 .8-.1 .8 .3 .8-.3 .8-.3 .8 .2 .8 .2 .8 .2" fill="none" stroke="#141414" stroke-width="1.5" stroke-linejoin="round"/>
<path d="M121.9 327.9l.8 .1 .8 .2 .8 .5 .8-.9 .8 .9 .8-.5 .8 .1 .8 .1 .8-.4 .8 .2 .8-.4 .8 .5 .8-.6 .8 .5 .8 .4 .8-.5 .8 .4 .8-.4 .8-.1 .8 .3 .8 .3 .8-.7 .8 .4 .8-.5 .8 0 .8 .8 .8-.6 .8 .3 .8-.2 .8 0 .8 .2 .8 .1 .8-.1 .8 .1 .8-.4 .8 .3 .8-.6 .8 .3 .8 .4 .8-.5 .8 .8 .8-.7 .8 .1 .8 .4 .8-.4 .8 .7 .8-1 .8 .3 .8-.2 .8 .3 .8 .1 .8 0 .8-.2 .8 0 .8 .1 .8 .1 .8 0 .8 .1 .8-.3 .8 .2 .8-.1 .8-.2 .8 .1 .8 .2 .8-.3 .8 .2 .8 0 .8-.2 .8 .5 .8 .1 .8-.6 .8 .6 .8-.9 .8 .4 .8 .1 .8-.3 .8 .3 .8-.1 .8 .3 .8-.1 .8 .1 .8-.1 .8-.2 .8 .1 .8 .2 .8-.8 .8 .6 .8 0 .8-.4 .8 1.3 .8-1.2 .8 .3 .8 .2 .8-.6 .8 .7 .8-.4 .8 0 .8-.1 .8 .4 .8-.4 .8 .4 .8-.2 .8 .2 .8-.2 .8 0 .8-.2 .8 0 .8 .4 .8-.2 .8 0 .8-.1 .8-.1 .8 .2 .8 .4 .8-.1 .8-.4 .8 .2 .8-.6 .8 .8 .8-.6 .8 .4 .8-.5 .8 .3 .8 .2 .8-.2 .8 .7 .8-.6 .8 .6 .8-.7 .8-.3 .8 .4 .8-.8 .8 1.2 .8-.6 .8 0 .8 .3 .8-.1 .8 .3 .8 .5 .8-.9 .8 0 .8 0 .8-.5 .8 .8 .8-.4 .8 .1 .8 0 .8 .1 .8 .2 .8 0 .8 .1 .8 0 .8-.4 .8 .2 .8-.3 .8-.3 .8 .8 .8-.5 .8 0 .8 .5 .8-.8 .8 .9 .8 .1 .8-.4 .8 .1 .8-.1 .8-.6 .8 .7 .8-.5 .8 .1 .8-.1 .8 .3 .8 0 .8 .2 .8 .2 .8-.4 .8 .3 .8-.1 .8-.5 .8 .3 .8-.4 .8 .4 .8-.1 .8 .1 .8-.1 .8 0 .8 .3 .8 0 .8-.3 .8 .5 .8-.8 .8 .7 .8-.3 .8-.4 .8 .5 .8-.5 .8 .5 .8-.1 .8-.2 .8 .2 .8 .3 .8-.1 .8 .2 .8-.3 .8-.8 .8 1.1 .8-1 .8 .8 .8-.1 .8-.8 .8 1.2 .8-.7 .8 .6 .8-.1 .8-.2 .8-.1 .8 0 .8-.3 .8 .3 .8-.2 .8 .3 .8 0 .8-.4 .8 .6 .8-.6 .8 .6 .8 .2 .8-.8 .8 .4 .8-.4 .8 .3 .8 .1 .8 .3 .8-1 .8 .7 .8-.3 .8 .1 .8 .5 .8-.3 .8-.2 .8 .3 .8-.2 .8-.2 .8 .5 .8-.4 .8 .1 .8 .1 .8-.5 .8 .5 .8-.1 .8 .3 .8-.3 .8 0 .8-.3 .8 .3 .8 .1 .8 .2 .8-.3 .8-.2 .8 .5 .8-.8 .3 .3 .4 .5 .4 0 .5-.3 .4-.5 .4 0 .4 .6 .4 .3 .5-.4 .4-.5 .4 .3 .4 .6 .4 .1 .5-.3 .4-.4 .4 .1 .4 1.1 .4 1.5 .5 .9 .4-1.8 .4-5.1 .4-3.8 .4 4.2 .5 7.2 .4 .7 .4-5.7 .4-5.4 .4-2.4 .5 1.8 .4 4.4 .4 4.4 .4 3.1 .4 2.5 .5 1.4 .4-2.7 .4-7.2 .4-6.2 .4-.6 .5 3.6 .4 3.2 .4 3.3 .4 3.5 .4 4 .5 0 .4-5.6 .4-8.2 .4-4.1 .4 3 .5 7 .4 5.3 .4-1.9 .4-8 .4-4.1 .5 3.5 .4 3.8 .4 4.3 .4 2.2 .4 2 .5-2.7 .4-1.6 .4-.9 .4-.6 .4-.5 .5-1.3 .4-1.6 .4-.7 .4 .1 .4-.7 .5-1.1 .4-.2 .4 1.1 .4 2.3 .4 2.5 .5 .9 .4-1.4 .4-2.3 .4-1.4 .4-.6 .5-.3 .4-.1 .4 .6 .4 1.3 .4 1.6 .5 .8 .1 0 .8-1.7 .8-2.1 .8 2.3 .8-.2 .8-.8 .8-.3 .8-1.5 .8 3.1 .8 1.9 .8-2.6 .8-2 .8-.3 .8 1.9 .8 2.5 .8-.9 .8-3.4 .8 .3 .8 1.5 .8 2.1 .8-1.1 .8-1.6 .8-1.1 .8 1.7 .8 2.3 .8-2.1 .8-.8 .8-.5 .8 .8 .8 1.7 .8-.8 .8-1.3 .8 1.2 .8 .6 .8-1.3 .8-.2 .8-1.4 .8 2.1 .8 1.9 .8-1.9 .8-.8 .8-.9 .8 1.4 .8 1.3 .8-.6 .8-.9 .8 .4 .8 .2 .8-.6 .8-.8 .8 .7 .8 1 .8 .7 .8-1.6 .8-1.2 .8 1.6 .8 .8 .8 0 .8-1.2 .8-.8 .8 1.6 .8 .4 .8-1 .8-1.7 .8 1.4 .8 1.1 .8 .5 .8-.9 .8-1.4 .8 .9 .8 1.5 .8-1.1 .8-.8 .8 .2 .8-.1 .8 1 .8-.3 .8-1.4 .8 1.7 .8 .1 .8-.9 .8 .4 .8-.4 .8 .8 .8 .6 .8-1.9 .8-.2 .8 .7 .8 1 .8-.1 .8-1 .8-.4 .8 .4 .8 1.3 .8 0 .8-1 .8-.1 .8 .1 .8-.2 .8 1.2 .8-1.4 .8-.3 .8 .5 .8-.3 .8 1.7 .8-.2 .8-.7 .8-.6 .8 0 .8 .6 .8 .2 .8-.1 .8-1.4 .8 .9 .8-.2 .8 .7 .8-.1 .8-.4 .8 .3 .8 .6 .8-.2 .8-.7 .8-.3 .8-.3 .8 1 .8 .6 .8-.9 .8-.3 .8-.4 .8 .8 .8 1 .8-.3 .8-1.3 .8 .5 .8 0 .8 1 .8-1.1 .8-.6 .8-.3 .8 1.2 .8 1.5 .8-1.7 .8 .1 .8-.7 .8 .4 .8 1.6 .8-1.3 .8-.4 .8 .3 .8-.3 .8 .1 .8 .8 .8-.8 .8 .8 .8-.2 .8-.8 .8 .6 .8 .1 .8 .2 .8-.9 .8 0 .8 .2 .8 1 .8 .2 .8-1.2 .8-.5 .8 .7 .8 .4 .8 .2 .8-.5 .8-.8 .8 .8 .8 .6 .8-.7 .8 0 .8-.2 .8 .6 .8 .2 .8-.6 .8-.5 .8 .4 .8 .4 .8 .2 .8-.6 .8 .1 .8-.2 .8 .9 .8-.6 .8-.3 .8 .5 .8-.4 .8 .8 .8-.8 .8-.5 .8 1 .8-.3 .8 .4 .8-.6 .8-.3 .8 .6 .8 .8 .8-.6 .8-.5 .8-.6 .8 .5 .8 .4 .8 .4 .8-.5 .8-.3 .8 .4 .8-.1 .8 0 .8 .1 .8 0 .8-.1 .8 .6 .8-1.3 .8 .1 .8 .7 .8-.4 .8 1.5 .8-1 .8-.7 .8 0 .8 .1 .8 .9 .8 0 .8 0 .8-1.3 .8 .6 .8 .3 .8 .2 .8-.2 .8-.3 .8-.5 .8 .9 .8 .3 .8-.7 .8 .5 .8-.6 .8 .4 .8 .2 .8-.5 .8 .3 .8-.5 .8 .7 .8-.7 .8 .5 .8-.3 .8 .3 .8 .1 .8 0 .8-.3 .8 .1 .8-.2 .8 .1 .8 .5 .8-.4 .8-.1 .8-.1 .8-.2 .8 .6 .8-.3 .8 .1 .8 .2 .8 .1 .8 0 .8-.2 .8-1 .8 1.1 .8 0 .8 .1 .8-.4 .8-.8 .8 1 .8 .1 .8 .6 .8-.8 .8-.4 .8 .6 .8-.4 .8 .6 .8-.4 .8-.4 .8 .6 .8-.4 .8 0 .8 .3 .8 0 .8 0 .8 0 .8-.3 .8 .2 .8 .3 .8 0 .8-.3 .8 .2 .8-.5 .8-.1 .8-.2 .8 .7 .8-.1 .8 .8 .8-.8 .8-.4 .8 .8 .8-.4 .8 .3 .8-.2 .8-.5 .8 .2 .8-.1 .8 0 .8 .1 .8 .6 .8 0 .8 .1 .8-.7 .8 .4 .8-.6 .8 .7 .8-.3 .8-.4 .8 .6 .8-.8 .8 .5 .8 0 .8 .3 .8 .4 .8-.4 .8-.1 .8-.2 .8 .3 .8-.1 .8-.3 .8-.4 .8 .3 .8 0 .8 .7 .8-.2 .8-.1 .8 .2 .8-.2 .8 .3 .8-.6 .8 .4 .8-.6 .8 .2 .8-.3 .8 .2 .8 .3 .8 .5 .8 .1 .8-.7 .8 .4 .8-.9 .8 .7 .8 .3 .8-.8 .8 .7 .8-1.1 .8 .9 .8-.1 .8 .3 .8-.1 .8-.5 .8 .5 .8 .1 .8-.4 .8 .2 .8-.5 .8 .2 .8 .7 .8-.7 .8-.1 .8 .3 .8-.1 .8 .7 .8-.5 .8-.3 .8-.1 .8 .4 .8 0 .8 .1 .8-.4 .8-.1 .8 0 .8 .5 .8 0 .8 0 .8 .1 .8-.6 .8 0 .8 .2 .8 .1 .8 .2 .8 .1 .8-.4 .8 0 .8 .1 .8 0 .8 .2 .8-.1 .8-.1 .8-.5 .8 .5 .8-.1 .8 .3 .8 .3 .8-1 .8 .6 .8-.2 .8 .3 .8 .1 .8-.6 .8 0 .8 .4 .8-.2 .8 .8" fill="none" stroke="#141414" stroke-width="1.5" stroke-linejoin="round"/>
<path d="M121.9 354.9l.8 1 .8-.8 .8-.2 .8 .3 .8-.3 .8 .8 .8-.5 .8 .5 .8-.4 .8 0 .8 .5 .8-1 .8 .8 .8-.7 .8 .1 .8 .6 .8-.9 .8 1.2 .8-.8 .8 .8 .8-.6 .8-.2 .8 .2 .8-.4 .8 .7 .8-.6 .8 .4 .8-.1 .8-.1 .8 .6 .8-.9 .8 .7 .8-.6 .8 .3 .8 0 .8-.2 .8 .3 .8 .1 .8 .2 .8-.5 .8 .1 .8-.5 .8 .6 .8 0 .8-.1 .8-.1 .8 .1 .8-.1 .8 .5 .8-.1 .8-.4 .8 .1 .8-.3 .8 .2 .8 .2 .8-.3 .8 .2 .8 0 .8 0 .8 0 .8 .5 .8-.6 .8 .5 .8-.5 .8-.4 .8 .5 .8-.4 .8 .5 .8-.3 .8 .4 .8-.5 .8 1 .8-.5 .8-.2 .8 .4 .8-1.2 .8 .9 .8-.5 .8 .1 .8 .4 .8-.2 .8 .6 .8-.5 .8 .6 .8-1.2 .8 1 .8-.5 .8-.3 .8 .6 .8-.9 .8 .8 .8 .2 .8-.1 .8-.1 .8-.1 .8-.2 .8 .3 .8 .1 .8-.3 .8 .1 .8 0 .8-.3 .8 .3 .8 .1 .8-.2 .8 .5 .8-.5 .8-.2 .8 .7 .8-.7 .8 .9 .8-.8 .8 .1 .8-.2 .8 .3 .8 .3 .8-.4 .8 .4 .8-.8 .8 .7 .8-.1 .8-.2 .8 .5 .8-.7 .8 .5 .8-.1 .8-.2 .8 .1 .8-.2 .8 .2 .8-.1 .8 .1 .8 0 .8 .2 .8 .1 .8 0 .8-.4 .8 .1 .8-.6 .8 .7 .8-.5 .8 .3 .8 .2 .8-.3 .8 .8 .8-.6 .8 .3 .8-.1 .8-.5 .8 .4 .8-.7 .8 .5 .8 0 .8 .3 .8 .1 .8-.6 .8 .7 .8-.7 .8 .9 .8-.4 .8-.6 .8 .6 .8-.9 .8 .8 .8 .1 .8-.6 .8 .8 .8-.9 .8 1 .8-.6 .8 .5 .8-.4 .8-.3 .8 .7 .8-1.3 .8 1.2 .8-.5 .8 0 .8 .9 .8-1.3 .8 1 .8-.4 .8 .1 .8 .1 .8-.5 .8 .4 .8-.6 .8 1 .8-.7 .8 .2 .8 .3 .8-.8 .8 .9 .8-.5 .8-.3 .8 1.1 .8-1.1 .8 .9 .8-.7 .8 0 .8 .1 .8-.1 .8 .6 .8-1 .8 1 .8-.7 .8 .5 .8 .7 .8-1.5 .8 1.3 .8-1.4 .8 .6 .8 .2 .8-.4 .8 .6 .8-.7 .8 .9 .8-.9 .8 .9 .8-.5 .8 0 .8 .4 .8-1 .8 .6 .8 0 .8-.1 .8 .3 .8-.5 .8 .1 .8 .2 .8 .3 .8-.1 .8 .1 .8-.5 .8 .2 .8-.1 .8 .1 .8-.3 .8 .3 .8-.1 .8 .1 .8 .4 .8-.6 .8 .7 .8-.6 .8 .3 .8-.3 .8-.2 .8 .2 .8 0 .8 .3 .8-.2 .8 0 .8-.1 .8 .2 .8 .1 .8-.2 .8 .2 .8-.4 .8 .4 .8-.5 .3 .6 .4 0 .4-.9 .5 .2 .4 .9 .4-.3 .4-.5 .4 .1 .5 .1 .4 0 .4 .3 .4-.2 .4-.4 .5 .4 .4 .8 .4 0 .4 .6 .4 1.6 .5 .8 .4-2.2 .4-5.6 .4-4.7 .4 2.9 .5 8.1 .4 4.7 .4-3 .4-8.3 .4-5.7 .5 2.1 .4 6.2 .4 5.6 .4 3.3 .4 1.2 .5-.2 .4-2.6 .4-5.4 .4-5.4 .4-2 .5 1.7 .4 2.4 .4 4.9 .4 5.6 .4 3.2 .5-3.3 .4-6.8 .4-5.8 .4-1.6 .4 2.1 .5 5.4 .4 7.5 .4 .4 .4-8.6 .4-7.4 .5 .7 .4 3.8 .4 5.6 .4 3.4 .4 1.6 .5-3.7 .4-1 .4 .3 .4-.7 .4-1.6 .5-2.6 .4-1 .4 2.1 .4 2.6 .4 .4 .5-1.3 .4-1.5 .4-.9 .4 .4 .4 .7 .5-.5 .4-.8 .4 .2 .4 1.3 .4 1.9 .5 1.2 .4-1 .4-2.8 .4-1.8 .4 .2 .5 1.4 .1 .6 .8 2.4 .8-2.2 .8-.6 .8 0 .8 0 .8 2.8 .8-1.1 .8-3.6 .8 2.7 .8 .5 .8-.4 .8 0 .8-.9 .8 1.3 .8-.1 .8-.9 .8-.3 .8 .4 .8 1 .8-.5 .8-.1 .8-.3 .8 0 .8 .2 .8-1.1 .8 1.8 .8 .5 .8-1.3 .8 .6 .8-1.5 .8-.2 .8 1.8 .8-.7 .8 .9 .8-.2 .8-1.1 .8-.4 .8 .9 .8 .9 .8-.5 .8-.8 .8 0 .8 .3 .8 .7 .8-1.2 .8 .1 .8 1.2 .8-.3 .8 .3 .8-2 .8 .9 .8 1.8 .8-1.6 .8-.6 .8 .1 .8 1.2 .8 .3 .8-.6 .8-1.4 .8 .5 .8 2.6 .8-2 .8-.4 .8-.1 .8 1.2 .8-.1 .8-1 .8-.5 .8 .3 .8 2.7 .8-1.3 .8-1.5 .8 .5 .8-.1 .8 1 .8-.9 .8 .2 .8 0 .8 .3 .8 .6 .8-1.6 .8 .6 .8 .7 .8-.5 .8 .6 .8-1 .8-.2 .8 .6 .8-.1 .8 1.3 .8-2 .8 .9 .8-.1 .8 .2 .8 .6 .8-1.9 .8 .4 .8 .3 .8 2 .8-.8 .8-1.9 .8 .8 .8-.6 .8 2 .8-.4 .8-1.1 .8-.2 .8 .7 .8 .1 .8-.5 .8 1 .8-1.2 .8 .8 .8-.4 .8-.3 .8 .9 .8-.2 .8-.7 .8-.1 .8 .2 .8 .7 .8 .3 .8-.8 .8-.4 .8 .7 .8-.1 .8-.2 .8 0 .8-.1 .8 .2 .8 .8 .8-1.9 .8 1 .8 .7 .8-.2 .8 .5 .8-1.7 .8-.1 .8 .6 .8 .7 .8-.3 .8-.3 .8 .4 .8 0 .8 .2 .8-.4 .8-.5 .8 .6 .8-.2 .8 0 .8 .1 .8-.5 .8 1 .8-.4 .8-.8 .8 1.4 .8-.7 .8 .6 .8-.8 .8-.6 .8 .3 .8 .8 .8 .5 .8-1.5 .8 .8 .8-.3 .8 .3 .8 .9 .8-1.3 .8 0 .8 0 .8 .4 .8 .1 .8-.4 .8 .3 .8-.8 .8 1.3 .8-.2 .8-.3 .8 0 .8-.3 .8 .3 .8-.7 .8 .4 .8 .3 .8 0 .8 1.1 .8-2 .8 .7 .8 0 .8 .4 .8 .1 .8-1.4 .8 1.2 .8-.2 .8 .7 .8-.7 .8-1 .8 1.3 .8 .1 .8 .2 .8-1.3 .8-.2 .8 1.4 .8-.5 .8 .7 .8-1 .8 .1 .8 1 .8-.9 .8-.4 .8 .2 .8 .1 .8 .7 .8-.6 .8 .2 .8-.5 .8 .9 .8-.4 .8-.2 .8 .7 .8-1.2 .8 .7 .8-.5 .8 .1 .8 .7 .8-.6 .8 .1 .8 .1 .8 .6 .8-.5 .8 .5 .8-.8 .8-.8 .8 1.2 .8-.8 .8 .9 .8 .1 .8-.6 .8-.2 .8 .9 .8-.2 .8 .1 .8-.5 .8-.5 .8 .4 .8 0 .8 0 .8-.2 .8 1 .8-.1 .8-.2 .8-.4 .8-.5 .8 1.5 .8-1.4 .8 .4 .8-.2 .8-.2 .8 1.6 .8-1.4 .8 0 .8-.1 .8 1 .8-.3 .8-.2 .8-.2 .8-.6 .8 1 .8 0 .8-.7 .8 .7 .8-.3 .8-.2 .8 .4 .8-.3 .8 .2 .8-.1 .8-.1 .8 .2 .8-.3 .8 .7 .8-.8 .8 .4 .8-.3 .8 0 .8 .4 .8-.4 .8 .7 .8-1.3 .8 1 .8-.2 .8 .4 .8 .1 .8-1 .8 .6 .8-.4 .8 .4 .8-.6 .8-.2 .8 1.2 .8-.2 .8 .4 .8-1.1 .8 .6 .8 .1 .8-.4 .8 0 .8-.7 .8 .8 .8 .4 .8-.8 .8 .2 .8 .5 .8 .2 .8 .3 .8-1.1 .8-.1 .8 .1 .8 .4 .8-.3 .8-.1 .8 .3 .8 .1 .8 .2 .8-.3 .8-.2 .8 .8 .8-.8 .8 .3 .8-.1 .8-.5 .8 .5 .8 0 .8-.4 .8 .9 .8-.4 .8-.1 .8 .4 .8-.2 .8-.5 .8 .2 .8 .1 .8-.6 .8 1 .8-.6 .8 .1 .8 .7 .8-.7 .8-.1 .8-.1 .8 .4 .8 .4 .8-.6 .8-.2 .8-.2 .8 1.1 .8-.5 .8 0 .8-.4 .8 0 .8 .9 .8-1.2 .8 .2 .8 1 .8-.5 .8 1 .8-1.5 .8-.2 .8 .4 .8 .4 .8 .2 .8-1.3 .8 1.4 .8-1.1 .8 1.1 .8 .1 .8-1.2 .8 1.5 .8-1.5 .8 .8 .8-.3 .8-.3 .8 .9 .8-1.3 .8 1.3 .8-1 .8 .9 .8-.1 .8-.2 .8 .5 .8-1.1 .8 .5 .8-.3 .8 .1 .8 .7 .8-1 .8 .5 .8-.1 .8 .2 .8 .6 .8-.7 .8 .5 .8-1 .8 .1 .8 .3 .8-.3 .8 .9 .8-.9 .8 .6 .8-.2 .8 .2 .8 .7 .8-1.8 .8 1.4 .8-1.4 .8 1.1 .8 .1" fill="none" stroke="#141414" stroke-width="1.5" stroke-linejoin="round"/>
<path d="M121.9 382.4l.8-.2 .8 0 .8-.2 .8 .7 .8-.4 .8 .9 .8-.7 .8 .1 .8-.5 .8 .2 .8-.4 .8 .6 .8-.5 .8 .8 .8-.4 .8 .1 .8 .3 .8-.6 .8 .4 .8 0 .8-.4 .8 0 .8 .2 .8-.5 .8 .6 .8 .4 .8-.9 .8 1.1 .8-1.2 .8 .7 .8-.6 .8 .8 .8-.9 .8 1.3 .8-.9 .8 .2 .8-.2 .8-.3 .8 .2 .8 .2 .8 .3 .8-.5 .8 .6 .8-.6 .8 .1 .8 .3 .8-.4 .8 .3 .8-.1 .8 .2 .8-.7 .8 .8 .8-1.1 .8 1.3 .8-.8 .8 .9 .8-.7 .8 .3 .8-.2 .8 0 .8 0 .8 0 .8-.2 .8-.1 .8 .3 .8-.3 .8 .4 .8 .3 .8-.2 .8 .4 .8-.4 .8-.6 .8 .1 .8-.1 .8-.1 .8 .8 .8-.4 .8 .5 .8-.4 .8 .5 .8-.8 .8 .6 .8-.5 .8 .3 .8-.1 .8-.1 .8-.2 .8 .1 .8 .3 .8-.2 .8 .6 .8-.4 .8-.1 .8 0 .8 .1 .8-.4 .8 .6 .8-.5 .8 0 .8 .4 .8-.6 .8 .6 .8-.5 .8 1 .8-.8 .8 .6 .8-.7 .8-.2 .8 .4 .8-.3 .8 .5 .8-.2 .8 .4 .8-.7 .8 .6 .8-.6 .8 .1 .8 .3 .8 0 .8 0 .8 .2 .8-.5 .8 .1 .8 .2 .8-.3 .8 .5 .8-.5 .8 .3 .8-.2 .8 0 .8 .4 .8-.6 .8 .7 .8-.5 .8 .3 .8-.5 .8 .3 .8-.3 .8 .4 .8 .4 .8-.7 .8 .3 .8-.2 .8-.5 .8 .9 .8-.5 .8 .5 .8-.1 .8 .2 .8-.6 .8 .1 .8-.1 .8-.2 .8 .5 .8 .2 .8-.6 .8 .8 .8-.7 .8 .2 .8 .3 .8-.2 .8-.2 .8 .3 .8-.4 .8 0 .8 .1 .8 0 .8-.1 .8 .9 .8-1 .8 .8 .8-.7 .8 .2 .8 .3 .8-.4 .8 .2 .8-.3 .8-.4 .8 .7 .8-.6 .8 .9 .8-.3 .8 .6 .8-.6 .8 .4 .8-.9 .8 0 .8 .2 .8-.3 .8 .6 .8 .1 .8-.4 .8 .6 .8-.3 .8 0 .8 0 .8 .1 .8-.5 .8 .3 .8-.2 .8-.1 .8 0 .8 .9 .8-1.2 .8 1.7 .8-1.5 .8 .5 .8 0 .8-.2 .8 .2 .8-.1 .8 .1 .8-.6 .8 .8 .8-.7 .8 .3 .8 .5 .8-.5 .8 .8 .8-.9 .8 .2 .8-.4 .8 .2 .8 .1 .8 .4 .8-.5 .8 .8 .8-1.1 .8 .8 .8-.6 .8 .2 .8 .1 .8 0 .8 .3 .8-.5 .8 .6 .8-.8 .8 .6 .8-.1 .8-.4 .8 .4 .8-.5 .8 .3 .8 .1 .8 .3 .8-.1 .8 0 .8 .1 .8-.5 .8-.1 .8 .3 .8-.8 .8 1.4 .8-.8 .8 .5 .8-.2 .8-.3 .8 .3 .8-.2 .8 .5 .8-.7 .3 .5 .4 .3 .4-.7 .5-.2 .4 .5 .4-.2 .4-.3 .4 .2 .5 .3 .4-.3 .4-.1 .4 .3 .4 .3 .5-.1 .4-.1 .4 .4 .4 1.3 .4 1.5 .5 1.2 .4-.5 .4-4.5 .4-6.7 .4-1.1 .5 7.4 .4 8.1 .4-1.1 .4-8.7 .4-6.7 .5 1 .4 6.3 .4 5.7 .4 2.3 .4 1 .5 .6 .4-2.4 .4-6.4 .4-6.6 .4-1.5 .5 4.7 .4 5.3 .4 3.6 .4 1.7 .4 1.7 .5-1.9 .4-5.8 .4-6 .4-1.7 .4 1.1 .5 4.2 .4 8.9 .4 3.6 .4-7.1 .4-7.8 .5-.5 .4 1.9 .4 4.4 .4 4.1 .4 3.2 .5-2.2 .4-4.2 .4-1.8 .4-.4 .4 .1 .5-.4 .4-.3 .4 1.3 .4 2.1 .4 .8 .5-1.4 .4-3.5 .4-3 .4 .2 .4 2.8 .5 3.2 .4 1.9 .4-.1 .4-2.1 .4-2.4 .5-1.1 .4 .3 .4 1.1 .4 1.7 .4 .8 .5-.7 .1-.4 .8-1.8 .8 .4 .8 2.6 .8-3.2 .8 1.3 .8 2.7 .8-3.4 .8-1.3 .8 2.9 .8-.2 .8-.9 .8 .6 .8-1.1 .8 .8 .8 2.4 .8-4.1 .8-.7 .8 3.7 .8 .9 .8-2.2 .8-1 .8 .9 .8 .1 .8-1.2 .8 1.7 .8 .6 .8-1.3 .8-.8 .8 1.7 .8-.3 .8-.8 .8 .3 .8 .3 .8 .1 .8 .1 .8-1.7 .8 1 .8 1.5 .8-.3 .8-2.9 .8 1.7 .8 1.7 .8-1 .8-.6 .8 .1 .8-.1 .8 .3 .8-.2 .8 .4 .8-1 .8 .4 .8-.3 .8 1.6 .8-.3 .8-1.1 .8 .3 .8 .7 .8-.8 .8-.2 .8 .2 .8 .4 .8-.5 .8-.7 .8 .3 .8 2.8 .8-.6 .8-2.2 .8-1 .8 1.3 .8 1 .8 .8 .8-1.9 .8 .5 .8-1.3 .8 .4 .8 1.4 .8 .8 .8-.7 .8-1 .8 .5 .8-.8 .8 .5 .8 .7 .8-.1 .8-.8 .8-.5 .8 .8 .8-.1 .8 2.1 .8-1.8 .8-1.1 .8 .7 .8 1.5 .8-1.7 .8 .2 .8 .1 .8-.2 .8 .3 .8 1 .8-.2 .8-1.1 .8 0 .8-.4 .8 1.3 .8-.2 .8-.2 .8 0 .8-.6 .8 .5 .8 .2 .8-.2 .8 .1 .8 .9 .8-2.3 .8 .7 .8 1.4 .8-.9 .8 0 .8 1.1 .8-1.3 .8-.1 .8 .2 .8-.1 .8 .6 .8 .4 .8-.5 .8-1 .8 .3 .8 0 .8 1.4 .8-.3 .8-.5 .8-.7 .8 .5 .8 .5 .8 .1 .8-1.1 .8-.6 .8 1.7 .8 0 .8-.2 .8-.5 .8 .3 .8-.3 .8 .8 .8-.8 .8-.1 .8 .5 .8-.6 .8 .7 .8-.8 .8 .7 .8-.3 .8 1.1 .8-1.4 .8 .3 .8-.3 .8 .4 .8 .1 .8 0 .8 .3 .8-.5 .8 .4 .8-1.2 .8 .4 .8 .6 .8 .7 .8-.3 .8-.9 .8 .3 .8-.1 .8 .5 .8-.4 .8 .7 .8-1.8 .8 1.3 .8 .3 .8-.3 .8-.4 .8 .7 .8-.9 .8 .7 .8 .2 .8-.6 .8 .2 .8 0 .8-.1 .8-.1 .8 0 .8 .5 .8-.4 .8 0 .8 0 .8 .4 .8-.5 .8 .7 .8-.4 .8-.5 .8-.1 .8 1 .8-.9 .8 .1 .8 0 .8 .8 .8-.5 .8 1 .8-1.4 .8 0 .8 .2 .8 .2 .8-.1 .8 .2 .8 .5 .8-.7 .8-.5 .8 .5 .8-.1 .8 .5 .8 .4 .8-.5 .8-.7 .8 .7 .8-.6 .8 .7 .8-.5 .8 .2 .8-.1 .8 .4 .8-1.2 .8 1.2 .8 0 .8 .2 .8 .1 .8-1.2 .8 .2 .8 .5 .8-.1 .8-.3 .8 0 .8 .6 .8-.4 .8 .8 .8-1.1 .8 .4 .8-.1 .8 .4 .8-.1 .8 0 .8-.6 .8-.1 .8 .4 .8-.2 .8 .1 .8 .9 .8-.2 .8-.5 .8-.1 .8-.1 .8 .2 .8 .4 .8-.4 .8-.6 .8-.4 .8 1.7 .8-.7 .8 .8 .8-.3 .8-1.1 .8 .5 .8 .3 .8-.1 .8-.5 .8 .3 .8-.3 .8 .9 .8-.3 .8-.3 .8 .7 .8-1.2 .8 .4 .8 .6 .8-.7 .8 .5 .8 .2 .8-1.1 .8 .5 .8 .6 .8-.2 .8-.4 .8 .7 .8-.9 .8 0 .8 .9 .8-.9 .8 .4 .8 .2 .8 .1 .8-.6 .8 0 .8 .2 .8 .8 .8-.3 .8-.7 .8-.5 .8 .5 .8 0 .8 1.2 .8-1 .8 .1 .8 .4 .8-.6 .8 .7 .8-.9 .8 .3 .8-.4 .8 .4 .8 .4 .8-.5 .8 .6 .8-.5 .8 .7 .8-1 .8 .8 .8-.7 .8 .3 .8-.5 .8 .6 .8-.2 .8 .4 .8-.7 .8 .5 .8 .1 .8 .1 .8 .1 .8-1 .8 .9 .8-.9 .8 .9 .8-.1 .8-.6 .8 .6 .8-.9 .8 1.1 .8-.4 .8 1 .8-1.5 .8 1 .8-.5 .8-.5 .8 0 .8 .7 .8-.3 .8 .4 .8-.4 .8 .3 .8-.3 .8 .1 .8-.1 .8-.2 .8 .8 .8-.4 .8 .3 .8-.7 .8-.5 .8 .9 .8-.5 .8 1.5 .8-1.1 .8-.5 .8 0 .8 1.3 .8-.6 .8-.2 .8-.2 .8 .3 .8-.6 .8 .6 .8-.7 .8 .9 .8-.3 .8 .7 .8-.5 .8-.5 .8 .9 .8-1.4 .8 .8 .8 .1 .8-.4 .8 .4 .8 .1 .8 .1 .8-1.1 .8 .9 .8-.3 .8 1 .8-.7 .8-.1 .8-.2 .8 .3 .8-.8 .8 1.2 .8-.5 .8 .1 .8-.3 .8-.2 .8 .7 .8-.1 .8 .3 .8-1.3 .8 1.3 .8-.5 .8-.5 .8 1 .8-1 .8 .8 .8-.6 .8 .7 .8-.4" fill="none" stroke="#141414" stroke-width="1.5" stroke-linejoin="round"/>
<path d="M121.9 409.6l.8 0 .8-.1 .8-.3 .8 .3 .8-.4 .8 .5 .8 .1 .8 .1 .8 .1 .8-.4 .8 .1 .8-.5 .8 .3 .8-.3 .8 .4 .8-.2 .8 .5 .8 0 .8-.2 .8 .5 .8-.8 .8 .2 .8-.4 .8 .1 .8-.1 .8 .4 .8 .1 .8-.1 .8 .4 .8-.1 .8-.3 .8 .3 .8-.4 .8-.4 .8 .6 .8-.7 .8 .6 .8 .2 .8 0 .8 0 .8 0 .8 0 .8-.6 .8 .6 .8-.5 .8 .1 .8 .2 .8 .1 .8-.1 .8 .3 .8-.2 .8-.4 .8 .5 .8-.7 .8 .6 .8 0 .8 .1 .8 .1 .8-.3 .8 .1 .8-.4 .8 .1 .8 .1 .8-.3 .8 .5 .8 0 .8 0 .8 .6 .8-.9 .8 .7 .8-.9 .8 0 .8 .5 .8-.9 .8 1.4 .8-.8 .8 .4 .8 .2 .8-.5 .8 .5 .8-.6 .8 .4 .8-.5 .8-.1 .8 .5 .8-.6 .8 .7 .8 .2 .8-.7 .8 1 .8-.8 .8 .1 .8 .2 .8-.5 .8 .3 .8-.4 .8 .6 .8-.5 .8 .5 .8 .1 .8-.5 .8 .4 .8-.2 .8-.2 .8 .4 .8 0 .8-.4 .8 .5 .8-.5 .8 0 .8 .2 .8-.2 .8 .3 .8-.2 .8 .4 .8-.2 .8 .1 .8 0 .8-.4 .8 .1 .8-.1 .8-.2 .8 .5 .8-.2 .8 .3 .8 0 .8-.3 .8 .5 .8-.7 .8 .5 .8-.2 .8-.3 .8 .4 .8-.4 .8 .3 .8-.1 .8 .2 .8-.2 .8 .1 .8 .3 .8-.3 .8 .2 .8 0 .8-.5 .8 0 .8 .3 .8-.5 .8 .6 .8 .1 .8-.2 .8 .3 .8-.1 .8-.3 .8 .2 .8-.1 .8-.3 .8 .2 .8-.1 .8 .1 .8-.1 .8 .6 .8-.5 .8 .3 .8 .2 .8-.7 .8 .8 .8-.8 .8 .2 .8-.1 .8-.1 .8 .4 .8-.2 .8 .5 .8-.3 .8 0 .8 .1 .8-.4 .8 .2 .8 0 .8-.2 .8 .3 .8-.4 .8 .5 .8-.3 .8 0 .8 .3 .8-.6 .8 .6 .8-.3 .8 .4 .8-.2 .8 .2 .8-.3 .8-.5 .8 .6 .8-.7 .8 .7 .8 0 .8 .1 .8 0 .8 .1 .8-.1 .8-.3 .8 .2 .8-.5 .8-.1 .8 .5 .8-.2 .8 .2 .8 .6 .8-.8 .8 .6 .8-.4 .8 0 .8 0 .8-.2 .8 .3 .8-.7 .8 .9 .8-.7 .8 .5 .8 .3 .8-.4 .8 .3 .8-.3 .8-.1 .8 0 .8 .1 .8-.3 .8 .4 .8-.4 .8 .6 .8-.4 .8 .3 .8-.1 .8-.3 .8 .4 .8-.4 .8 .5 .8-.3 .8 .2 .8-.3 .8-.1 .8-.1 .8 .3 .8-.3 .8 .6 .8 0 .8-.5 .8 1 .8-1.2 .8 .7 .8-.6 .8 .1 .8-.1 .8 0 .8 .7 .8-.7 .8 1 .8-.5 .8-.3 .3 .3 .4 .1 .4-.2 .5-.2 .4-.3 .4 0 .4 .5 .4 .2 .5-.5 .4-.3 .4 .3 .4 .2 .4 0 .5 0 .4-.1 .4 .5 .4 1.6 .4-.3 .5-1.8 .4-1.7 .4-2.3 .4-1.6 .4 3.5 .5 6.8 .4 3.9 .4-1.9 .4-6.1 .4-5.5 .5-1.1 .4 2.2 .4 2.5 .4 2.4 .4 3.6 .5 4.9 .4-.9 .4-9.6 .4-8.4 .4 1.7 .5 6.7 .4 1.7 .4 1 .4 1.3 .4 1.9 .5-1.5 .4-3.9 .4-3.4 .4-1.5 .4 .7 .5 4.1 .4 7.4 .4 1.8 .4-6.1 .4-5.8 .5-.3 .4-1.2 .4 1.8 .4 6.2 .4 5.1 .5-.3 .4-6.2 .4-2.6 .4-.5 .4 .4 .5 0 .4 .5 .4 2.3 .4 2 .4-.9 .5-2.3 .4-1.2 .4-.3 .4-.3 .4-.4 .5 .3 .4 1.2 .4 1.6 .4 .4 .4-1.3 .5-1.3 .4-.5 .4-.5 .4-.4 .4 .9 .5 2.2 .1 .6 .8-.2 .8-2.2 .8 .2 .8 .6 .8 .2 .8 .1 .8-1 .8-.2 .8 2 .8-1.3 .8 0 .8-1.2 .8 .7 .8 2.5 .8-.6 .8-2.4 .8 .1 .8 1.1 .8-.1 .8 .6 .8-.7 .8 1 .8-1.3 .8-.4 .8-.5 .8 1.8 .8 .5 .8-1 .8 1.5 .8-2.4 .8-.1 .8 1 .8 .5 .8-.1 .8 0 .8-1.7 .8 .6 .8 1.4 .8-.5 .8 .7 .8-.9 .8-.2 .8-.2 .8 1.1 .8-1.4 .8 .4 .8 1 .8-1.7 .8 .3 .8 1.4 .8 .1 .8-.3 .8-.2 .8-2 .8 2.2 .8-.2 .8-.4 .8 0 .8-.4 .8 .4 .8 .1 .8 1.4 .8-2.2 .8 .5 .8 .8 .8-.2 .8-.3 .8-.5 .8-.4 .8 1.4 .8 .6 .8-1.3 .8-.1 .8-.6 .8 1 .8 .2 .8 .7 .8-1 .8-.1 .8 .1 .8-.5 .8 .4 .8 .2 .8 .4 .8-1.7 .8 1.5 .8-.3 .8 .7 .8-.3 .8-1 .8 .7 .8-.4 .8 .9 .8-.9 .8 .3 .8-.4 .8-.7 .8 1.4 .8 1 .8-1.4 .8 .5 .8-.9 .8 0 .8 1.4 .8-1 .8 .2 .8-1.1 .8 1.1 .8-.5 .8 .8 .8 .4 .8-1.2 .8 1 .8-.7 .8-.2 .8 .5 .8 0 .8-1.2 .8 1.2 .8-.2 .8 .2 .8 .1 .8-.6 .8 .4 .8-.1 .8 .6 .8-.9 .8 .2 .8-.1 .8 .1 .8 .4 .8-.2 .8-1.3 .8 1.2 .8 .9 .8-.4 .8 0 .8-1.8 .8 1.5 .8-.1 .8 .3 .8-.5 .8-.6 .8 1.1 .8-.4 .8 .1 .8-.5 .8 .3 .8 .5 .8 .1 .8-.8 .8 .5 .8-.4 .8 .3 .8-.3 .8-.3 .8 1.1 .8-1.1 .8 .4 .8-.1 .8 .4 .8 .6 .8-.1 .8-.8 .8-.5 .8-.3 .8 .9 .8 .5 .8-.7 .8 .2 .8-.9 .8 1.9 .8-.5 .8-.4 .8 .2 .8-1.1 .8 .9 .8-.4 .8 .2 .8 .1 .8-.1 .8 .4 .8-.6 .8 .1 .8 1.1 .8-.7 .8 .2 .8-1 .8-.5 .8 1.4 .8-.4 .8 .7 .8-.8 .8 .2 .8-.2 .8 .2 .8 .6 .8-1.1 .8 .4 .8 .3 .8 .1 .8-.5 .8 .2 .8-.2 .8 .4 .8-.1 .8-.8 .8 .6 .8 .4 .8-.1 .8-.1 .8 .2 .8-.1 .8 0 .8-.4 .8-.4 .8-.2 .8 1.3 .8-.3 .8-.5 .8 .9 .8-.6 .8 .8 .8-.9 .8-.3 .8 .1 .8 .3 .8 .2 .8-.9 .8 .8 .8-.1 .8 .1 .8 .6 .8-.6 .8-.4 .8 .7 .8-.3 .8-.5 .8-.2 .8 .2 .8 .6 .8 .2 .8-.1 .8-.7 .8 .9 .8-.2 .8-.6 .8 .2 .8-.1 .8 .1 .8 .4 .8-.3 .8-.7 .8 1.1 .8-.1 .8-.3 .8-.3 .8 .1 .8 .5 .8 0 .8 0 .8-.9 .8 .6 .8 0 .8 0 .8 .2 .8-.7 .8 0 .8 .7 .8 .6 .8-.3 .8-.5 .8-.2 .8 0 .8-.1 .8 .4 .8-.3 .8 .4 .8-.4 .8 0 .8 .3 .8 0 .8 .7 .8-.8 .8 .1 .8-.5 .8 .2 .8 .3 .8-.6 .8 .2 .8 .2 .8 .7 .8-.5 .8 0 .8 .3 .8-.3 .8 0 .8-.3 .8-.4 .8 .2 .8 .4 .8 .2 .8 .1 .8-.4 .8 0 .8 .3 .8 .4 .8-1 .8 .3 .8 .1 .8-.3 .8 .3 .8-.3 .8 .8 .8-.6 .8 .3 .8-.5 .8 .1 .8 .6 .8-.3 .8 .4 .8-.9 .8 .2 .8 .2 .8-.4 .8 .4 .8 .1 .8 .1 .8 .1 .8-1 .8 .7 .8 .5 .8-.3 .8 .2 .8-.8 .8 .4 .8-.7 .8 .9 .8-.2 .8-.5 .8 .8 .8-.4 .8 .6 .8 .1 .8-.6 .8-.3 .8 .4 .8-.8 .8 .4 .8 .3 .8-.2 .8 .3 .8 .3 .8 0 .8-.6 .8 .8 .8-.7 .8-.3 .8 .2 .8-.3 .8 .4 .8 .6 .8-.8 .8 .4 .8 .3 .8-.8 .8 .9 .8-.5 .8 .1 .8-.5 .8 .6 .8 0 .8-.8 .8 .7 .8-.5 .8 .8 .8-.3 .8-.1 .8 .1 .8 .1 .8-.3 .8 .1 .8-.1 .8 0 .8 .3 .8-.4 .8 .2 .8-.5 .8 .6 .8 .2 .8-.2 .8-.1 .8 .4 .8-.4 .8-.1 .8 .1 .8-.4 .8 .3 .8-.6 .8 1.2 .8-.6 .8 .7 .8-.5 .8-.4 .8 1.2 .8-1.4 .8 .6 .8-.2 .8-.6 .8 .4 .8 .4 .8 .2 .8 .1 .8-.4 .8 .2 .8-.6 .8 .6 .8 .1" fill="none" stroke="#141414" stroke-width="1.5" stroke-linejoin="round"/>
<line x1="121.9" y1="436.6" x2="700.4" y2="436.6" stroke="#1c1c1c" stroke-width="1.5"/>
<line x1="121.9" y1="463.7" x2="700.4" y2="463.7" stroke="#1c1c1c" stroke-width="1.5"/>
<rect x="121.9" y="30.4" width="578.5" height="460" fill="none" stroke="#3a3a3a" stroke-width="1.1"/>
<path d="M411.1 30.4 v5.5 M411.1 490.4 v-5.5" stroke="#3a3a3a" stroke-width="1.1"/>
<text x="112.8" y="65.1" font-size="22.0" text-anchor="end" font-family='"Liberation Sans", Arial, sans-serif' fill="#1a1a1a"  stroke="#1a1a1a" stroke-width="0.35">1</text>
<text x="709" y="65.1" font-size="22.0" text-anchor="start" font-family='"Liberation Sans", Arial, sans-serif' fill="#1a1a1a"  stroke="#1a1a1a" stroke-width="0.35">34.6</text>
<text x="112.8" y="92.2" font-size="22.0" text-anchor="end" font-family='"Liberation Sans", Arial, sans-serif' fill="#1a1a1a"  stroke="#1a1a1a" stroke-width="0.35">2</text>
<text x="709" y="92.2" font-size="22.0" text-anchor="start" font-family='"Liberation Sans", Arial, sans-serif' fill="#1a1a1a"  stroke="#1a1a1a" stroke-width="0.35">38.6</text>
<text x="112.8" y="119.3" font-size="22.0" text-anchor="end" font-family='"Liberation Sans", Arial, sans-serif' fill="#1a1a1a"  stroke="#1a1a1a" stroke-width="0.35">3</text>
<text x="709" y="119.3" font-size="22.0" text-anchor="start" font-family='"Liberation Sans", Arial, sans-serif' fill="#1a1a1a"  stroke="#1a1a1a" stroke-width="0.35">42.6</text>
<text x="112.8" y="146.4" font-size="22.0" text-anchor="end" font-family='"Liberation Sans", Arial, sans-serif' fill="#1a1a1a"  stroke="#1a1a1a" stroke-width="0.35">4</text>
<text x="709" y="146.4" font-size="22.0" text-anchor="start" font-family='"Liberation Sans", Arial, sans-serif' fill="#1a1a1a"  stroke="#1a1a1a" stroke-width="0.35">46.6</text>
<text x="112.8" y="173.5" font-size="22.0" text-anchor="end" font-family='"Liberation Sans", Arial, sans-serif' fill="#1a1a1a"  stroke="#1a1a1a" stroke-width="0.35">5</text>
<text x="709" y="173.5" font-size="22.0" text-anchor="start" font-family='"Liberation Sans", Arial, sans-serif' fill="#1a1a1a"  stroke="#1a1a1a" stroke-width="0.35">50.6</text>
<text x="112.8" y="200.6" font-size="22.0" text-anchor="end" font-family='"Liberation Sans", Arial, sans-serif' fill="#1a1a1a"  stroke="#1a1a1a" stroke-width="0.35">6</text>
<text x="709" y="200.6" font-size="22.0" text-anchor="start" font-family='"Liberation Sans", Arial, sans-serif' fill="#1a1a1a"  stroke="#1a1a1a" stroke-width="0.35">54.6</text>
<text x="112.8" y="227.7" font-size="22.0" text-anchor="end" font-family='"Liberation Sans", Arial, sans-serif' fill="#1a1a1a"  stroke="#1a1a1a" stroke-width="0.35">7</text>
<text x="709" y="227.7" font-size="22.0" text-anchor="start" font-family='"Liberation Sans", Arial, sans-serif' fill="#1a1a1a"  stroke="#1a1a1a" stroke-width="0.35">58.6</text>
<text x="112.8" y="254.8" font-size="22.0" text-anchor="end" font-family='"Liberation Sans", Arial, sans-serif' fill="#1a1a1a"  stroke="#1a1a1a" stroke-width="0.35">8</text>
<text x="709" y="254.8" font-size="22.0" text-anchor="start" font-family='"Liberation Sans", Arial, sans-serif' fill="#1a1a1a"  stroke="#1a1a1a" stroke-width="0.35">62.6</text>
<text x="112.8" y="281.9" font-size="22.0" text-anchor="end" font-family='"Liberation Sans", Arial, sans-serif' fill="#1a1a1a"  stroke="#1a1a1a" stroke-width="0.35">9</text>
<text x="709" y="281.9" font-size="22.0" text-anchor="start" font-family='"Liberation Sans", Arial, sans-serif' fill="#1a1a1a"  stroke="#1a1a1a" stroke-width="0.35">66.6</text>
<text x="112.8" y="309" font-size="22.0" text-anchor="end" font-family='"Liberation Sans", Arial, sans-serif' fill="#1a1a1a"  stroke="#1a1a1a" stroke-width="0.35">10</text>
<text x="709" y="309" font-size="22.0" text-anchor="start" font-family='"Liberation Sans", Arial, sans-serif' fill="#1a1a1a"  stroke="#1a1a1a" stroke-width="0.35">70.6</text>
<text x="112.8" y="336.1" font-size="22.0" text-anchor="end" font-family='"Liberation Sans", Arial, sans-serif' fill="#1a1a1a"  stroke="#1a1a1a" stroke-width="0.35">11</text>
<text x="709" y="336.1" font-size="22.0" text-anchor="start" font-family='"Liberation Sans", Arial, sans-serif' fill="#1a1a1a"  stroke="#1a1a1a" stroke-width="0.35">74.6</text>
<text x="112.8" y="363.2" font-size="22.0" text-anchor="end" font-family='"Liberation Sans", Arial, sans-serif' fill="#1a1a1a"  stroke="#1a1a1a" stroke-width="0.35">12</text>
<text x="709" y="363.2" font-size="22.0" text-anchor="start" font-family='"Liberation Sans", Arial, sans-serif' fill="#1a1a1a"  stroke="#1a1a1a" stroke-width="0.35">78.6</text>
<text x="112.8" y="390.3" font-size="22.0" text-anchor="end" font-family='"Liberation Sans", Arial, sans-serif' fill="#1a1a1a"  stroke="#1a1a1a" stroke-width="0.35">13</text>
<text x="709" y="390.3" font-size="22.0" text-anchor="start" font-family='"Liberation Sans", Arial, sans-serif' fill="#1a1a1a"  stroke="#1a1a1a" stroke-width="0.35">82.6</text>
<text x="112.8" y="417.4" font-size="22.0" text-anchor="end" font-family='"Liberation Sans", Arial, sans-serif' fill="#1a1a1a"  stroke="#1a1a1a" stroke-width="0.35">14</text>
<text x="709" y="417.4" font-size="22.0" text-anchor="start" font-family='"Liberation Sans", Arial, sans-serif' fill="#1a1a1a"  stroke="#1a1a1a" stroke-width="0.35">86.6</text>
<text x="112.8" y="444.5" font-size="22.0" text-anchor="end" font-family='"Liberation Sans", Arial, sans-serif' fill="#1a1a1a"  stroke="#1a1a1a" stroke-width="0.35">15</text>
<text x="709" y="444.5" font-size="22.0" text-anchor="start" font-family='"Liberation Sans", Arial, sans-serif' fill="#1a1a1a"  stroke="#1a1a1a" stroke-width="0.35">90.6</text>
<text x="112.8" y="471.6" font-size="22.0" text-anchor="end" font-family='"Liberation Sans", Arial, sans-serif' fill="#1a1a1a"  stroke="#1a1a1a" stroke-width="0.35">16</text>
<text x="709" y="471.6" font-size="22.0" text-anchor="start" font-family='"Liberation Sans", Arial, sans-serif' fill="#1a1a1a"  stroke="#1a1a1a" stroke-width="0.35">94.6</text>
<text x="121.9" y="520.9" font-size="22.0" text-anchor="middle" font-family='"Liberation Sans", Arial, sans-serif' fill="#1a1a1a"  stroke="#1a1a1a" stroke-width="0.35">9.5</text>
<text x="411.1" y="520.9" font-size="22.0" text-anchor="middle" font-family='"Liberation Sans", Arial, sans-serif' fill="#1a1a1a"  stroke="#1a1a1a" stroke-width="0.35">10</text>
<text x="700.4" y="520.9" font-size="22.0" text-anchor="middle" font-family='"Liberation Sans", Arial, sans-serif' fill="#1a1a1a"  stroke="#1a1a1a" stroke-width="0.35">10.5</text>
<text x="411.1" y="553.2" font-size="24.7" text-anchor="middle" font-family='"Liberation Sans", Arial, sans-serif' fill="#1a1a1a"  stroke="#1a1a1a" stroke-width="0.35">Time (s)</text>
<text transform="translate(78.6,259) rotate(-90)" font-size="24.7" text-anchor="middle" font-family='"Liberation Sans", Arial, sans-serif' fill="#1a1a1a" stroke="#1a1a1a" stroke-width="0.35">Channel number</text>
<text transform="translate(781.7,261) rotate(-90)" font-size="24.7" text-anchor="middle" font-family='"Liberation Sans", Arial, sans-serif' fill="#1a1a1a" stroke="#1a1a1a" stroke-width="0.35">Depth (m)</text>
<text x="133.5" y="62.5" font-size="40" text-anchor="start" font-family='"Liberation Serif", "Times New Roman", serif' fill="#111" font-weight="bold">(a)</text>
</g>
<g id="red" fill="none" stroke="#e8141e">
<path d="M604.8 340.2 H314.5 M604.8 369.2 H314.5" stroke-width="1.5" stroke-dasharray="12 8.5"/>
<path d="M314.5 339.5 V369.9 M604.8 339.5 V369.9" stroke-width="1.5"/>
<path d="M604.8 340.2 L896 28.5 M604.8 369.2 L896 510.5" stroke-width="1.45" stroke-dasharray="12 8.5"/>
</g>
<g id="panelB">
<path d="M895.9 271l.2-4.7 .2-7.8 .2 13.3 .3-6.8 .2-2.2 .2 6.4 .2-6.3 .2 4.3 .2 10.5 .2-16.8 .3 10.2 .2-6.8 .2 13.4 .2-3 .2-3 .2-4.9 .2 .1 .3-3 .2 12.9 .2-8.2 .2-4.9 .2-4.1 .2 17.5 .2-16.6 .3 22.9 .2-4.7 .2-15.8 .2 6.2 .2-14.2 .2 26.2 .2-16.3 .3 9.5 .2-7.7 .2-16.2 .2 31.1 .2-6.1 .2-6.3 .2-2.6 .3-2.1 .2 3.6 .2-2.2 .2-6.3 .2 10.2 .2 6.4 .2 7.5 .3-4.2 .2-1.6 .2-8.1 .2-4.8 .2 21.6 .2-17.7 .2 8.9 .3-2.8 .2-22.6 .2 20.9 .2-.5 .2-10.3 .2 8.7 .2 11.4 .3-21.6 .2 10 .2-3 .2-11.5 .2 12.8 .2-7.6 .2 5.4 .3 1 .2-2.8 .2 16.9 .2-25.2 .2 5.8 .2 1.5 .2-4.8 .3-3.9 .2 6 .2 13.7 .2-7 .2 5.4 .2 2.1 .2-5.5 .3-5.9 .2 2.9 .2 2 .2-2.4 .2 4.5 .2 3.2 .2-7.5 .3 3.9 .2-6.7 .2 5.3 .2-3.3 .2 2.8 .2 13.2 .2-10.2 .3 15.3 .2-14.4 .2-12.1 .2 14.6 .2 1 .2 4.6 .2-10.3 .3-6 .2-3 .2 7.7 .2-.4 .2 10.1 .2-7.9 .2-4.3 .3 4.9 .2 3.7 .2-7.7 .2-9.1 .2 11.1 .2-3.2 .2 .4 .3 3.1 .2-6.5 .2 10.1 .2-5.4 .2 .2 .2-13.5 .2 19.6 .3 .8 .2 1.2 .2-12 .2 13.5 .2 2.3 .2-5.6 .2-9.2 .3 5.1 .2-1.3 .2-1.2 .2-19.2 .2 31.2 .2-1.8 .2-3.6 .3-5.4 .2 6.2 .2 6.5 .2-12.9 .2 8.7 .2-5.2 .2-1.6 .3 1.3 .2 3.1 .2-13.3 .2 3.5 .2 8.5 .2-4.3 .2-5.8 .3 4.2 .2 2.6 .2 2 .2-3.4 .2 2.3 .2-14.2 .2 21.5 .3-.9 .2 .4 .2-2.4 .2-.5 .2 1.9 .2-4.3 .2 4.4 .3-1.1 .2-12.3 .2 9 .2-4 .2 4.1 .2-1.1 .2-5.7 .3 .2 .2 6.5 .2-4.3 .2 .5 .2 1.7 .2 0 .2-.3 .3 1.7 .2-3.7 .2 4.5 .2-2.9 .2 5.3 .2 .1 .2-6.3 .3-2.4 .2 19.6 .2-18.3 .2 1.6 .2 10.6 .2-4.1 .2-7.5 .3-3.1 .2 12.2 .2-7.1 .2-9.2 .2-4 .2 5.5 .2 .3 .3 2 .2-9.4 .2 4 .2 11.6 .2 .7 .2 2 .2-7.1 .3 .7 .2 4.4 .2-3.8 .2 16.9 .2-10.1 .2-14.1 .2 19.7 .3-10.1 .2-.1 .2-1.2 .2-1.9 .2 15.3 .2-14.4 .2 0 .3 3.2 .2-5.3 .2 4.6 .2 18.3 .2-15.8 .2 8.1 .2-7.1 .3 4.1 .2-11 .2-2.6 .2 2.4 .2 3.4 .2-13.3 .2 11.9 .3 3 .2-14.8 .2 9.9 .2-.3 .2-4.3 .2 11.4 .2-3.7 .3 .2 .2-6.9 .2-3.7 .2 10.4 .2-2.5 .2 12.7 .3 1.2 .2-24 .2 12.9 .2 5.6 .2-4.7 .2 2.7 .2 3.8 .3-6 .2 2.4 .2-2.1 .2-3.1 .2-1.8 .2-3.9 .2 2.9 .3-4.2 .2 19.1 .2-5.2 .2-2 .2-10.7 .2 11.7 .2-16.8 .3 10.3 .2 7.1 .2-1.7 .2 6.5 .2-15.2 .2 8.4 .2-14.2 .3 3 .2 12.5 .2-10 .2 10 .2-.5 .2-3.9 .2-10.9 .3-1.6 .2 11.8 .2 5.8 .2-19.1 .2 14.8 .2-4.1 .2 11.5 .3-3.2 .2-15.6 .2 22 .2-11.9 .2 1.5 .2 19.8 .2-31.6 .3 12.9 .2-7.4 .2-7.5 .2 7.8 .2 11.9 .2-15.9 .2-1.6 .3 1.3 .2 11.8 .2-6.2 .2 10 .2-8.3 .2 5.3 .2 3.8 .3-19.6 .2 12.6 .2-14.1 .2 13.6 .2 1.9 .2-1.4 .2-5.2 .3 .2 .2-4.2 .2 .7 .2-2.1 .2 6.7 .2 4.3 .2-6.7 .3 5.7 .2-3.8 .2 7.5 .2-3.5 .2 5.5 .2-24.8 .2 .6 .3 12.9 .2 7.2 .2 6.5 .2-7.7 .2 5.6 .2-7.9 .2 7.9 .3-10.5 .2 10.8 .2-2.4 .2 8.8 .2-23.6 .2 24.5 .2-1.2 .3-3.1 .2-15 .2 12.9 .2-2.2 .2-8.4 .2 9.6 .2-4.4 .3-4.1 .2-1.3 .2 .2 .2 .3 .2 2.3 .2-15.7 .2 29.4 .3-21.1 .2 11 .2-3.9 .2-19.9 .2 9.4 .2 13.9 .2-4.6 .3 5.9 .2-4.7 .2 3.8 .2-4.1 .2 7.6 .2-1.5 .2-4.9 .3 1.2 .2-8.1 .2 12.8 .2-8.1 .2 7.6 .2-5.6 .2 4.8 .3-3.8 .2-18.8 .2 26.1 .2-12.9 .2 8.9 .2-5.7 .2 6.3 .3-8.5 .2-5.4 .2 4.5 .2 3.8 .2-8.4 .2 12.5 .2 4.7 .3-5.3 .2-2.1 .2-.2 .2 4 .2-8.1 .2 8.9 .2-22.2 .3 13.5 .2 13.4 .2-9.1 .2 14.4 .2-21.3 .2 12.6 .2 4 .3-9.6 .2 9.2 .2-13 .2 6.5 .2-10.5 .2 2.6 .2 9.6 .3-8.7 .2-1.7 .2-5.7 .2 19.8 .2-18.6 .2 1 .2 6.9 .3-17.6 .2 19.2 .2-.1 .2 7.7 .2-11.2 .2-2.8 .2 8.8 .3 6 .2-21.5 .2 17.2 .2-15.3 .2 8 .2-1.5 .2 3.8 .3 13.1 .2-11.9 .2-5.1 .2-.4 .2 9.2 .2-19.2 .2 12.3 .3 3.3 .2 5.8 .2 4.7 .2-6.3 .2-6.4 .2 2.4 .2-4.1 .3-8.3 .2 5.6 .2 15.4 .2-20.3 .2 2.7 .2 9.5 .2 2.1 .3 6.5 .2-9 .2-2.4 .2 5.2 .2-3.2 .2 1 .2-1.2 .3 2.9 .2-3.3 .2-12.5 .2 3.4 .2 8.4 .2 8.3 .2 .6 .3-3.9 .2-7.5 .2 4.5 .2 4.9 .2 4.7 .2-5.2 .2-9.6 .3 6.1 .2 9.4 .2-6.2 .2-9.1 .2 .6 .2 3.9 .2 6.3 .3-11.7 .2 9.9 .2-2.2 .2 6 .2-15 .2 .4 .2 4.8 .3-3.1 .2 14.5 .2-14.4 .2 15.5 .2-9.4 .2 .4 .2 2 .3-12.7 .2-11.1 .2 33.7 .2-17.2 .2-5 .2 8.5 .2-5.8 .3 13.6 .2-3.9 .2-13 .2-.2 .2 8.6 .2-7.9 .2 .8 .3 1.8 .2-7.6 .2 8.1 .2 13.6 .2-19.1 .2 18.8 .2-11.9 .3 9.7 .2-2.5 .2-11.5 .2 14.8 .2-5.7 .2 1.2 .2 6 .3-9.4 .2 13.4 .2-10 .2 8.5 .2-11.6 .2 3.4 .2-9.4 .3 4.5 .2 4.4 .2-4.4 .2-7.6 .2 13.9 .2-3.8 .2-1.5 .3 .5 .2 3.4 .2 4.3 .2-6.6 .2 4.7 .2 3.2 .2-4.2 .3-10.6 .2 2.7 .2 .3 .2-1.5 .2 7.4 .2-1.7 .2 3.6 .3-2.9 .2 2.6 .2-11.4 .2 12.3 .2-2.2 .2-10.2 .2 5.1 .3 2.3 .2 .1 .2 8 .2-20.9 .2 5.1 .2 10.3 .2 2.9 .3-9.2 .2 7.3 .2-9.8 .2 1.6 .2 6.3 .2-2 .2-11.5 .3 17.2 .2-6.6 .2-4.8 .2 5.8 .2 .1 .2-3 .2 4.3 .3-9.7 .2 10 .2 5.3 .2-26.4 .2 23.5 .2-9 .2 1.5 .3 4.7 .2 9.7 .2-21.3 .2 .4 .2 4.6 .2 4.5 .2-12.6 .3 22.3 .2-13.7 .2-2.8 .2 7.5 .2 5.7 .2 .2 .2 2.3 .3-1 .2-6 .2 11.1 .2-18.2 .2 12 .2-11.6 .2 2.8 .3 15.4 .2-8.2 .2 3.9 .2-11.9 .2-5.4 .2 24.9 .2-18 .3 3.8 .2-14.9 .2 29.5 .2-21.4 .2 2.6 .2 4.1 .2 .4 .3-14.2 .2 15.5 .2-6.3 .2 8.1 .2-16.5 .2 20.6 .2-.5 .3-12.1 .2 3.4 .2-.4 .2 1.6 .2-11.9 .2 15.4 .2 5.6 .3-2.7 .2-5.8 .2-12.3 .2 17.8 .2-9 .2 1.1 .2-4.7 .3 1.2 .2 3.2 .2 8.8 .2-2.7 .2-.1 .2-10.8 .2 18.3 .3-.6 .2-2 .2-15.9 .2 6.5 .2-5.1 .2-1.9 .2 10.3 .3-.5 .2 14.2 .2-26.1 .2 13.8 .2-13 .2 17.9 .2-19.8 .3 4.3 .2 9.8 .2-6.1 .2 14.3 .2-18.4 .2 14.2 .2-8.2 .3-17.1 .2 20.8 .2-6 .2 6 .2-11.4 .2 .4 .2-2.3 .3 13.1 .2-19.8 .2 25.4 .2-9.5 .2-5 .2 7 .2-4.2 .3 2.5 .2-1.4 .2 9.7 .2-18.8 .2 2.6 .2 3 .2-.8 .3 .6 .2 10.7 .2-19.1 .2 10.5 .2-6.4 .2-5.8 .2 12.4 .3 4.2 .2-7.2 .2-.3 .2 6.6 .2-5.8 .2 11.2 .2 11.1 .3-18.7 .2 16.4 .2-24 .2-3.8 .2 8.6 .2 9.5 .2-13.8 .3 10.8 .2-7.6 .2 8.8 .2-15.8 .2 7.2 .2 9.3 .2-6.1 .3 2.6 .2-10.7 .2 6.1 .2-2.4 .2-2.1 .2 3 .3 .7 .2-5.3 .2 6.2 .2-6 .2 6.7 .2 2.9 .2 6.6 .3-6.6 .2 .8 .2 2.3 .2-18.7 .2 27.5 .2-12.6 .2 5.9 .3-6.3 .2-12.3 .2 8.2 .2-1.5 .2 7.9 .2 15.3 .2-7.9 .3 .1 .2 6.2 .2-17 .2 .8 .2-7.9 .2 6.2 .2 5 .3 4.2 .2-7.1 .2 3.6 .2-7.4 .2-8.1 .2 7.6 .2-1 .3-.8 .2 3.4 .2-.8 .2 2.6 .2 11 .2-1.5 .2-7.7 .3-10.3 .2 12.7 .2 12.4 .2-7.3 .2-26.2 .2 25.4 .2-10.8 .3 1 .2 10.1 .2-.8 .2-11.9 .2 8.4 .2-.8 .2-7 .3 3.8 .2-7.6 .2 8.2 .2-3.2 .2 3 .2-5.5 .2-.4 .3 9.6 .2-10.7 .2 12.2 .2 9.6 .2-16.4 .2-4 .2 6.8 .3 3.2 .2-1.8 .2-1 .2 10.2 .2-7 .2 .7 .2-2.2 .3-9.2 .2 1.9 .2 7.5 .2 2 .2 1.2 .2 4.3 .2-2.1 .3-4.4 .2 2.1 .2-6.7 .2 10 .2-10.2 .2-12.5 .2 12.6 .3 6 .2 .9 .2-9.8 .2 .5 .2 3.5 .2 1.1 .2-10.2 .3 13.9 .2-1.4 .2-.1 .2 23.6 .2-25.8 .2 7.7 .2-18.3 .3 11.2 .2-10.1 .2 8.6 .2 5.5 .2-7.5 .2 .5 .2 6.1 .3-12.7 .2-1.5 .2-8.6 .2 21 .2-11.9 .2 1.7 .2 7.6 .3 7.6 .2-6.7 .2 13.1 .2-9.6 .2-3.7 .2-2 .2-9.5 .3 10.2 .2-7.6 .2 9.3 .2-2.5 .2 2.7 .2-2.9 .2 .9 .3-6 .2 5.4 .2-2 .2 10.9 .2-10.6 .2-6.8 .2 4.5 .3-6.2 .2 4.6 .2 3.9 .2-2.3 .2 1.8 .2-12.3 .2 2.8 .3 15.1 .2-6.4 .2-1.7 .2 7.4 .2 1.2 .2-11.3 .2-5.7 .3 12.3 .2-4.5 .2 .9 .2 1.9 .2 6.4 .2 2.8 .2-6.4 .3 2.3 .2 0 .2 .5 .2 1.8 .2-13 .2 12.5 .2 4.8 .3-2.4 .2-.1 .2-19 .2 8 .2 2.9 .2 13.5 .2-12.3 .3 7.5 .2-13.5 .2 13.3 .2 5.7 .2-10.2 .2-10.5 .2 6.8 .3 10 .2-13.4 .2 1.6 .2 2.3 .2-2.5 .2 11.7 .2-22.7 .3 14.9 .2 2.7 .2 1 .2-10.7 .2 10.1 .2 7.9 .2-3.2 .3-3.4 .2-7.3 .2-.9 .2 17.2 .2-21 .2 19.5 .2-4.6 .3-9.4 .2-.3 .2 5.4 .2 4.8 .2-6 .2-.8 .2 4.3 .3-2.4 .2-6.3 .2-8.1 .2 6.1 .2 17.2 .2-13.4 .2-2.3 .3 17.1 .2-11.9 .2-7.7 .2 14 .2 4.2 .2-14.9 .2 2.3 .3-5.1 .2 8.9 .2-3.1 .2 .3 .2 3 .2 10.7 .2-17.7 .3-4.6 .2 21.2 .2-10.2 .2-1.1 .2-12.8 .2 15.5 .2 5.7 .3-18.1 .2 14.6 .2 1.4 .2-22.2 .2 2.9 .2 17.5 .2-9.3 .3 5.2 .2 3.9 .2-21.2 .2 21.1 .2-13 .2 9.2 .2-7.6 .3-.8 .2 6.6 .2 .9 .2 .3 .2-8.1 .2 7.1 .2-.9 .3 6.8 .2-35.4 .2-3.8 .2-27.7 .2-22.3 .2 119.7 .2-14.5 .3 64.1 .2-56.1 .2-27.1 .2 40.9 .2-114.2 .2 18.1 .2-42.5 .3 64.2 .2-158.9 .2 151.4 .2 263.8 .2-186.8 .2 62.5 .2-34.2 .3-15.8 .2-112.6 .2 96.5 .2-157.6 .2 97.7 .2 134.3 .2-121 .3 60.6 .2-121.8 .2 122.8 .2-136 .2 157.1 .2-242.5 .2 136.7 .3 275.3 .2-245.7 .2 113.1 .2-154 .2 40 .2-30.5 .2-9.8 .3 60.6 .2-106.4 .2 73.3 .2 140.4 .2-85.9 .2 18.7 .2-102.9 .3 5.1 .2-15.5 .2-53 .2 92.1 .2-203.5 .2 178.2 .2 246.1 .3-179.7 .2 68.9 .2-52.8 .2 31.8 .2-110.5 .2-20.2 .2 57.8 .3-118.9 .2 97.7 .2 116 .2-108.8 .2 58.4 .2-3.9 .2-46 .3-6.9 .2 45.2 .2-53.6 .2 17.2 .2-16.6 .2-4.4 .2 49.2 .3-77.9 .2 93 .2-149.4 .2 90.3 .2 120.3 .2-58.9 .2 5.2 .3-84 .2 19.3 .2-2.9 .2 39.9 .2-57 .2 6.6 .2 72.1 .3 6.3 .2-47.6 .2 6.8 .2 20.5 .2-10.8 .2-15.8 .2-4.7 .3-14.4 .2 0 .2-18 .2 5.1 .2-44.8 .2 63.5 .2 104.4 .3-110.1 .2 61.4 .2-19.3 .2-50.8 .2 4.5 .2 10.3 .2 9.8 .3-49.1 .2 53.2 .2-.2 .2-22.4 .2 63.7 .2-47.5 .2-14.9 .3 36 .2 14 .2-44.4 .2 8.4 .2-6.6 .2 21.2 .2 30 .3-38.9 .2-6.4 .2 50.5 .2-22.1 .2-.2 .2-59.8 .2 71.3 .3-112.5 .2 65.9 .2 88.5 .2-46.9 .2 7.3 .2-54.6 .2 29.1 .3 1 .2 3.1 .2 29.3 .2-37.9 .2 23.3 .2-23.4 .2-23 .3-16.6 .2 25.2 .2 12.5 .2 9 .2-21.3 .2 42.6 .2-67.8 .3 64.6 .2-36.7 .2 7.6 .2-21.7 .2 27.6 .2-60 .2 49.1 .3-26.3 .2 13.8 .2 15.6 .2 40.8 .2-36.8 .2-59.8 .2 83.1 .3-35.5 .2 15.2 .2-67.2 .2 83.2 .2-12 .2-29.7 .2 16.4 .3 17.8 .2-12.5 .2 50.6 .2-13.2 .2-19 .2 8.8 .2-52.6 .3 3.5 .2 34.1 .2 8.8 .2-33.1 .2-15.6 .2 15.8 .2 41.2 .3 46.3 .2-111.2 .2 38.1 .2-4 .2 .3 .2-10.9 .2-10 .3 23.1 .2-5.4 .2-5.3 .2 7.5 .2 29.5 .2 17.1 .2-53.7 .3-18.6 .2 16.8 .2-28.6 .2 61.4 .2-43.9 .2 11.6 .2-14.5 .3 35.1 .2-4.5 .2-19.6 .2 40.3 .2-51.7 .2 17.6 .2 13.6 .3-14.2 .2-38.1 .2 40.6 .2 37.1 .2-78.1 .2 45.3 .3-1.2 .2-11.5 .2 8.9 .2-31.9 .2 42.4 .2-.8 .2 1.9 .3 6.9 .2 9.5 .2-32.4 .2-1.2 .2 10.7 .2 5.1 .2-13.1 .3 33.1 .2-41.9 .2 35.3 .2-43.4 .2 5.9 .2 21.7 .2-2.1 .3 1 .2 7.6 .2-21 .2 .9 .2 24.9 .2-.3 .2-30.6 .3-2.7 .2 9.8 .2 36.8 .2-26.9 .2 25.2 .2-45 .2-19.4 .3 26.8 .2-3.5 .2 6.4 .2 33.1 .2-40.6 .2 21.6 .2 33.5 .3-50.7 .2 2.9 .2 40.3 .2-37 .2 13.8 .2 1.5 .2-21.4 .3 45.3 .2-31.8 .2-5.7 .2-9.5 .2 33.9 .2-23.6 .2 11.1 .3-30.8 .2 13 .2-40.5 .2 68.9 .2-14.2 .2-9.3 .2-.8 .3 15.6 .2-12.8 .2-7 .2 15.9 .2 8.2 .2-18.5 .2-29.6 .3 5.6 .2 5.8 .2 3.1 .2 30.3 .2-8.2 .2 2.3 .2 32.4 .3-40.9 .2 20.1 .2 6.2 .2-21 .2 13.5 .2-24 .2 0 .3 27.9 .2-21.2 .2 4.5 .2-7.5 .2 6.7 .2 9.3 .2-29 .3 10.7 .2 43.4 .2-82.3 .2 4.7 .2 58 .2 9.1 .2-35.3 .3-12 .2 42.8 .2-30.7 .2-.1 .2-19 .2 13.1 .2 19.7 .3-16.3 .2 2.6 .2 27.7 .2-32.4 .2 23.5 .2-17.5 .2 10.7 .3-21.3 .2 21.8 .2-24 .2 48.1 .2 6.9 .2-4.1 .2-68.9 .3 18.4 .2 12.1 .2 26 .2 32 .2-48.6 .2 21.3 .2-30.7 .3 62.5 .2-80 .2 24.8 .2-19 .2 41.6 .2-2.7 .2-.5 .3-19.3 .2 8 .2-4.5 .2 13.9 .2-17.6 .2-1.8 .2 10.5 .3-7.6 .2 1.1 .2 27.7 .2-76.5 .2 34.5 .2 33.3 .2 18.4 .3-58.1 .2-10.2 .2 4.7 .2 16.8 .2 2.9 .2 17.5 .2-20.6 .3-1 .2-40 .2 59.9 .2-29.5 .2-6.4 .2 31.4 .2-16.9 .3 18.7 .2 26.1 .2-51.8 .2 26.1 .2-11.2 .2-19.3 .2 50.3 .3-32.2 .2 14.3 .2-7.5 .2 0 .2-9.4 .2 39 .2-21 .3 3.3 .2-11.2 .2-25.4 .2 10.4 .2-27 .2 6.9 .2 48 .3-22 .2 17.5 .2 0 .2-13.7 .2 25.4 .2-50.5 .2 44.8 .3-22.1 .2 19.9 .2-15.8 .2 2.1 .2-6.3 .2-.1 .2-6.3 .3 30.7 .2 3.5 .2-16.2 .2-13.3 .2 4.3 .2-26.2 .2 17.7 .3 29.5 .2-43.7 .2 42.3 .2-38 .2 41.4 .2-29.5 .2 17.1 .3 4.7 .2-49.6 .2 61.2 .2-16.2 .2 6.4 .2-35.5 .2 30 .3-23.9 .2 1.6 .2 13.3 .2 22.5 .2-26.9 .2-3.9 .2 7.3 .3-22.3 .2 5.8 .2 30.7 .2-12.9 .2-20.7 .2 27.3 .2-18.7 .3 29.4 .2-18.9 .2-35.7 .2 45.7 .2-21.9 .2 35.6 .2-17.6 .3 4.8 .2 10.3 .2-29.5 .2 8.2 .2-18.5 .2 1.9 .2 3.5 .3 10.4 .2 6.8 .2 16.8 .2-25.1 .2 3.4 .2-24.9 .2 35.3 .3-15.9 .2-27.5 .2 32.7 .2 20 .2-3 .2-14.3 .2-9.9 .3 29.7 .2-28.3 .2-2 .2 20.7 .2-6.9 .2 28.2 .2-31 .3-14.9 .2 10 .2 .3 .2 3.8 .2 1.3 .2-2.4 .2 .5 .3 18.7 .2-14.4 .2-15 .2 .2 .2 32.2 .2-18.3 .2-40.2 .3 50.1 .2-20.7 .2 29.8 .2-16.7 .2-9.6 .2 25.3 .2-15.4 .3-28.6 .2 30.3 .2-17.5 .2-24.7 .2 51.3 .2-33.8 .2 15.7 .3-9 .2 51 .2-58.3 .2 63.7 .2-51.1 .2 40.7 .2-34.7 .3 42.4 .2-57.8 .2-9.1 .2 31.9 .2-41.7 .2 51.6 .2-20.8 .3-45.1 .2 51.4 .2-51 .2 48.9 .2-5 .2-2.1 .2 19.9 .3 1.7 .2-23.1 .2-29 .2 51.6 .2-43.9 .2 31 .2-42.3 .3 54.7 .2-18.2 .2 9.8 .2-12.5 .2 12.4 .2-22.4 .2 38.4 .3-17.8 .2-12.3 .2 8.3 .2-.8 .2-56.5 .2 65.2 .2 30 .3-51.3 .2-9.7 .2 28.2 .2 25.1 .2-35.7 .2 19 .2 11.3 .3-20.9 .2 5.5 .2-30.8 .2-21.8 .2 35.6 .2 12.9 .2 12.4 .3-58.6 .2 51.9 .2 2.7 .2-40.8 .2 2.1 .2 42.8 .2 5.5 .3-29.1 .2 6.2 .2-1.1 .2 9.8 .2 1.9 .2-13.8 .2 3.6 .3-12.2 .2 32.4 .2-44.6 .2 30.8 .2-43.4 .2 5.8 .2 26.2 .3 4.1 .2 19 .2-4.5 .2-7.2 .2 5 .2-38.1 .2 53.9 .3-45.7 .2 7.8 .2 31.8 .2-25.2 .2-13.4 .2 39.1 .2 5.5 .3-37.3 .2-11.2 .2 31.2 .2 10.6 .2-44.8 .2 21.2 .2-41 .3 44.9 .2-33.2 .2 46.1 .2-15.5 .2-12.4 .2 28.1 .2-3.3 .3-2.3 .2-44.4 .2 50.2 .2-22.9 .2 16.2 .2 13 .2-15.8 .3-7.1 .2 11.8 .2-10.7 .2-11.8 .2 20.2 .2-15.1 .2-22.7 .3 20.6 .2 7.4 .2-30.1 .2 46.4 .2-22.7 .2 31.5 .2-31.7 .3 12.2 .2 3.8 .2 18.2 .2-15.5 .2 24.2 .2-20 .2 3.6 .3-51.9 .2 5.6 .2 28.4 .2-10.1 .2 8.3 .2 21.3 .2-9.1 .3-29.8 .2 57.7 .2-45.9 .2 13.1 .2-1.2 .2 2.6 .2-32.3 .3 48.9 .2-41.2 .2 15.6 .2 21.5 .2-37.5 .2-19 .2 18.1 .3 47.6 .2-16.2 .2-39.9 .2 43.3 .2-25.1 .2 22.8 .2-18.7 .3 24.2 .2-30.3 .2 .1 .2-19.2 .2 31.5 .2-10.7 .2-3.8 .3-24 .2 21.2 .2-14 .2 30.1 .2-32.4 .2 5.2 .2 30.7 .3-29.1 .2 55.5 .2-43.4 .2 29 .2 .3 .2-20.8 .2 16.4 .3-42.6 .2 14.9 .2-10.1 .2 62.7 .2-31.3 .2-19.6 .3 4.5 .2 46 .2-34.5 .2-6.8 .2 18.4 .2 3.7 .2-16.4 .3-16.1 .2 39.9 .2 13.4 .2 2 .2-22.2 .2-15.6 .2-1.9 .3 8.7 .2-13.9 .2 24.7 .2-14.1 .2-7.7 .2-5.3 .2 23 .3-29.6 .2 6.6 .2 40.8 .2-40.6 .2-2.6 .2 19.5 .2-15 .3 6.6 .2 3.1 .2 10 .2-6 .2 15.9 .2 2 .2-4.2 .3-30.6 .2 1.5 .2-5.5 .2-10.5 .2 7.9 .2-22.2 .2 37.2 .3-10.1 .2 20 .2 12.9 .2-.5 .2-13.2 .2-22.3 .2 18.1 .3 6.7 .2-11.5 .2-.3 .2 13.2 .2-37.6 .2 56.4 .2-6 .3 13.3 .2-30.4 .2-23.2 .2 14 .2 2 .2 2.5 .2-.8 .3-8.5 .2-19.9 .2 42.8 .2 .7 .2-7.4 .2 12.2 .2-9.7 .3-14.9 .2-4.5 .2 8.5 .2 12.9 .2-25.3 .2 6.3 .2-10.5 .3 20.6 .2 7.7 .2 17.1 .2-36.8 .2 10.7 .2 .4 .2-31.1 .3 40.2 .2-28.5 .2 16.2 .2-10.5 .2 5.7 .2-13.4 .2 18.5 .3-7.3 .2-2.9 .2-20.8 .2 25.2 .2 31.8 .2-25.3 .2-21.8 .3-7.1 .2 32.9 .2-1.8 .2 12.6 .2-26.2 .2 12.2 .2 3.3 .3 8.7 .2 20.1 .2-32 .2 12.4 .2-13.9 .2 26 .2-11.5 .3-.2 .2-27.7 .2 8.7 .2 14 .2-35.1 .2 33.5 .2 1.9 .3-5.1 .2 16.7 .2-16.4 .2 10.8 .2-2.9 .2-16.8 .2-17.9 .3 20.3 .2 .1 .2-8.4 .2 8.6 .2 13.4 .2-5.2 .2 5.8 .3 6.6 .2-45.9 .2 10.6 .2 3 .2 11 .2 7 .2 5.6 .3-13.7 .2 17.9 .2-32.8 .2 2.7 .2 41.4 .2-12.8 .2-11.6 .3-18.6 .2 19 .2-.3 .2-3.5 .2 3.7 .2 17.3 .2-31 .3-4.9 .2 7.6 .2 13 .2-11.1 .2 20.5 .2-16.6 .2 4.4 .3-12.4 .2 38.9 .2-40.7 .2-.2 .2 15.7 .2-15.6 .2 23 .3-4.3 .2 19.9 .2-20.9 .2-8.6 .2 3.5 .2-10.5 .2 19.8 .3-2.4 .2 3.1 .2-12.6 .2 16.8 .2-15.1 .2-3.5 .2 .7 .3 5.5 .2 5.1 .2-12.7 .2-3.3 .2-6.3 .2 17.7 .2 7.7 .3 6.7 .2-21.8 .2-12 .2 37.8 .2-40.9 .2 0 .2 37.3 .3-19.2 .2-3.8 .2-8.1 .2 24.7 .2-34.4 .2 9.3 .2-8.3 .3 15.8 .2 13.9 .2-21.2 .2 19.6 .2-23.6 .2 31.5 .2-5.7 .3-7.3 .2 8.9 .2-20 .2-26.7 .2 34.8 .2 8.4 .2 6.1 .3 8.4 .2-14.9 .2-36.7 .2 27 .2 16.7 .2-16.8 .2-7 .3 2.4 .2 33.3 .2-29.4 .2 23 .2-25.4 .2-4 .2 25.1 .3-19.7 .2 .5 .2 4.8 .2-7.1 .2 1.3 .2-7.8 .2 12.1 .3 3 .2-4.5 .2 15.3 .2-11.1 .2 18.7 .2-27 .2-12.8 .3 7.4 .2 17.1 .2 14.4 .2-22 .2 15.9 .2-12.6 .2 10.1 .3-8.3 .2-11 .2 21.7 .2-9.4 .2 1.7 .2-20.8 .2 13.1 .3-4.8 .2 12.5 .2 5.3 .2-14.6 .2 33.4 .2-20.3 .2-15.1 .3-12.7 .2 10.8 .2-6 .2 28.5 .2-27.5 .2 39.7 .2-26.9 .3-9.7 .2 26.4 .2-1.3 .2-15.9 .2 .6 .2 11.9 .2 2.5 .3-9.4 .2-.6 .2-11.4 .2 9.2 .2-4.9 .2 3.8 .2 9.8 .3-21.3 .2 7.8 .2 9.5 .2-5.7 .2-7.5 .2 4.1 .2-10.8 .3 9.5 .2 6.2 .2 26.6 .2-56.5 .2 29.7 .2 14.9 .2-.9 .3-5.9 .2-10.2 .2 16.1 .2-18.8 .2 .9 .2-2.1 .2 23.8 .3 3.6 .2-16.7 .2-6.2 .2-.9 .2 10.8 .2-28 .2 17.6 .3 14.4 .2-18.3 .2 1.3 .2-4.4 .2-11.5 .2 12.8 .2 19.2 .3-25.8 .2 5.3 .2 26.1 .2-25.7 .2 3.6 .2 7.2 .2 2.6 .3-17.8 .2-.1 .2 16.3 .2 .7 .2 2.9 .2-24.2 .2 10.5 .3 3.1 .2-3.1 .2 21.1 .2-13.7 .2 14.2 .2-3.7 .2 .5 .3-10.5 .2-6.3 .2-17.1 .2 18.3 .2 21.6 .2-15.9 .2-.7 .3 .1 .2 9.7 .2-11.5 .2 18.9 .2-21.5 .2 12.1 .2-25.5 .3 16.9 .2-3.9 .2 8.8 .2-6.1 .2-3.9 .2 4.7 .2 9.5 .3-17.8 .2-12.5 .2 6.3 .2 16.7 .2 9.3 .2-18 .2 8.8 .3 10.3 .2-.8 .2-31.5 .2 22.7 .2-16.3 .2 2.2 .2 17.4 .3-4.9 .2 8.7 .2-22.3 .2 16.8 .2-20.5 .2 16.1 .2-1.1 .3 4.1 .2-1.8 .2-6.1 .2 12.6 .2-14.8 .2 14.7 .2 3.3 .3-8.1 .2-7.3 .2-3.2 .2 6.8 .2-18.9 .2 30.5 .2-7.3 .3-3.4 .2-4.1 .2 7.8 .2-6.2 .2-5.9 .2 1 .2 6.1 .3 3.1 .2 3.6 .2-4.8 .2 5.5 .2-14.5 .2-2.1 .2 12.7 .3 6 .2-3.2 .2-21.8 .2 2.4 .2 12.6 .2 5.2 .2-8.7 .3 15.4 .2-3.8 .2-15.1 .2 9 .2-21.4 .2 3.9 .2 15.2 .3-5.4 .2 .4 .2-2.4 .2 11.7 .2-4.7 .2-3.6 .2-11.1 .3 14.5 .2 6.8 .2-.8 .2-2.9 .2 .6 .2-10 .2 1.4 .3-4.3 .2 20.5 .2-8.9 .2 5.2 .2 2.3 .2 8.5 .2-20 .3 5.7 .2-.1 .2 8.9 .2-12.6 .2 2 .2-10.1 .2 6.1 .3 2.6 .2 7.7 .2 1.9 .2-29.2 .2 35.9 .2-6.8 .2-24.6 .3 25.7 .2-5.1 .2-5.6 .2-2.1 .2-3.5 .2 10.4 .2-11.7 .3 6.5 .2 1 .2 23.2 .2-26.9 .2 3.6 .2-4.2 .2 8.8 .3 2.1 .2-16.6 .2 4.9 .2 2 .2-.4 .2 1.6 .3 .1 .2 2.4 .2-3.4 .2 .8 .2-22.8 .2 39 .2-11.7 .3-5.5 .2 4.8 .2-.1 .2 3.4 .2-2.6 .2-5.8 .2 4.1 .3-9.3 .2 16.6 .2-5.5 .2-8.7 .2 19.4 .2-8.7 .2-5.6 .3 3.8 .2-22.8 .2 19.9 .2 3.1 .2-2 .2 1.4 .2-.5 .3-10.2 .2-6.2 .2 22.6 .2-11.1 .2 .9 .2-1.4 .2 7.3 .3 5.8 .2-16.3 .2-2.5 .2 2.7 .2 11 .2-5.3 .2 .7 .3 3.5 .2-14.5 .2 .8 .2 5.6 .2 7.9 .2-12.5 .2 8 .3 14.5 .2-17.4 .2-7.5 .2 2.9 .2 5.5 .2-4.9 .2-9.5 .3 23 .2-11.9 .2 1.2 .2 8 .2 11.6 .2-26.9 .2 13.6 .3 7.7 .2-10.5 .2 6.6 .2-7.8 .2-13.4 .2 9.8 .2 1.9 .3 20.5 .2-5.8 .2 6.2 .2-4.3 .2-12.5 .2 4.2 .2-5.3 .3 .7 .2 15.1 .2-9.3 .2-25.1 .2 28.9 .2-8.8 .2 1.2 .3-10.7 .2 15.9 .2-4.8 .2-11.1 .2 11.4 .2-1.9 .2 8.9 .3-2.9 .2-16.6 .2 18.1 .2-9 .2 2.4 .2-6.2 .2-2.6 .3-1.9 .2 12.9 .2 11.5 .2-29.4 .2 14.7 .2 2.5 .2 .6 .3 1.8 .2-6.9 .2 18.4 .2-25.7 .2 9.4 .2 .2 .2 8.6 .3-9.7 .2 1.1 .2 10.9 .2-5.6 .2-10.3 .2-5.6 .2 14.6 .3-1.5 .2-5.2 .2 1.4 .2-1.8 .2 4.7 .2 7.5 .2-6.5 .3-7.1 .2-17.6 .2 29.3 .2-21 .2 15 .2-14.7 .2-.8 .3 21.1 .2-10.7 .2 .6 .2-2 .2 6.7 .2-8.6 .2 19.8 .3-16.5 .2 2.7 .2-7 .2 11.7 .2 7.6 .2-17.1 .2 12.5 .3-16.1 .2-4.5 .2 16.5 .2-.4 .2-4.8 .2 13.9 .2-14.3 .3 8 .2-3.5 .2-5.8 .2 9 .2 .1 .2-7.5 .2 13.4 .3-19.8 .2 7.4 .2-7.2 .2 15.2 .2-8.4 .2 4.4 .2-9.9 .3-4.2 .2 11.8 .2 8.2 .2-1.4 .2-7.2 .2 8.8 .2-18.8 .3 6.3 .2 17.9 .2-8.7 .2-9.9 .2-4.1 .2 14 .2-5 .3 14 .2-13.5 .2 3.8 .2 2.1 .2-24.4 .2 .1 .2 21.6 .3 .7 .2-21 .2 6.7 .2-15.1 .2 24.2 .2 1.8 .2-5.5 .3-8.1 .2 13.7 .2-1.3 .2-5 .2 11.2 .2-9.3 .2 15.2 .3-14.6 .2-1.1 .2 2.2 .2-6.2 .2-.6 .2 4.9 .2 3.5 .3 11.8 .2-9.2 .2-9.5 .2 5.6 .2-4.6 .2-2.1 .2 5.8 .3 4.5 .2-11 .2 14.7 .2 1.6 .2-3.4 .2-4.4 .2 1.3 .3-5.8 .2 8.8 .2-3.3 .2 6.3 .2 .5 .2-.1 .2-7.3 .3 5.3 .2-4.7 .2 7.8 .2-14 .2 8.5 .2-.5 .2-8.8 .3 5.8 .2-14.9 .2 8.6 .2 1.7 .2 2.1 .2 11.8 .2-5.7 .3-6 .2 7.6 .2-.3 .2 16.1 .2-28.8 .2 3 .2 13.1 .3-15.4 .2 5.9 .2 10.5 .2-15.6 .2 2.2 .2-5.3 .2 10.6 .3-5.1 .2 6.7 .2-7.4 .2 9.6 .2 .7 .2-11.2 .2 11.3 .3-5 .2 .3 .2 6.2 .2-2.2 .2-2.1 .2-12.8 .2 12.2 .3-12.3 .2 8.8 .2-1.7 .2 1.1 .2-4.5 .2-2 .2 6.1 .3 4.5 .2 1.3 .2-7.1 .2 2.1 .2 1.6 .2-3.8 .2 8.7 .3-2.9 .2-16.2 .2 6.8 .2 .3 .2-4.8 .2 19.9 .2-7.9 .3-7.3 .2-.6 .2 5.3 .2 2.7 .2-2.3 .2-7.3 .2-9.5 .3 20.4 .2 3.8 .2 2.7 .2-7.9 .2 5.4 .2-10.2 .2-2.8 .3 12.2 .2-5.2 .2 4.8 .2-9.5 .2-2.6 .2 13.5 .2 5.8 .3-6.2 .2 4.6 .2-8.8 .2-4.1 .2 22.5 .2-19.3 .2-.4 .3-4.5 .2 12.2 .2-11.8 .2-.8 .2 2.9 .2 1.5 .2-5.4 .3 2.3 .2-6.4 .2 6.5 .2-.9 .2 1.7 .2-9 .2 16 .3-3.1 .2-11.2 .2 8.7 .2-1.4 .2 2.8 .2 .1 .2-4.4 .3-2.8 .2 7.2 .2 16 .2-9.2 .2-13 .2-7 .2 8.8 .3 5.7 .2-8.5 .2-.1 .2 2.6 .2 12.3 .2-6.4 .2 12 .3-15.7 .2-2.9 .2 12.3 .2 5.6 .2-13.1 .2 2.8 .2 8 .3-13.4 .2-4 .2 6.2 .2-.4 .2 6.1 .2-10.2 .2 10.2 .3-3.2 .2 5.7 .2-10.8 .2 4.5 .2-6.9 .2 10.5 .2 9.6 .3-13.2 .2-.5 .2 2.2 .2-6.1 .2 3.6 .2 2 .2-4.5 .3-.3 .2 20.1 .2-20.8 .2-2 .2 10.2 .2 1.6 .2-6.7 .3 4.7 .2-4 .2 5.5 .2-16 .2 8.8 .2-2.1 .2 5.8 .3 17.7 .2-32.7 .2-.6 .2 15.3 .2-3.7 .2-10.7 .2 8.4 .3 12 .2-6.6 .2-11.7 .2-3.7 .2 9.5 .2 .1 .2-2.8 .3 .7 .2-6 .2 12.8 .2-3.3 .2 7.3 .2-16.1 .2 10.8 .3 .8 .2 3.6 .2-10.1 .2-.6 .2 9 .2-7.5 .2 8.8 .3-1.4 .2-9.8 .2 4.2 .2 10.7 .2-4.3 .2 5.2 .2-12.5 .3 11.6 .2-3.9 .2-10.1 .2 18.1 .2-20.1 .2 7.5 .2-4 .3 1.8 .2 10.1 .2-8.6 .2 8.3 .2-8.8 .2 22.3 .2-31.7 .3 11.2 .2 5 .2-8.1 .2-.4 .2-5.2 .2 9.3 .2-.6 .3 .1 .2-1.1 .2 .8 .2-4.3 .2 9.1 .2-9.8 .2-2 .3 14.8 .2-13.6 .2 3.5 .2-3.9 .2 9.8 .2 1.3 .2 3.9 .3-7.8 .2-.2 .2-2 .2-16 .2 25.6 .2-1.5 .2-4.9 .3-11.7 .2 16.9 .2-9.7 .2 7.7 .2-7.6 .2 20.3 .3-26.4 .2 13.5 .2-5.8 .2-6.2 .2 15.5 .2 1.8 .2-5.8 .3-10.7 .2 7.3 .2 4.5 .2-29.6 .2 38.8 .2-17.6 .2 5.2 .3-7.4 .2 12.4 .2-.2 .2-5.1 .2 .8 .2-9.3 .2 2 .3 8.4 .2 7 .2-6 .2 2.1 .2 10.7 .2-18.9 .2 .2 .3 4.5 .2 6.1 .2-8.6 .2 6.7 .2-1.6 .2-8.6 .2 13.7 .3-9.4 .2 3 .2 2.6 .2-19.6 .2 16.4 .2-9.2 .2 6.1 .3 7.6 .2-15.9 .2 11.9 .2-5.2 .2-1.2 .2-5 .2 1.3 .3 17.2 .2-8 .2-11.7 .2 15.4 .2-3.9 .2-2.7 .2 0 .3 1.2 .2-15.8 .2 16.5 .2-7.2 .2 9 .2-9.6 .2 13.6 .3 5.8 .2-17.3 .2-4 .2 12 .2 9.6 .2-19.3 .2 10.2 .3-3.1 .2-12.4 .2 12.7 .2-9.1 .2 12.9 .2-2.3 .2-9.9 .3 9.3 .2 .1 .2-6 .2 1.4 .2 6.1 .2-1.1 .2-17 .3 12 .2-.9 .2 12.6 .2-2.2 .2-25.8 .2 9.2 .2 9.2 .3 .5 .2 2 .2 5.2 .2 4.9 .2-8.3 .2 .1 .2-4.3 .3 2.7 .2-8.8 .2 1.5 .2 3.8 .2-3 .2 .2 .2 10.8 .3-16.3 .2 9.6 .2 17.1 .2-19.3 .2 17.3 .2-4.5 .2 4.7 .3-1.6 .2-10.4 .2 3.4 .2-10.1 .2 8.1 .2-4.5 .2-.1 .3 .1 .2 8.3 .2-15.9 .2-1.7 .2 19.4 .2-2.6 .2-10 .3 15.7 .2 1.4 .2-18 .2 3.9 .2-.6 .2 4.8 .2-8.1 .3 15.5 .2-7.4 .2 2.2 .2-1.3 .2 9.5 .2-11.5 .2-2.8 .3-18.6 .2 11.1 .2 4.5 .2-3 .2 6.8 .2-8.1 .2 4.4 .3-2.2 .2 1.6 .2 8.2 .2-4.7 .2-4.6 .2-4.1 .2 15.2 .3-23.8 .2 1.7 .2 5.1 .2 7.3 .2-1.9 .2-2.7 .2 14.7 .3 6.2 .2-6.7 .2-6.5 .2-3.2 .2-1 .2-2.9 .2-1.6 .3 9.7 .2 2.3 .2 .8 .2-19.4 .2 9.7 .2 7.2 .2-5.5 .3 12.2 .2-10.5 .2-.6 .2-3.8 .2 1 .2 21 .2-12.6 .3-9.8 .2 9 .2 7.7 .2-14.1 .2-2.8 .2-.7 .2 1.6 .3 20.1 .2-7 .2-2.1 .2-16.3 .2 9.7 .2 2.9 .2 .1 .3-3.4 .2-5.8 .2 4.2 .2 4.3 .2-11.5 .2 8.3 .2 6.4 .3-14.1 .2 18.2 .2-5.8 .2-12.8 .2 8.5 .2-4.3 .2 13.1 .3-4.6 .2-.3 .2-3 .2 11.2 .2-8.9 .2 8.2 .2-13.6 .3 5.9 .2 .5 .2 7.9 .2-12.2 .2 6.4 .2-9.6 .2-1.9 .3-6.2 .2 16.8 .2 9.7 .2-11.3 .2-3.3 .2 4.8 .2-4 .3-6.8 .2 11.2 .2-4.3 .2-8.5 .2 10 .2-5.5 .2 7.9 .3-.6 .2-2.4 .2 1.9 .2 5.6" fill="none" stroke="#0a0a0a" stroke-width="1.0" stroke-linejoin="round"/>
<rect x="895.9" y="25.5" width="621.3" height="488.7" fill="none" stroke="#6e6e6e" stroke-width="1.2"/>
<text x="885" y="36.1" font-size="29.3" text-anchor="end" font-family='"Liberation Sans", Arial, sans-serif' fill="#1a1a1a"  stroke="#1a1a1a" stroke-width="0.35">0.4</text>
<path d="M895.9 147.7 h6.5 M1517.2 147.7 h-6.5" stroke="#6e6e6e" stroke-width="1.2"/>
<text x="885" y="158.2" font-size="29.3" text-anchor="end" font-family='"Liberation Sans", Arial, sans-serif' fill="#1a1a1a"  stroke="#1a1a1a" stroke-width="0.35">0.2</text>
<path d="M895.9 269.8 h6.5 M1517.2 269.8 h-6.5" stroke="#6e6e6e" stroke-width="1.2"/>
<text x="885" y="280.3" font-size="29.3" text-anchor="end" font-family='"Liberation Sans", Arial, sans-serif' fill="#1a1a1a"  stroke="#1a1a1a" stroke-width="0.35">0</text>
<path d="M895.9 391.9 h6.5 M1517.2 391.9 h-6.5" stroke="#6e6e6e" stroke-width="1.2"/>
<text x="885" y="402.4" font-size="29.3" text-anchor="end" font-family='"Liberation Sans", Arial, sans-serif' fill="#1a1a1a"  stroke="#1a1a1a" stroke-width="0.35">-0.2</text>
<text x="885" y="524.5" font-size="29.3" text-anchor="end" font-family='"Liberation Sans", Arial, sans-serif' fill="#1a1a1a"  stroke="#1a1a1a" stroke-width="0.35">-0.4</text>
<text transform="translate(832.5,270) rotate(-90)" font-size="33.0" text-anchor="middle" font-family='"Liberation Sans", Arial, sans-serif' fill="#1a1a1a" stroke="#1a1a1a" stroke-width="0.35">Amplitude</text>
<text x="912.5" y="65.5" font-size="40" text-anchor="start" font-family='"Liberation Serif", "Times New Roman", serif' fill="#111" font-weight="bold">(b)</text>
</g>
</svg>
</body></html>
